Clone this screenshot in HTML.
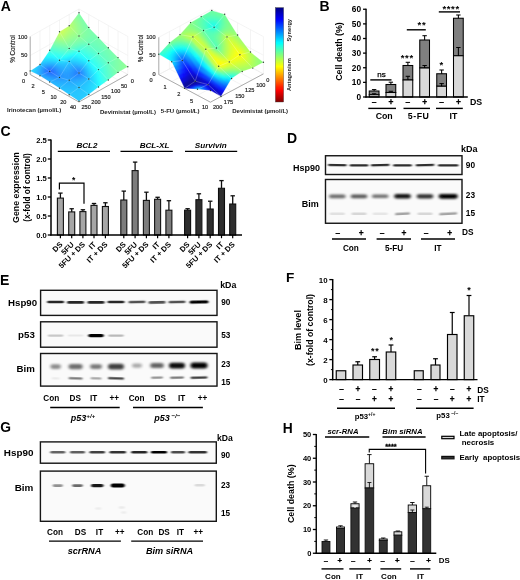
<!DOCTYPE html>
<html lang="en">
<head>
<meta charset="utf-8">
<title>Figure</title>
<style>
html,body{margin:0;padding:0;background:#fff;}
body{width:520px;height:580px;overflow:hidden;font-family:"Liberation Sans", Arial, sans-serif;}
svg{display:block;}
svg text{font-family:"Liberation Sans", Arial, sans-serif;}
</style>
</head>
<body>
<svg width="520" height="580" viewBox="0 0 520 580">
<defs>
<filter id="b1" x="-20%" y="-100%" width="140%" height="300%"><feGaussianBlur stdDeviation="1.1 0.7"/></filter>
<filter id="b2" x="-20%" y="-100%" width="140%" height="300%"><feGaussianBlur stdDeviation="1.4 1.0"/></filter>
<filter id="b3" x="-20%" y="-100%" width="140%" height="300%"><feGaussianBlur stdDeviation="1.0 0.5"/></filter>
<filter id="sb" x="-5%" y="-5%" width="110%" height="110%"><feGaussianBlur stdDeviation="0.6"/></filter>
<filter id="surfblur" x="-5%" y="-5%" width="110%" height="110%"><feGaussianBlur stdDeviation="0.8"/><feComponentTransfer><feFuncA type="linear" slope="12" intercept="0"/></feComponentTransfer></filter>
<filter id="soft" x="-2%" y="-2%" width="104%" height="104%"><feGaussianBlur stdDeviation="0.36"/></filter>
<linearGradient id="jetbar" x1="0" y1="0" x2="0" y2="1">
<stop offset="0" stop-color="#000080"/>
<stop offset="0.125" stop-color="#0000ff"/>
<stop offset="0.375" stop-color="#00ffff"/>
<stop offset="0.625" stop-color="#ffff00"/>
<stop offset="0.875" stop-color="#ff0000"/>
<stop offset="1" stop-color="#800000"/>
</linearGradient>
</defs>
<rect x="0" y="0" width="520" height="580" fill="#ffffff"/>
<g filter="url(#soft)">
<text x="0.8" y="10.6" font-size="14" font-weight="bold">A</text>
<polyline points="30.2,74.5 79.0,47.0 127.8,74.5" fill="none" stroke="#ececec" stroke-width="0.6"/>
<polyline points="30.2,55.5 79.0,28.0 127.8,55.5" fill="none" stroke="#ececec" stroke-width="0.6"/>
<polyline points="30.2,36.5 79.0,9.0 127.8,36.5" fill="none" stroke="#ececec" stroke-width="0.6"/>
<line x1="30.20" y1="74.50" x2="30.20" y2="36.50" stroke="#ececec" stroke-width="0.6"/>
<line x1="79.00" y1="47.00" x2="79.00" y2="9.00" stroke="#ececec" stroke-width="0.6"/>
<line x1="30.20" y1="74.50" x2="79.00" y2="47.00" stroke="#ececec" stroke-width="0.6"/>
<line x1="79.00" y1="102.00" x2="30.20" y2="74.50" stroke="#ececec" stroke-width="0.6"/>
<line x1="39.96" y1="69.00" x2="39.96" y2="31.00" stroke="#ececec" stroke-width="0.6"/>
<line x1="88.76" y1="52.50" x2="88.76" y2="14.50" stroke="#ececec" stroke-width="0.6"/>
<line x1="39.96" y1="80.00" x2="88.76" y2="52.50" stroke="#ececec" stroke-width="0.6"/>
<line x1="88.76" y1="96.50" x2="39.96" y2="69.00" stroke="#ececec" stroke-width="0.6"/>
<line x1="49.72" y1="63.50" x2="49.72" y2="25.50" stroke="#ececec" stroke-width="0.6"/>
<line x1="98.52" y1="58.00" x2="98.52" y2="20.00" stroke="#ececec" stroke-width="0.6"/>
<line x1="49.72" y1="85.50" x2="98.52" y2="58.00" stroke="#ececec" stroke-width="0.6"/>
<line x1="98.52" y1="91.00" x2="49.72" y2="63.50" stroke="#ececec" stroke-width="0.6"/>
<line x1="59.48" y1="58.00" x2="59.48" y2="20.00" stroke="#ececec" stroke-width="0.6"/>
<line x1="108.28" y1="63.50" x2="108.28" y2="25.50" stroke="#ececec" stroke-width="0.6"/>
<line x1="59.48" y1="91.00" x2="108.28" y2="63.50" stroke="#ececec" stroke-width="0.6"/>
<line x1="108.28" y1="85.50" x2="59.48" y2="58.00" stroke="#ececec" stroke-width="0.6"/>
<line x1="69.24" y1="52.50" x2="69.24" y2="14.50" stroke="#ececec" stroke-width="0.6"/>
<line x1="118.04" y1="69.00" x2="118.04" y2="31.00" stroke="#ececec" stroke-width="0.6"/>
<line x1="69.24" y1="96.50" x2="118.04" y2="69.00" stroke="#ececec" stroke-width="0.6"/>
<line x1="118.04" y1="80.00" x2="69.24" y2="52.50" stroke="#ececec" stroke-width="0.6"/>
<line x1="79.00" y1="47.00" x2="79.00" y2="9.00" stroke="#ececec" stroke-width="0.6"/>
<line x1="127.80" y1="74.50" x2="127.80" y2="36.50" stroke="#ececec" stroke-width="0.6"/>
<line x1="79.00" y1="102.00" x2="127.80" y2="74.50" stroke="#ececec" stroke-width="0.6"/>
<line x1="127.80" y1="74.50" x2="79.00" y2="47.00" stroke="#ececec" stroke-width="0.6"/>
<line x1="30.20" y1="74.50" x2="30.20" y2="36.50" stroke="#8c8c8c" stroke-width="0.7"/>
<line x1="30.20" y1="74.50" x2="79.00" y2="102.00" stroke="#8c8c8c" stroke-width="0.7"/>
<line x1="79.00" y1="102.00" x2="127.80" y2="74.50" stroke="#8c8c8c" stroke-width="0.7"/>
<clipPath id="cs1">
<polygon points="69.2,25.7 79.0,36.0 88.8,27.4 79.0,12.8"/>
<polygon points="59.5,31.7 69.2,48.4 79.0,36.0 69.2,25.7"/>
<polygon points="79.0,36.0 88.8,44.3 98.5,37.5 88.8,27.4"/>
<polygon points="49.7,50.2 59.5,60.2 69.2,48.4 59.5,31.7"/>
<polygon points="69.2,48.4 79.0,51.2 88.8,44.3 79.0,36.0"/>
<polygon points="88.8,44.3 98.5,53.5 108.3,47.7 98.5,37.5"/>
<polygon points="40.0,64.5 49.7,71.4 59.5,60.2 49.7,50.2"/>
<polygon points="59.5,60.2 69.2,61.4 79.0,51.2 69.2,48.4"/>
<polygon points="79.0,51.2 88.8,60.7 98.5,53.5 88.8,44.3"/>
<polygon points="98.5,53.5 108.3,62.7 118.0,57.6 108.3,47.7"/>
<polygon points="30.2,70.9 40.0,75.7 49.7,71.4 40.0,64.5"/>
<polygon points="49.7,71.4 59.5,77.4 69.2,61.4 59.5,60.2"/>
<polygon points="69.2,61.4 79.0,73.0 88.8,60.7 79.0,51.2"/>
<polygon points="88.8,60.7 98.5,69.6 108.3,62.7 98.5,53.5"/>
<polygon points="108.3,62.7 118.0,72.4 127.8,66.8 118.0,57.6"/>
<polygon points="40.0,75.7 49.7,82.0 59.5,77.4 49.7,71.4"/>
<polygon points="59.5,77.4 69.2,80.3 79.0,73.0 69.2,61.4"/>
<polygon points="79.0,73.0 88.8,79.0 98.5,69.6 88.8,60.7"/>
<polygon points="98.5,69.6 108.3,80.0 118.0,72.4 108.3,62.7"/>
<polygon points="49.7,82.0 59.5,88.3 69.2,80.3 59.5,77.4"/>
<polygon points="69.2,80.3 79.0,87.5 88.8,79.0 79.0,73.0"/>
<polygon points="88.8,79.0 98.5,87.0 108.3,80.0 98.5,69.6"/>
<polygon points="59.5,88.3 69.2,94.7 79.0,87.5 69.2,80.3"/>
<polygon points="79.0,87.5 88.8,94.5 98.5,87.0 88.8,79.0"/>
<polygon points="69.2,94.7 79.0,101.3 88.8,94.5 79.0,87.5"/>
</clipPath>
<g clip-path="url(#cs1)"><g filter="url(#surfblur)">
<polygon points="77.0,15.4 79.0,18.1 81.0,15.7 79.0,12.8" fill="#82ffa8" stroke="#82ffa8" stroke-width="0.5"/>
<polygon points="75.1,18.0 77.0,20.5 79.0,18.1 77.0,15.4" fill="#8fff9c" stroke="#8fff9c" stroke-width="0.5"/>
<polygon points="73.1,20.5 75.1,22.9 77.0,20.5 75.1,18.0" fill="#9cff8f" stroke="#9cff8f" stroke-width="0.5"/>
<polygon points="71.2,23.1 73.1,25.4 75.1,22.9 73.1,20.5" fill="#a8ff82" stroke="#a8ff82" stroke-width="0.5"/>
<polygon points="69.2,25.7 71.2,27.8 73.1,25.4 71.2,23.1" fill="#b5ff75" stroke="#b5ff75" stroke-width="0.5"/>
<polygon points="79.0,18.1 81.0,20.9 82.9,18.6 81.0,15.7" fill="#81ffa9" stroke="#81ffa9" stroke-width="0.5"/>
<polygon points="77.0,20.5 79.0,23.1 81.0,20.9 79.0,18.1" fill="#8cff9e" stroke="#8cff9e" stroke-width="0.5"/>
<polygon points="75.1,22.9 77.0,25.3 79.0,23.1 77.0,20.5" fill="#97ff93" stroke="#97ff93" stroke-width="0.5"/>
<polygon points="73.1,25.4 75.1,27.6 77.0,25.3 75.1,22.9" fill="#a2ff88" stroke="#a2ff88" stroke-width="0.5"/>
<polygon points="71.2,27.8 73.1,29.8 75.1,27.6 73.1,25.4" fill="#adff7d" stroke="#adff7d" stroke-width="0.5"/>
<polygon points="81.0,20.9 82.9,23.6 84.9,21.6 82.9,18.6" fill="#80ffaa" stroke="#80ffaa" stroke-width="0.5"/>
<polygon points="79.0,23.1 81.0,25.7 82.9,23.6 81.0,20.9" fill="#8affa1" stroke="#8affa1" stroke-width="0.5"/>
<polygon points="77.0,25.3 79.0,27.8 81.0,25.7 79.0,23.1" fill="#93ff97" stroke="#93ff97" stroke-width="0.5"/>
<polygon points="75.1,27.6 77.0,29.8 79.0,27.8 77.0,25.3" fill="#9cff8e" stroke="#9cff8e" stroke-width="0.5"/>
<polygon points="73.1,29.8 75.1,31.9 77.0,29.8 75.1,27.6" fill="#a6ff85" stroke="#a6ff85" stroke-width="0.5"/>
<polygon points="82.9,23.6 84.9,26.4 86.8,24.5 84.9,21.6" fill="#80ffab" stroke="#80ffab" stroke-width="0.5"/>
<polygon points="81.0,25.7 82.9,28.3 84.9,26.4 82.9,23.6" fill="#87ffa3" stroke="#87ffa3" stroke-width="0.5"/>
<polygon points="79.0,27.8 81.0,30.2 82.9,28.3 81.0,25.7" fill="#8fff9c" stroke="#8fff9c" stroke-width="0.5"/>
<polygon points="77.0,29.8 79.0,32.0 81.0,30.2 79.0,27.8" fill="#96ff94" stroke="#96ff94" stroke-width="0.5"/>
<polygon points="75.1,31.9 77.0,33.9 79.0,32.0 77.0,29.8" fill="#9eff8c" stroke="#9eff8c" stroke-width="0.5"/>
<polygon points="84.9,26.4 86.8,29.1 88.8,27.4 86.8,24.5" fill="#7fffac" stroke="#7fffac" stroke-width="0.5"/>
<polygon points="82.9,28.3 84.9,30.8 86.8,29.1 84.9,26.4" fill="#85ffa6" stroke="#85ffa6" stroke-width="0.5"/>
<polygon points="81.0,30.2 82.9,32.6 84.9,30.8 82.9,28.3" fill="#8bffa0" stroke="#8bffa0" stroke-width="0.5"/>
<polygon points="79.0,32.0 81.0,34.3 82.9,32.6 81.0,30.2" fill="#91ff9a" stroke="#91ff9a" stroke-width="0.5"/>
<polygon points="77.0,33.9 79.0,36.0 81.0,34.3 79.0,32.0" fill="#96ff94" stroke="#96ff94" stroke-width="0.5"/>
<polygon points="67.3,26.9 69.2,29.2 71.2,27.8 69.2,25.7" fill="#bdff6d" stroke="#bdff6d" stroke-width="0.5"/>
<polygon points="65.3,28.1 67.3,30.7 69.2,29.2 67.3,26.9" fill="#c1ff69" stroke="#c1ff69" stroke-width="0.5"/>
<polygon points="63.4,29.3 65.3,32.1 67.3,30.7 65.3,28.1" fill="#c5ff65" stroke="#c5ff65" stroke-width="0.5"/>
<polygon points="61.4,30.5 63.4,33.6 65.3,32.1 63.4,29.3" fill="#c9ff61" stroke="#c9ff61" stroke-width="0.5"/>
<polygon points="59.5,31.7 61.4,35.0 63.4,33.6 61.4,30.5" fill="#cdff5e" stroke="#cdff5e" stroke-width="0.5"/>
<polygon points="69.2,29.2 71.2,31.5 73.1,29.8 71.2,27.8" fill="#b4ff77" stroke="#b4ff77" stroke-width="0.5"/>
<polygon points="67.3,30.7 69.2,33.2 71.2,31.5 69.2,29.2" fill="#b5ff75" stroke="#b5ff75" stroke-width="0.5"/>
<polygon points="65.3,32.1 67.3,35.0 69.2,33.2 67.3,30.7" fill="#b7ff74" stroke="#b7ff74" stroke-width="0.5"/>
<polygon points="63.4,33.6 65.3,36.7 67.3,35.0 65.3,32.1" fill="#b8ff72" stroke="#b8ff72" stroke-width="0.5"/>
<polygon points="61.4,35.0 63.4,38.4 65.3,36.7 63.4,33.6" fill="#baff71" stroke="#baff71" stroke-width="0.5"/>
<polygon points="71.2,31.5 73.1,33.8 75.1,31.9 73.1,29.8" fill="#aaff80" stroke="#aaff80" stroke-width="0.5"/>
<polygon points="69.2,33.2 71.2,35.8 73.1,33.8 71.2,31.5" fill="#a9ff81" stroke="#a9ff81" stroke-width="0.5"/>
<polygon points="67.3,35.0 69.2,37.8 71.2,35.8 69.2,33.2" fill="#a8ff82" stroke="#a8ff82" stroke-width="0.5"/>
<polygon points="65.3,36.7 67.3,39.8 69.2,37.8 67.3,35.0" fill="#a7ff83" stroke="#a7ff83" stroke-width="0.5"/>
<polygon points="63.4,38.4 65.3,41.7 67.3,39.8 65.3,36.7" fill="#a7ff84" stroke="#a7ff84" stroke-width="0.5"/>
<polygon points="73.1,33.8 75.1,36.2 77.0,33.9 75.1,31.9" fill="#a0ff8a" stroke="#a0ff8a" stroke-width="0.5"/>
<polygon points="71.2,35.8 73.1,38.4 75.1,36.2 73.1,33.8" fill="#9dff8d" stroke="#9dff8d" stroke-width="0.5"/>
<polygon points="69.2,37.8 71.2,40.6 73.1,38.4 71.2,35.8" fill="#9aff91" stroke="#9aff91" stroke-width="0.5"/>
<polygon points="67.3,39.8 69.2,42.8 71.2,40.6 69.2,37.8" fill="#97ff94" stroke="#97ff94" stroke-width="0.5"/>
<polygon points="65.3,41.7 67.3,45.1 69.2,42.8 67.3,39.8" fill="#93ff97" stroke="#93ff97" stroke-width="0.5"/>
<polygon points="75.1,36.2 77.0,38.5 79.0,36.0 77.0,33.9" fill="#97ff94" stroke="#97ff94" stroke-width="0.5"/>
<polygon points="73.1,38.4 75.1,41.0 77.0,38.5 75.1,36.2" fill="#91ff99" stroke="#91ff99" stroke-width="0.5"/>
<polygon points="71.2,40.6 73.1,43.4 75.1,41.0 73.1,38.4" fill="#8bff9f" stroke="#8bff9f" stroke-width="0.5"/>
<polygon points="69.2,42.8 71.2,45.9 73.1,43.4 71.2,40.6" fill="#86ffa4" stroke="#86ffa4" stroke-width="0.5"/>
<polygon points="67.3,45.1 69.2,48.4 71.2,45.9 69.2,42.8" fill="#80ffaa" stroke="#80ffaa" stroke-width="0.5"/>
<polygon points="86.8,29.1 88.8,31.1 90.7,29.4 88.8,27.4" fill="#7effac" stroke="#7effac" stroke-width="0.5"/>
<polygon points="84.9,30.8 86.8,32.7 88.8,31.1 86.8,29.1" fill="#82ffa8" stroke="#82ffa8" stroke-width="0.5"/>
<polygon points="82.9,32.6 84.9,34.4 86.8,32.7 84.9,30.8" fill="#86ffa4" stroke="#86ffa4" stroke-width="0.5"/>
<polygon points="81.0,34.3 82.9,36.0 84.9,34.4 82.9,32.6" fill="#8bffa0" stroke="#8bffa0" stroke-width="0.5"/>
<polygon points="79.0,36.0 81.0,37.7 82.9,36.0 81.0,34.3" fill="#8fff9c" stroke="#8fff9c" stroke-width="0.5"/>
<polygon points="88.8,31.1 90.7,33.0 92.7,31.4 90.7,29.4" fill="#7dffad" stroke="#7dffad" stroke-width="0.5"/>
<polygon points="86.8,32.7 88.8,34.6 90.7,33.0 88.8,31.1" fill="#80ffab" stroke="#80ffab" stroke-width="0.5"/>
<polygon points="84.9,34.4 86.8,36.2 88.8,34.6 86.8,32.7" fill="#82ffa8" stroke="#82ffa8" stroke-width="0.5"/>
<polygon points="82.9,36.0 84.9,37.7 86.8,36.2 84.9,34.4" fill="#85ffa6" stroke="#85ffa6" stroke-width="0.5"/>
<polygon points="81.0,37.7 82.9,39.3 84.9,37.7 82.9,36.0" fill="#87ffa3" stroke="#87ffa3" stroke-width="0.5"/>
<polygon points="90.7,33.0 92.7,35.0 94.6,33.5 92.7,31.4" fill="#7cffae" stroke="#7cffae" stroke-width="0.5"/>
<polygon points="88.8,34.6 90.7,36.5 92.7,35.0 90.7,33.0" fill="#7dffad" stroke="#7dffad" stroke-width="0.5"/>
<polygon points="86.8,36.2 88.8,38.0 90.7,36.5 88.8,34.6" fill="#7effac" stroke="#7effac" stroke-width="0.5"/>
<polygon points="84.9,37.7 86.8,39.5 88.8,38.0 86.8,36.2" fill="#7fffac" stroke="#7fffac" stroke-width="0.5"/>
<polygon points="82.9,39.3 84.9,41.0 86.8,39.5 84.9,37.7" fill="#80ffab" stroke="#80ffab" stroke-width="0.5"/>
<polygon points="92.7,35.0 94.6,36.9 96.6,35.5 94.6,33.5" fill="#7bffaf" stroke="#7bffaf" stroke-width="0.5"/>
<polygon points="90.7,36.5 92.7,38.3 94.6,36.9 92.7,35.0" fill="#7bffb0" stroke="#7bffb0" stroke-width="0.5"/>
<polygon points="88.8,38.0 90.7,39.8 92.7,38.3 90.7,36.5" fill="#7affb1" stroke="#7affb1" stroke-width="0.5"/>
<polygon points="86.8,39.5 88.8,41.2 90.7,39.8 88.8,38.0" fill="#79ffb2" stroke="#79ffb2" stroke-width="0.5"/>
<polygon points="84.9,41.0 86.8,42.6 88.8,41.2 86.8,39.5" fill="#78ffb2" stroke="#78ffb2" stroke-width="0.5"/>
<polygon points="94.6,36.9 96.6,38.9 98.5,37.5 96.6,35.5" fill="#7bffb0" stroke="#7bffb0" stroke-width="0.5"/>
<polygon points="92.7,38.3 94.6,40.2 96.6,38.9 94.6,36.9" fill="#78ffb2" stroke="#78ffb2" stroke-width="0.5"/>
<polygon points="90.7,39.8 92.7,41.6 94.6,40.2 92.7,38.3" fill="#75ffb5" stroke="#75ffb5" stroke-width="0.5"/>
<polygon points="88.8,41.2 90.7,42.9 92.7,41.6 90.7,39.8" fill="#73ffb7" stroke="#73ffb7" stroke-width="0.5"/>
<polygon points="86.8,42.6 88.8,44.3 90.7,42.9 88.8,41.2" fill="#70ffba" stroke="#70ffba" stroke-width="0.5"/>
<polygon points="57.5,35.4 59.5,38.5 61.4,35.0 59.5,31.7" fill="#c2ff69" stroke="#c2ff69" stroke-width="0.5"/>
<polygon points="55.6,39.1 57.5,41.9 59.5,38.5 57.5,35.4" fill="#a8ff83" stroke="#a8ff83" stroke-width="0.5"/>
<polygon points="53.6,42.8 55.6,45.3 57.5,41.9 55.6,39.1" fill="#8eff9d" stroke="#8eff9d" stroke-width="0.5"/>
<polygon points="51.7,46.5 53.6,48.8 55.6,45.3 53.6,42.8" fill="#73ffb7" stroke="#73ffb7" stroke-width="0.5"/>
<polygon points="49.7,50.2 51.7,52.2 53.6,48.8 51.7,46.5" fill="#59ffd1" stroke="#59ffd1" stroke-width="0.5"/>
<polygon points="59.5,38.5 61.4,41.5 63.4,38.4 61.4,35.0" fill="#aeff7c" stroke="#aeff7c" stroke-width="0.5"/>
<polygon points="57.5,41.9 59.5,44.7 61.4,41.5 59.5,38.5" fill="#96ff94" stroke="#96ff94" stroke-width="0.5"/>
<polygon points="55.6,45.3 57.5,47.9 59.5,44.7 57.5,41.9" fill="#7effac" stroke="#7effac" stroke-width="0.5"/>
<polygon points="53.6,48.8 55.6,51.0 57.5,47.9 55.6,45.3" fill="#66ffc4" stroke="#66ffc4" stroke-width="0.5"/>
<polygon points="51.7,52.2 53.6,54.2 55.6,51.0 53.6,48.8" fill="#4effdc" stroke="#4effdc" stroke-width="0.5"/>
<polygon points="61.4,41.5 63.4,44.6 65.3,41.7 63.4,38.4" fill="#9bff8f" stroke="#9bff8f" stroke-width="0.5"/>
<polygon points="59.5,44.7 61.4,47.5 63.4,44.6 61.4,41.5" fill="#85ffa5" stroke="#85ffa5" stroke-width="0.5"/>
<polygon points="57.5,47.9 59.5,50.4 61.4,47.5 59.5,44.7" fill="#6fffbb" stroke="#6fffbb" stroke-width="0.5"/>
<polygon points="55.6,51.0 57.5,53.3 59.5,50.4 57.5,47.9" fill="#59ffd1" stroke="#59ffd1" stroke-width="0.5"/>
<polygon points="53.6,54.2 55.6,56.2 57.5,53.3 55.6,51.0" fill="#43ffe7" stroke="#43ffe7" stroke-width="0.5"/>
<polygon points="63.4,44.6 65.3,47.7 67.3,45.1 65.3,41.7" fill="#88ffa3" stroke="#88ffa3" stroke-width="0.5"/>
<polygon points="61.4,47.5 63.4,50.3 65.3,47.7 63.4,44.6" fill="#74ffb7" stroke="#74ffb7" stroke-width="0.5"/>
<polygon points="59.5,50.4 61.4,52.9 63.4,50.3 61.4,47.5" fill="#60ffcb" stroke="#60ffcb" stroke-width="0.5"/>
<polygon points="57.5,53.3 59.5,55.6 61.4,52.9 59.5,50.4" fill="#4cffde" stroke="#4cffde" stroke-width="0.5"/>
<polygon points="55.6,56.2 57.5,58.2 59.5,55.6 57.5,53.3" fill="#38fff2" stroke="#38fff2" stroke-width="0.5"/>
<polygon points="65.3,47.7 67.3,50.8 69.2,48.4 67.3,45.1" fill="#74ffb6" stroke="#74ffb6" stroke-width="0.5"/>
<polygon points="63.4,50.3 65.3,53.1 67.3,50.8 65.3,47.7" fill="#63ffc8" stroke="#63ffc8" stroke-width="0.5"/>
<polygon points="61.4,52.9 63.4,55.5 65.3,53.1 63.4,50.3" fill="#51ffda" stroke="#51ffda" stroke-width="0.5"/>
<polygon points="59.5,55.6 61.4,57.8 63.4,55.5 61.4,52.9" fill="#3fffec" stroke="#3fffec" stroke-width="0.5"/>
<polygon points="57.5,58.2 59.5,60.2 61.4,57.8 59.5,55.6" fill="#2dfffe" stroke="#2dfffe" stroke-width="0.5"/>
<polygon points="77.0,38.5 79.0,39.9 81.0,37.7 79.0,36.0" fill="#8dff9d" stroke="#8dff9d" stroke-width="0.5"/>
<polygon points="75.1,41.0 77.0,42.2 79.0,39.9 77.0,38.5" fill="#87ffa4" stroke="#87ffa4" stroke-width="0.5"/>
<polygon points="73.1,43.4 75.1,44.4 77.0,42.2 75.1,41.0" fill="#80ffab" stroke="#80ffab" stroke-width="0.5"/>
<polygon points="71.2,45.9 73.1,46.7 75.1,44.4 73.1,43.4" fill="#79ffb2" stroke="#79ffb2" stroke-width="0.5"/>
<polygon points="69.2,48.4 71.2,49.0 73.1,46.7 71.2,45.9" fill="#72ffb9" stroke="#72ffb9" stroke-width="0.5"/>
<polygon points="79.0,39.9 81.0,41.4 82.9,39.3 81.0,37.7" fill="#85ffa6" stroke="#85ffa6" stroke-width="0.5"/>
<polygon points="77.0,42.2 79.0,43.4 81.0,41.4 79.0,39.9" fill="#7effad" stroke="#7effad" stroke-width="0.5"/>
<polygon points="75.1,44.4 77.0,45.4 79.0,43.4 77.0,42.2" fill="#76ffb4" stroke="#76ffb4" stroke-width="0.5"/>
<polygon points="73.1,46.7 75.1,47.5 77.0,45.4 75.1,44.4" fill="#6fffbb" stroke="#6fffbb" stroke-width="0.5"/>
<polygon points="71.2,49.0 73.1,49.5 75.1,47.5 73.1,46.7" fill="#68ffc3" stroke="#68ffc3" stroke-width="0.5"/>
<polygon points="81.0,41.4 82.9,42.8 84.9,41.0 82.9,39.3" fill="#7cffae" stroke="#7cffae" stroke-width="0.5"/>
<polygon points="79.0,43.4 81.0,44.6 82.9,42.8 81.0,41.4" fill="#75ffb6" stroke="#75ffb6" stroke-width="0.5"/>
<polygon points="77.0,45.4 79.0,46.4 81.0,44.6 79.0,43.4" fill="#6dffbd" stroke="#6dffbd" stroke-width="0.5"/>
<polygon points="75.1,47.5 77.0,48.3 79.0,46.4 77.0,45.4" fill="#65ffc5" stroke="#65ffc5" stroke-width="0.5"/>
<polygon points="73.1,49.5 75.1,50.1 77.0,48.3 75.1,47.5" fill="#5effcd" stroke="#5effcd" stroke-width="0.5"/>
<polygon points="82.9,42.8 84.9,44.2 86.8,42.6 84.9,41.0" fill="#74ffb7" stroke="#74ffb7" stroke-width="0.5"/>
<polygon points="81.0,44.6 82.9,45.8 84.9,44.2 82.9,42.8" fill="#6cffbf" stroke="#6cffbf" stroke-width="0.5"/>
<polygon points="79.0,46.4 81.0,47.4 82.9,45.8 81.0,44.6" fill="#64ffc7" stroke="#64ffc7" stroke-width="0.5"/>
<polygon points="77.0,48.3 79.0,49.0 81.0,47.4 79.0,46.4" fill="#5cffcf" stroke="#5cffcf" stroke-width="0.5"/>
<polygon points="75.1,50.1 77.0,50.6 79.0,49.0 77.0,48.3" fill="#54ffd7" stroke="#54ffd7" stroke-width="0.5"/>
<polygon points="84.9,44.2 86.8,45.7 88.8,44.3 86.8,42.6" fill="#6bffbf" stroke="#6bffbf" stroke-width="0.5"/>
<polygon points="82.9,45.8 84.9,47.1 86.8,45.7 84.9,44.2" fill="#63ffc8" stroke="#63ffc8" stroke-width="0.5"/>
<polygon points="81.0,47.4 82.9,48.4 84.9,47.1 82.9,45.8" fill="#5affd0" stroke="#5affd0" stroke-width="0.5"/>
<polygon points="79.0,49.0 81.0,49.8 82.9,48.4 81.0,47.4" fill="#52ffd8" stroke="#52ffd8" stroke-width="0.5"/>
<polygon points="77.0,50.6 79.0,51.2 81.0,49.8 79.0,49.0" fill="#4affe1" stroke="#4affe1" stroke-width="0.5"/>
<polygon points="96.6,38.9 98.5,40.9 100.5,39.5 98.5,37.5" fill="#7affb0" stroke="#7affb0" stroke-width="0.5"/>
<polygon points="94.6,40.2 96.6,42.2 98.5,40.9 96.6,38.9" fill="#76ffb4" stroke="#76ffb4" stroke-width="0.5"/>
<polygon points="92.7,41.6 94.6,43.5 96.6,42.2 94.6,40.2" fill="#73ffb7" stroke="#73ffb7" stroke-width="0.5"/>
<polygon points="90.7,42.9 92.7,44.8 94.6,43.5 92.7,41.6" fill="#6fffbb" stroke="#6fffbb" stroke-width="0.5"/>
<polygon points="88.8,44.3 90.7,46.1 92.7,44.8 90.7,42.9" fill="#6cffbf" stroke="#6cffbf" stroke-width="0.5"/>
<polygon points="98.5,40.9 100.5,42.9 102.4,41.6 100.5,39.5" fill="#7affb1" stroke="#7affb1" stroke-width="0.5"/>
<polygon points="96.6,42.2 98.5,44.1 100.5,42.9 98.5,40.9" fill="#76ffb4" stroke="#76ffb4" stroke-width="0.5"/>
<polygon points="94.6,43.5 96.6,45.4 98.5,44.1 96.6,42.2" fill="#72ffb8" stroke="#72ffb8" stroke-width="0.5"/>
<polygon points="92.7,44.8 94.6,46.7 96.6,45.4 94.6,43.5" fill="#6effbc" stroke="#6effbc" stroke-width="0.5"/>
<polygon points="90.7,46.1 92.7,48.0 94.6,46.7 92.7,44.8" fill="#6affc0" stroke="#6affc0" stroke-width="0.5"/>
<polygon points="100.5,42.9 102.4,44.9 104.4,43.6 102.4,41.6" fill="#7affb1" stroke="#7affb1" stroke-width="0.5"/>
<polygon points="98.5,44.1 100.5,46.1 102.4,44.9 100.5,42.9" fill="#75ffb5" stroke="#75ffb5" stroke-width="0.5"/>
<polygon points="96.6,45.4 98.5,47.3 100.5,46.1 98.5,44.1" fill="#71ffb9" stroke="#71ffb9" stroke-width="0.5"/>
<polygon points="94.6,46.7 96.6,48.6 98.5,47.3 96.6,45.4" fill="#6dffbd" stroke="#6dffbd" stroke-width="0.5"/>
<polygon points="92.7,48.0 94.6,49.8 96.6,48.6 94.6,46.7" fill="#69ffc2" stroke="#69ffc2" stroke-width="0.5"/>
<polygon points="102.4,44.9 104.4,46.9 106.3,45.7 104.4,43.6" fill="#79ffb1" stroke="#79ffb1" stroke-width="0.5"/>
<polygon points="100.5,46.1 102.4,48.1 104.4,46.9 102.4,44.9" fill="#75ffb5" stroke="#75ffb5" stroke-width="0.5"/>
<polygon points="98.5,47.3 100.5,49.3 102.4,48.1 100.5,46.1" fill="#70ffba" stroke="#70ffba" stroke-width="0.5"/>
<polygon points="96.6,48.6 98.5,50.5 100.5,49.3 98.5,47.3" fill="#6cffbf" stroke="#6cffbf" stroke-width="0.5"/>
<polygon points="94.6,49.8 96.6,51.7 98.5,50.5 96.6,48.6" fill="#67ffc3" stroke="#67ffc3" stroke-width="0.5"/>
<polygon points="104.4,46.9 106.3,48.9 108.3,47.7 106.3,45.7" fill="#79ffb1" stroke="#79ffb1" stroke-width="0.5"/>
<polygon points="102.4,48.1 104.4,50.0 106.3,48.9 104.4,46.9" fill="#74ffb6" stroke="#74ffb6" stroke-width="0.5"/>
<polygon points="100.5,49.3 102.4,51.2 104.4,50.0 102.4,48.1" fill="#70ffbb" stroke="#70ffbb" stroke-width="0.5"/>
<polygon points="98.5,50.5 100.5,52.3 102.4,51.2 100.5,49.3" fill="#6bffc0" stroke="#6bffc0" stroke-width="0.5"/>
<polygon points="96.6,51.7 98.5,53.5 100.5,52.3 98.5,50.5" fill="#66ffc5" stroke="#66ffc5" stroke-width="0.5"/>
<polygon points="47.8,53.1 49.7,54.9 51.7,52.2 49.7,50.2" fill="#42ffe8" stroke="#42ffe8" stroke-width="0.5"/>
<polygon points="45.8,55.9 47.8,57.7 49.7,54.9 47.8,53.1" fill="#2ffffc" stroke="#2ffffc" stroke-width="0.5"/>
<polygon points="43.9,58.8 45.8,60.4 47.8,57.7 45.8,55.9" fill="#2beeff" stroke="#2beeff" stroke-width="0.5"/>
<polygon points="41.9,61.6 43.9,63.1 45.8,60.4 43.9,58.8" fill="#2bdbff" stroke="#2bdbff" stroke-width="0.5"/>
<polygon points="40.0,64.5 41.9,65.9 43.9,63.1 41.9,61.6" fill="#2bc7ff" stroke="#2bc7ff" stroke-width="0.5"/>
<polygon points="49.7,54.9 51.7,56.8 53.6,54.2 51.7,52.2" fill="#37fff3" stroke="#37fff3" stroke-width="0.5"/>
<polygon points="47.8,57.7 49.7,59.4 51.7,56.8 49.7,54.9" fill="#2bf5ff" stroke="#2bf5ff" stroke-width="0.5"/>
<polygon points="45.8,60.4 47.8,62.0 49.7,59.4 47.8,57.7" fill="#2bdeff" stroke="#2bdeff" stroke-width="0.5"/>
<polygon points="43.9,63.1 45.8,64.6 47.8,62.0 45.8,60.4" fill="#2bc8ff" stroke="#2bc8ff" stroke-width="0.5"/>
<polygon points="41.9,65.9 43.9,67.3 45.8,64.6 43.9,63.1" fill="#2bb2ff" stroke="#2bb2ff" stroke-width="0.5"/>
<polygon points="51.7,56.8 53.6,58.7 55.6,56.2 53.6,54.2" fill="#2cffff" stroke="#2cffff" stroke-width="0.5"/>
<polygon points="49.7,59.4 51.7,61.2 53.6,58.7 51.7,56.8" fill="#2be7ff" stroke="#2be7ff" stroke-width="0.5"/>
<polygon points="47.8,62.0 49.7,63.7 51.7,61.2 49.7,59.4" fill="#2bceff" stroke="#2bceff" stroke-width="0.5"/>
<polygon points="45.8,64.6 47.8,66.2 49.7,63.7 47.8,62.0" fill="#2bb6ff" stroke="#2bb6ff" stroke-width="0.5"/>
<polygon points="43.9,67.3 45.8,68.6 47.8,66.2 45.8,64.6" fill="#2b9dff" stroke="#2b9dff" stroke-width="0.5"/>
<polygon points="53.6,58.7 55.6,60.6 57.5,58.2 55.6,56.2" fill="#2bf4ff" stroke="#2bf4ff" stroke-width="0.5"/>
<polygon points="51.7,61.2 53.6,62.9 55.6,60.6 53.6,58.7" fill="#2bd9ff" stroke="#2bd9ff" stroke-width="0.5"/>
<polygon points="49.7,63.7 51.7,65.3 53.6,62.9 51.7,61.2" fill="#2bbeff" stroke="#2bbeff" stroke-width="0.5"/>
<polygon points="47.8,66.2 49.7,67.7 51.7,65.3 49.7,63.7" fill="#2ba3ff" stroke="#2ba3ff" stroke-width="0.5"/>
<polygon points="45.8,68.6 47.8,70.0 49.7,67.7 47.8,66.2" fill="#2b88ff" stroke="#2b88ff" stroke-width="0.5"/>
<polygon points="55.6,60.6 57.5,62.4 59.5,60.2 57.5,58.2" fill="#2be9ff" stroke="#2be9ff" stroke-width="0.5"/>
<polygon points="53.6,62.9 55.6,64.7 57.5,62.4 55.6,60.6" fill="#2bcbff" stroke="#2bcbff" stroke-width="0.5"/>
<polygon points="51.7,65.3 53.6,66.9 55.6,64.7 53.6,62.9" fill="#2baeff" stroke="#2baeff" stroke-width="0.5"/>
<polygon points="49.7,67.7 51.7,69.2 53.6,66.9 51.7,65.3" fill="#2b91ff" stroke="#2b91ff" stroke-width="0.5"/>
<polygon points="47.8,70.0 49.7,71.4 51.7,69.2 49.7,67.7" fill="#2b74ff" stroke="#2b74ff" stroke-width="0.5"/>
<polygon points="67.3,50.8 69.2,51.3 71.2,49.0 69.2,48.4" fill="#66ffc4" stroke="#66ffc4" stroke-width="0.5"/>
<polygon points="65.3,53.1 67.3,53.6 69.2,51.3 67.3,50.8" fill="#55ffd5" stroke="#55ffd5" stroke-width="0.5"/>
<polygon points="63.4,55.5 65.3,55.8 67.3,53.6 65.3,53.1" fill="#45ffe6" stroke="#45ffe6" stroke-width="0.5"/>
<polygon points="61.4,57.8 63.4,58.1 65.3,55.8 63.4,55.5" fill="#34fff6" stroke="#34fff6" stroke-width="0.5"/>
<polygon points="59.5,60.2 61.4,60.4 63.4,58.1 61.4,57.8" fill="#2bf7ff" stroke="#2bf7ff" stroke-width="0.5"/>
<polygon points="69.2,51.3 71.2,51.8 73.1,49.5 71.2,49.0" fill="#5cffce" stroke="#5cffce" stroke-width="0.5"/>
<polygon points="67.3,53.6 69.2,54.0 71.2,51.8 69.2,51.3" fill="#4cffde" stroke="#4cffde" stroke-width="0.5"/>
<polygon points="65.3,55.8 67.3,56.2 69.2,54.0 67.3,53.6" fill="#3cffee" stroke="#3cffee" stroke-width="0.5"/>
<polygon points="63.4,58.1 65.3,58.4 67.3,56.2 65.3,55.8" fill="#2cfffe" stroke="#2cfffe" stroke-width="0.5"/>
<polygon points="61.4,60.4 63.4,60.7 65.3,58.4 63.4,58.1" fill="#2bf0ff" stroke="#2bf0ff" stroke-width="0.5"/>
<polygon points="71.2,51.8 73.1,52.2 75.1,50.1 73.1,49.5" fill="#52ffd8" stroke="#52ffd8" stroke-width="0.5"/>
<polygon points="69.2,54.0 71.2,54.4 73.1,52.2 71.2,51.8" fill="#43ffe7" stroke="#43ffe7" stroke-width="0.5"/>
<polygon points="67.3,56.2 69.2,56.6 71.2,54.4 69.2,54.0" fill="#34fff7" stroke="#34fff7" stroke-width="0.5"/>
<polygon points="65.3,58.4 67.3,58.8 69.2,56.6 67.3,56.2" fill="#2bf8ff" stroke="#2bf8ff" stroke-width="0.5"/>
<polygon points="63.4,60.7 65.3,60.9 67.3,58.8 65.3,58.4" fill="#2be9ff" stroke="#2be9ff" stroke-width="0.5"/>
<polygon points="73.1,52.2 75.1,52.7 77.0,50.6 75.1,50.1" fill="#48ffe2" stroke="#48ffe2" stroke-width="0.5"/>
<polygon points="71.2,54.4 73.1,54.8 75.1,52.7 73.1,52.2" fill="#3afff0" stroke="#3afff0" stroke-width="0.5"/>
<polygon points="69.2,56.6 71.2,57.0 73.1,54.8 71.2,54.4" fill="#2bffff" stroke="#2bffff" stroke-width="0.5"/>
<polygon points="67.3,58.8 69.2,59.1 71.2,57.0 69.2,56.6" fill="#2bf0ff" stroke="#2bf0ff" stroke-width="0.5"/>
<polygon points="65.3,60.9 67.3,61.2 69.2,59.1 67.3,58.8" fill="#2be2ff" stroke="#2be2ff" stroke-width="0.5"/>
<polygon points="75.1,52.7 77.0,53.2 79.0,51.2 77.0,50.6" fill="#3fffec" stroke="#3fffec" stroke-width="0.5"/>
<polygon points="73.1,54.8 75.1,55.3 77.0,53.2 75.1,52.7" fill="#31fffa" stroke="#31fffa" stroke-width="0.5"/>
<polygon points="71.2,57.0 73.1,57.3 75.1,55.3 73.1,54.8" fill="#2bf7ff" stroke="#2bf7ff" stroke-width="0.5"/>
<polygon points="69.2,59.1 71.2,59.4 73.1,57.3 71.2,57.0" fill="#2be9ff" stroke="#2be9ff" stroke-width="0.5"/>
<polygon points="67.3,61.2 69.2,61.4 71.2,59.4 69.2,59.1" fill="#2bdbff" stroke="#2bdbff" stroke-width="0.5"/>
<polygon points="86.8,45.7 88.8,47.5 90.7,46.1 88.8,44.3" fill="#66ffc5" stroke="#66ffc5" stroke-width="0.5"/>
<polygon points="84.9,47.1 86.8,48.9 88.8,47.5 86.8,45.7" fill="#5dffcd" stroke="#5dffcd" stroke-width="0.5"/>
<polygon points="82.9,48.4 84.9,50.3 86.8,48.9 84.9,47.1" fill="#54ffd6" stroke="#54ffd6" stroke-width="0.5"/>
<polygon points="81.0,49.8 82.9,51.7 84.9,50.3 82.9,48.4" fill="#4cffdf" stroke="#4cffdf" stroke-width="0.5"/>
<polygon points="79.0,51.2 81.0,53.1 82.9,51.7 81.0,49.8" fill="#43ffe7" stroke="#43ffe7" stroke-width="0.5"/>
<polygon points="88.8,47.5 90.7,49.4 92.7,48.0 90.7,46.1" fill="#64ffc7" stroke="#64ffc7" stroke-width="0.5"/>
<polygon points="86.8,48.9 88.8,50.8 90.7,49.4 88.8,47.5" fill="#5bffd0" stroke="#5bffd0" stroke-width="0.5"/>
<polygon points="84.9,50.3 86.8,52.2 88.8,50.8 86.8,48.9" fill="#52ffd8" stroke="#52ffd8" stroke-width="0.5"/>
<polygon points="82.9,51.7 84.9,53.6 86.8,52.2 84.9,50.3" fill="#49ffe1" stroke="#49ffe1" stroke-width="0.5"/>
<polygon points="81.0,53.1 82.9,55.0 84.9,53.6 82.9,51.7" fill="#40ffea" stroke="#40ffea" stroke-width="0.5"/>
<polygon points="90.7,49.4 92.7,51.2 94.6,49.8 92.7,48.0" fill="#62ffc8" stroke="#62ffc8" stroke-width="0.5"/>
<polygon points="88.8,50.8 90.7,52.7 92.7,51.2 90.7,49.4" fill="#59ffd2" stroke="#59ffd2" stroke-width="0.5"/>
<polygon points="86.8,52.2 88.8,54.1 90.7,52.7 88.8,50.8" fill="#4fffdb" stroke="#4fffdb" stroke-width="0.5"/>
<polygon points="84.9,53.6 86.8,55.5 88.8,54.1 86.8,52.2" fill="#46ffe4" stroke="#46ffe4" stroke-width="0.5"/>
<polygon points="82.9,55.0 84.9,56.9 86.8,55.5 84.9,53.6" fill="#3dffee" stroke="#3dffee" stroke-width="0.5"/>
<polygon points="92.7,51.2 94.6,53.1 96.6,51.7 94.6,49.8" fill="#60ffca" stroke="#60ffca" stroke-width="0.5"/>
<polygon points="90.7,52.7 92.7,54.5 94.6,53.1 92.7,51.2" fill="#56ffd4" stroke="#56ffd4" stroke-width="0.5"/>
<polygon points="88.8,54.1 90.7,55.9 92.7,54.5 90.7,52.7" fill="#4dffde" stroke="#4dffde" stroke-width="0.5"/>
<polygon points="86.8,55.5 88.8,57.4 90.7,55.9 88.8,54.1" fill="#43ffe7" stroke="#43ffe7" stroke-width="0.5"/>
<polygon points="84.9,56.9 86.8,58.8 88.8,57.4 86.8,55.5" fill="#39fff1" stroke="#39fff1" stroke-width="0.5"/>
<polygon points="94.6,53.1 96.6,54.9 98.5,53.5 96.6,51.7" fill="#5effcc" stroke="#5effcc" stroke-width="0.5"/>
<polygon points="92.7,54.5 94.6,56.4 96.6,54.9 94.6,53.1" fill="#54ffd6" stroke="#54ffd6" stroke-width="0.5"/>
<polygon points="90.7,55.9 92.7,57.8 94.6,56.4 92.7,54.5" fill="#4affe0" stroke="#4affe0" stroke-width="0.5"/>
<polygon points="88.8,57.4 90.7,59.3 92.7,57.8 90.7,55.9" fill="#40ffea" stroke="#40ffea" stroke-width="0.5"/>
<polygon points="86.8,58.8 88.8,60.7 90.7,59.3 88.8,57.4" fill="#36fff4" stroke="#36fff4" stroke-width="0.5"/>
<polygon points="106.3,48.9 108.3,50.8 110.2,49.7 108.3,47.7" fill="#7affb0" stroke="#7affb0" stroke-width="0.5"/>
<polygon points="104.4,50.0 106.3,51.9 108.3,50.8 106.3,48.9" fill="#75ffb5" stroke="#75ffb5" stroke-width="0.5"/>
<polygon points="102.4,51.2 104.4,53.1 106.3,51.9 104.4,50.0" fill="#70ffba" stroke="#70ffba" stroke-width="0.5"/>
<polygon points="100.5,52.3 102.4,54.2 104.4,53.1 102.4,51.2" fill="#6bffc0" stroke="#6bffc0" stroke-width="0.5"/>
<polygon points="98.5,53.5 100.5,55.3 102.4,54.2 100.5,52.3" fill="#66ffc5" stroke="#66ffc5" stroke-width="0.5"/>
<polygon points="108.3,50.8 110.2,52.8 112.2,51.7 110.2,49.7" fill="#7cffaf" stroke="#7cffaf" stroke-width="0.5"/>
<polygon points="106.3,51.9 108.3,53.9 110.2,52.8 108.3,50.8" fill="#77ffb4" stroke="#77ffb4" stroke-width="0.5"/>
<polygon points="104.4,53.1 106.3,55.0 108.3,53.9 106.3,51.9" fill="#72ffb9" stroke="#72ffb9" stroke-width="0.5"/>
<polygon points="102.4,54.2 104.4,56.1 106.3,55.0 104.4,53.1" fill="#6dffbe" stroke="#6dffbe" stroke-width="0.5"/>
<polygon points="100.5,55.3 102.4,57.2 104.4,56.1 102.4,54.2" fill="#67ffc3" stroke="#67ffc3" stroke-width="0.5"/>
<polygon points="110.2,52.8 112.2,54.7 114.1,53.6 112.2,51.7" fill="#7dffad" stroke="#7dffad" stroke-width="0.5"/>
<polygon points="108.3,53.9 110.2,55.8 112.2,54.7 110.2,52.8" fill="#78ffb2" stroke="#78ffb2" stroke-width="0.5"/>
<polygon points="106.3,55.0 108.3,56.9 110.2,55.8 108.3,53.9" fill="#73ffb7" stroke="#73ffb7" stroke-width="0.5"/>
<polygon points="104.4,56.1 106.3,57.9 108.3,56.9 106.3,55.0" fill="#6effbc" stroke="#6effbc" stroke-width="0.5"/>
<polygon points="102.4,57.2 104.4,59.0 106.3,57.9 104.4,56.1" fill="#69ffc1" stroke="#69ffc1" stroke-width="0.5"/>
<polygon points="112.2,54.7 114.1,56.7 116.1,55.6 114.1,53.6" fill="#7fffab" stroke="#7fffab" stroke-width="0.5"/>
<polygon points="110.2,55.8 112.2,57.7 114.1,56.7 112.2,54.7" fill="#7affb0" stroke="#7affb0" stroke-width="0.5"/>
<polygon points="108.3,56.9 110.2,58.8 112.2,57.7 110.2,55.8" fill="#75ffb5" stroke="#75ffb5" stroke-width="0.5"/>
<polygon points="106.3,57.9 108.3,59.8 110.2,58.8 108.3,56.9" fill="#70ffba" stroke="#70ffba" stroke-width="0.5"/>
<polygon points="104.4,59.0 106.3,60.9 108.3,59.8 106.3,57.9" fill="#6bffc0" stroke="#6bffc0" stroke-width="0.5"/>
<polygon points="114.1,56.7 116.1,58.6 118.0,57.6 116.1,55.6" fill="#81ffa9" stroke="#81ffa9" stroke-width="0.5"/>
<polygon points="112.2,57.7 114.1,59.6 116.1,58.6 114.1,56.7" fill="#7cffaf" stroke="#7cffaf" stroke-width="0.5"/>
<polygon points="110.2,58.8 112.2,60.7 114.1,59.6 112.2,57.7" fill="#77ffb4" stroke="#77ffb4" stroke-width="0.5"/>
<polygon points="108.3,59.8 110.2,61.7 112.2,60.7 110.2,58.8" fill="#72ffb9" stroke="#72ffb9" stroke-width="0.5"/>
<polygon points="106.3,60.9 108.3,62.7 110.2,61.7 108.3,59.8" fill="#6dffbe" stroke="#6dffbe" stroke-width="0.5"/>
<polygon points="38.0,65.8 40.0,67.1 41.9,65.9 40.0,64.5" fill="#2bc0ff" stroke="#2bc0ff" stroke-width="0.5"/>
<polygon points="36.1,67.1 38.0,68.3 40.0,67.1 38.0,65.8" fill="#2bc6ff" stroke="#2bc6ff" stroke-width="0.5"/>
<polygon points="34.1,68.3 36.1,69.5 38.0,68.3 36.1,67.1" fill="#2bcdff" stroke="#2bcdff" stroke-width="0.5"/>
<polygon points="32.2,69.6 34.1,70.7 36.1,69.5 34.1,68.3" fill="#2bd3ff" stroke="#2bd3ff" stroke-width="0.5"/>
<polygon points="30.2,70.9 32.2,71.9 34.1,70.7 32.2,69.6" fill="#2bd9ff" stroke="#2bd9ff" stroke-width="0.5"/>
<polygon points="40.0,67.1 41.9,68.4 43.9,67.3 41.9,65.9" fill="#2babff" stroke="#2babff" stroke-width="0.5"/>
<polygon points="38.0,68.3 40.0,69.5 41.9,68.4 40.0,67.1" fill="#2bb4ff" stroke="#2bb4ff" stroke-width="0.5"/>
<polygon points="36.1,69.5 38.0,70.6 40.0,69.5 38.0,68.3" fill="#2bbdff" stroke="#2bbdff" stroke-width="0.5"/>
<polygon points="34.1,70.7 36.1,71.7 38.0,70.6 36.1,69.5" fill="#2bc5ff" stroke="#2bc5ff" stroke-width="0.5"/>
<polygon points="32.2,71.9 34.1,72.8 36.1,71.7 34.1,70.7" fill="#2bceff" stroke="#2bceff" stroke-width="0.5"/>
<polygon points="41.9,68.4 43.9,69.7 45.8,68.6 43.9,67.3" fill="#2b96ff" stroke="#2b96ff" stroke-width="0.5"/>
<polygon points="40.0,69.5 41.9,70.7 43.9,69.7 41.9,68.4" fill="#2ba1ff" stroke="#2ba1ff" stroke-width="0.5"/>
<polygon points="38.0,70.6 40.0,71.7 41.9,70.7 40.0,69.5" fill="#2bacff" stroke="#2bacff" stroke-width="0.5"/>
<polygon points="36.1,71.7 38.0,72.8 40.0,71.7 38.0,70.6" fill="#2bb7ff" stroke="#2bb7ff" stroke-width="0.5"/>
<polygon points="34.1,72.8 36.1,73.8 38.0,72.8 36.1,71.7" fill="#2bc2ff" stroke="#2bc2ff" stroke-width="0.5"/>
<polygon points="43.9,69.7 45.8,71.0 47.8,70.0 45.8,68.6" fill="#2b82ff" stroke="#2b82ff" stroke-width="0.5"/>
<polygon points="41.9,70.7 43.9,71.9 45.8,71.0 43.9,69.7" fill="#2b8fff" stroke="#2b8fff" stroke-width="0.5"/>
<polygon points="40.0,71.7 41.9,72.9 43.9,71.9 41.9,70.7" fill="#2b9cff" stroke="#2b9cff" stroke-width="0.5"/>
<polygon points="38.0,72.8 40.0,73.8 41.9,72.9 40.0,71.7" fill="#2baaff" stroke="#2baaff" stroke-width="0.5"/>
<polygon points="36.1,73.8 38.0,74.7 40.0,73.8 38.0,72.8" fill="#2bb7ff" stroke="#2bb7ff" stroke-width="0.5"/>
<polygon points="45.8,71.0 47.8,72.3 49.7,71.4 47.8,70.0" fill="#2b6dff" stroke="#2b6dff" stroke-width="0.5"/>
<polygon points="43.9,71.9 45.8,73.1 47.8,72.3 45.8,71.0" fill="#2b7dff" stroke="#2b7dff" stroke-width="0.5"/>
<polygon points="41.9,72.9 43.9,74.0 45.8,73.1 43.9,71.9" fill="#2b8cff" stroke="#2b8cff" stroke-width="0.5"/>
<polygon points="40.0,73.8 41.9,74.8 43.9,74.0 41.9,72.9" fill="#2b9cff" stroke="#2b9cff" stroke-width="0.5"/>
<polygon points="38.0,74.7 40.0,75.7 41.9,74.8 40.0,73.8" fill="#2bacff" stroke="#2bacff" stroke-width="0.5"/>
<polygon points="57.5,62.4 59.5,62.9 61.4,60.4 59.5,60.2" fill="#2be1ff" stroke="#2be1ff" stroke-width="0.5"/>
<polygon points="55.6,64.7 57.5,65.3 59.5,62.9 57.5,62.4" fill="#2bc4ff" stroke="#2bc4ff" stroke-width="0.5"/>
<polygon points="53.6,66.9 55.6,67.7 57.5,65.3 55.6,64.7" fill="#2ba7ff" stroke="#2ba7ff" stroke-width="0.5"/>
<polygon points="51.7,69.2 53.6,70.2 55.6,67.7 53.6,66.9" fill="#2b8aff" stroke="#2b8aff" stroke-width="0.5"/>
<polygon points="49.7,71.4 51.7,72.6 53.6,70.2 51.7,69.2" fill="#2b6dff" stroke="#2b6dff" stroke-width="0.5"/>
<polygon points="59.5,62.9 61.4,63.3 63.4,60.7 61.4,60.4" fill="#2bdbff" stroke="#2bdbff" stroke-width="0.5"/>
<polygon points="57.5,65.3 59.5,65.9 61.4,63.3 59.5,62.9" fill="#2bc2ff" stroke="#2bc2ff" stroke-width="0.5"/>
<polygon points="55.6,67.7 57.5,68.6 59.5,65.9 57.5,65.3" fill="#2ba9ff" stroke="#2ba9ff" stroke-width="0.5"/>
<polygon points="53.6,70.2 55.6,71.2 57.5,68.6 55.6,67.7" fill="#2b8fff" stroke="#2b8fff" stroke-width="0.5"/>
<polygon points="51.7,72.6 53.6,73.8 55.6,71.2 53.6,70.2" fill="#2b76ff" stroke="#2b76ff" stroke-width="0.5"/>
<polygon points="61.4,63.3 63.4,63.7 65.3,60.9 63.4,60.7" fill="#2bd6ff" stroke="#2bd6ff" stroke-width="0.5"/>
<polygon points="59.5,65.9 61.4,66.6 63.4,63.7 61.4,63.3" fill="#2bc0ff" stroke="#2bc0ff" stroke-width="0.5"/>
<polygon points="57.5,68.6 59.5,69.4 61.4,66.6 59.5,65.9" fill="#2baaff" stroke="#2baaff" stroke-width="0.5"/>
<polygon points="55.6,71.2 57.5,72.2 59.5,69.4 57.5,68.6" fill="#2b94ff" stroke="#2b94ff" stroke-width="0.5"/>
<polygon points="53.6,73.8 55.6,75.0 57.5,72.2 55.6,71.2" fill="#2b7eff" stroke="#2b7eff" stroke-width="0.5"/>
<polygon points="63.4,63.7 65.3,64.2 67.3,61.2 65.3,60.9" fill="#2bd1ff" stroke="#2bd1ff" stroke-width="0.5"/>
<polygon points="61.4,66.6 63.4,67.2 65.3,64.2 63.4,63.7" fill="#2bbfff" stroke="#2bbfff" stroke-width="0.5"/>
<polygon points="59.5,69.4 61.4,70.2 63.4,67.2 61.4,66.6" fill="#2bacff" stroke="#2bacff" stroke-width="0.5"/>
<polygon points="57.5,72.2 59.5,73.2 61.4,70.2 59.5,69.4" fill="#2b99ff" stroke="#2b99ff" stroke-width="0.5"/>
<polygon points="55.6,75.0 57.5,76.2 59.5,73.2 57.5,72.2" fill="#2b87ff" stroke="#2b87ff" stroke-width="0.5"/>
<polygon points="65.3,64.2 67.3,64.6 69.2,61.4 67.3,61.2" fill="#2bccff" stroke="#2bccff" stroke-width="0.5"/>
<polygon points="63.4,67.2 65.3,67.8 67.3,64.6 65.3,64.2" fill="#2bbdff" stroke="#2bbdff" stroke-width="0.5"/>
<polygon points="61.4,70.2 63.4,71.0 65.3,67.8 63.4,67.2" fill="#2baeff" stroke="#2baeff" stroke-width="0.5"/>
<polygon points="59.5,73.2 61.4,74.2 63.4,71.0 61.4,70.2" fill="#2b9eff" stroke="#2b9eff" stroke-width="0.5"/>
<polygon points="57.5,76.2 59.5,77.4 61.4,74.2 59.5,73.2" fill="#2b8fff" stroke="#2b8fff" stroke-width="0.5"/>
<polygon points="77.0,53.2 79.0,55.2 81.0,53.1 79.0,51.2" fill="#37fff3" stroke="#37fff3" stroke-width="0.5"/>
<polygon points="75.1,55.3 77.0,57.3 79.0,55.2 77.0,53.2" fill="#2bfcff" stroke="#2bfcff" stroke-width="0.5"/>
<polygon points="73.1,57.3 75.1,59.5 77.0,57.3 75.1,55.3" fill="#2bedff" stroke="#2bedff" stroke-width="0.5"/>
<polygon points="71.2,59.4 73.1,61.6 75.1,59.5 73.1,57.3" fill="#2bdeff" stroke="#2bdeff" stroke-width="0.5"/>
<polygon points="69.2,61.4 71.2,63.7 73.1,61.6 71.2,59.4" fill="#2bcfff" stroke="#2bcfff" stroke-width="0.5"/>
<polygon points="79.0,55.2 81.0,57.2 82.9,55.0 81.0,53.1" fill="#32fff8" stroke="#32fff8" stroke-width="0.5"/>
<polygon points="77.0,57.3 79.0,59.4 81.0,57.2 79.0,55.2" fill="#2bf4ff" stroke="#2bf4ff" stroke-width="0.5"/>
<polygon points="75.1,59.5 77.0,61.6 79.0,59.4 77.0,57.3" fill="#2be2ff" stroke="#2be2ff" stroke-width="0.5"/>
<polygon points="73.1,61.6 75.1,63.8 77.0,61.6 75.1,59.5" fill="#2bd0ff" stroke="#2bd0ff" stroke-width="0.5"/>
<polygon points="71.2,63.7 73.1,66.0 75.1,63.8 73.1,61.6" fill="#2bbeff" stroke="#2bbeff" stroke-width="0.5"/>
<polygon points="81.0,57.2 82.9,59.2 84.9,56.9 82.9,55.0" fill="#2dfffd" stroke="#2dfffd" stroke-width="0.5"/>
<polygon points="79.0,59.4 81.0,61.5 82.9,59.2 81.0,57.2" fill="#2becff" stroke="#2becff" stroke-width="0.5"/>
<polygon points="77.0,61.6 79.0,63.8 81.0,61.5 79.0,59.4" fill="#2bd7ff" stroke="#2bd7ff" stroke-width="0.5"/>
<polygon points="75.1,63.8 77.0,66.1 79.0,63.8 77.0,61.6" fill="#2bc2ff" stroke="#2bc2ff" stroke-width="0.5"/>
<polygon points="73.1,66.0 75.1,68.4 77.0,66.1 75.1,63.8" fill="#2bacff" stroke="#2bacff" stroke-width="0.5"/>
<polygon points="82.9,59.2 84.9,61.2 86.8,58.8 84.9,56.9" fill="#2bfcff" stroke="#2bfcff" stroke-width="0.5"/>
<polygon points="81.0,61.5 82.9,63.6 84.9,61.2 82.9,59.2" fill="#2be4ff" stroke="#2be4ff" stroke-width="0.5"/>
<polygon points="79.0,63.8 81.0,65.9 82.9,63.6 81.0,61.5" fill="#2bccff" stroke="#2bccff" stroke-width="0.5"/>
<polygon points="77.0,66.1 79.0,68.3 81.0,65.9 79.0,63.8" fill="#2bb4ff" stroke="#2bb4ff" stroke-width="0.5"/>
<polygon points="75.1,68.4 77.0,70.7 79.0,68.3 77.0,66.1" fill="#2b9bff" stroke="#2b9bff" stroke-width="0.5"/>
<polygon points="84.9,61.2 86.8,63.2 88.8,60.7 86.8,58.8" fill="#2bf7ff" stroke="#2bf7ff" stroke-width="0.5"/>
<polygon points="82.9,63.6 84.9,65.6 86.8,63.2 84.9,61.2" fill="#2bdcff" stroke="#2bdcff" stroke-width="0.5"/>
<polygon points="81.0,65.9 82.9,68.1 84.9,65.6 82.9,63.6" fill="#2bc1ff" stroke="#2bc1ff" stroke-width="0.5"/>
<polygon points="79.0,68.3 81.0,70.5 82.9,68.1 81.0,65.9" fill="#2ba6ff" stroke="#2ba6ff" stroke-width="0.5"/>
<polygon points="77.0,70.7 79.0,73.0 81.0,70.5 79.0,68.3" fill="#2b8aff" stroke="#2b8aff" stroke-width="0.5"/>
<polygon points="96.6,54.9 98.5,56.8 100.5,55.3 98.5,53.5" fill="#5effcc" stroke="#5effcc" stroke-width="0.5"/>
<polygon points="94.6,56.4 96.6,58.2 98.5,56.8 96.6,54.9" fill="#54ffd6" stroke="#54ffd6" stroke-width="0.5"/>
<polygon points="92.7,57.8 94.6,59.6 96.6,58.2 94.6,56.4" fill="#4affe1" stroke="#4affe1" stroke-width="0.5"/>
<polygon points="90.7,59.3 92.7,61.1 94.6,59.6 92.7,57.8" fill="#40ffeb" stroke="#40ffeb" stroke-width="0.5"/>
<polygon points="88.8,60.7 90.7,62.5 92.7,61.1 90.7,59.3" fill="#36fff5" stroke="#36fff5" stroke-width="0.5"/>
<polygon points="98.5,56.8 100.5,58.6 102.4,57.2 100.5,55.3" fill="#60ffcb" stroke="#60ffcb" stroke-width="0.5"/>
<polygon points="96.6,58.2 98.5,60.0 100.5,58.6 98.5,56.8" fill="#56ffd5" stroke="#56ffd5" stroke-width="0.5"/>
<polygon points="94.6,59.6 96.6,61.4 98.5,60.0 96.6,58.2" fill="#4cffdf" stroke="#4cffdf" stroke-width="0.5"/>
<polygon points="92.7,61.1 94.6,62.8 96.6,61.4 94.6,59.6" fill="#41ffe9" stroke="#41ffe9" stroke-width="0.5"/>
<polygon points="90.7,62.5 92.7,64.3 94.6,62.8 92.7,61.1" fill="#37fff3" stroke="#37fff3" stroke-width="0.5"/>
<polygon points="100.5,58.6 102.4,60.4 104.4,59.0 102.4,57.2" fill="#62ffc9" stroke="#62ffc9" stroke-width="0.5"/>
<polygon points="98.5,60.0 100.5,61.8 102.4,60.4 100.5,58.6" fill="#57ffd3" stroke="#57ffd3" stroke-width="0.5"/>
<polygon points="96.6,61.4 98.5,63.2 100.5,61.8 98.5,60.0" fill="#4dffdd" stroke="#4dffdd" stroke-width="0.5"/>
<polygon points="94.6,62.8 96.6,64.6 98.5,63.2 96.6,61.4" fill="#43ffe7" stroke="#43ffe7" stroke-width="0.5"/>
<polygon points="92.7,64.3 94.6,66.0 96.6,64.6 94.6,62.8" fill="#39fff1" stroke="#39fff1" stroke-width="0.5"/>
<polygon points="102.4,60.4 104.4,62.3 106.3,60.9 104.4,59.0" fill="#63ffc7" stroke="#63ffc7" stroke-width="0.5"/>
<polygon points="100.5,61.8 102.4,63.6 104.4,62.3 102.4,60.4" fill="#59ffd1" stroke="#59ffd1" stroke-width="0.5"/>
<polygon points="98.5,63.2 100.5,65.0 102.4,63.6 100.5,61.8" fill="#4fffdb" stroke="#4fffdb" stroke-width="0.5"/>
<polygon points="96.6,64.6 98.5,66.4 100.5,65.0 98.5,63.2" fill="#45ffe6" stroke="#45ffe6" stroke-width="0.5"/>
<polygon points="94.6,66.0 96.6,67.8 98.5,66.4 96.6,64.6" fill="#3bfff0" stroke="#3bfff0" stroke-width="0.5"/>
<polygon points="104.4,62.3 106.3,64.1 108.3,62.7 106.3,60.9" fill="#65ffc5" stroke="#65ffc5" stroke-width="0.5"/>
<polygon points="102.4,63.6 104.4,65.5 106.3,64.1 104.4,62.3" fill="#5bffd0" stroke="#5bffd0" stroke-width="0.5"/>
<polygon points="100.5,65.0 102.4,66.8 104.4,65.5 102.4,63.6" fill="#51ffda" stroke="#51ffda" stroke-width="0.5"/>
<polygon points="98.5,66.4 100.5,68.2 102.4,66.8 100.5,65.0" fill="#46ffe4" stroke="#46ffe4" stroke-width="0.5"/>
<polygon points="96.6,67.8 98.5,69.6 100.5,68.2 98.5,66.4" fill="#3cffee" stroke="#3cffee" stroke-width="0.5"/>
<polygon points="116.1,58.6 118.0,60.5 120.0,59.4 118.0,57.6" fill="#83ffa7" stroke="#83ffa7" stroke-width="0.5"/>
<polygon points="114.1,59.6 116.1,61.5 118.0,60.5 116.1,58.6" fill="#7fffac" stroke="#7fffac" stroke-width="0.5"/>
<polygon points="112.2,60.7 114.1,62.6 116.1,61.5 114.1,59.6" fill="#7affb1" stroke="#7affb1" stroke-width="0.5"/>
<polygon points="110.2,61.7 112.2,63.6 114.1,62.6 112.2,60.7" fill="#75ffb6" stroke="#75ffb6" stroke-width="0.5"/>
<polygon points="108.3,62.7 110.2,64.6 112.2,63.6 110.2,61.7" fill="#70ffbb" stroke="#70ffbb" stroke-width="0.5"/>
<polygon points="118.0,60.5 120.0,62.3 121.9,61.3 120.0,59.4" fill="#87ffa3" stroke="#87ffa3" stroke-width="0.5"/>
<polygon points="116.1,61.5 118.0,63.4 120.0,62.3 118.0,60.5" fill="#82ffa8" stroke="#82ffa8" stroke-width="0.5"/>
<polygon points="114.1,62.6 116.1,64.5 118.0,63.4 116.1,61.5" fill="#7effac" stroke="#7effac" stroke-width="0.5"/>
<polygon points="112.2,63.6 114.1,65.5 116.1,64.5 114.1,62.6" fill="#79ffb1" stroke="#79ffb1" stroke-width="0.5"/>
<polygon points="110.2,64.6 112.2,66.6 114.1,65.5 112.2,63.6" fill="#75ffb6" stroke="#75ffb6" stroke-width="0.5"/>
<polygon points="120.0,62.3 121.9,64.2 123.9,63.1 121.9,61.3" fill="#8bffa0" stroke="#8bffa0" stroke-width="0.5"/>
<polygon points="118.0,63.4 120.0,65.3 121.9,64.2 120.0,62.3" fill="#86ffa4" stroke="#86ffa4" stroke-width="0.5"/>
<polygon points="116.1,64.5 118.0,66.4 120.0,65.3 118.0,63.4" fill="#82ffa8" stroke="#82ffa8" stroke-width="0.5"/>
<polygon points="114.1,65.5 116.1,67.4 118.0,66.4 116.1,64.5" fill="#7effac" stroke="#7effac" stroke-width="0.5"/>
<polygon points="112.2,66.6 114.1,68.5 116.1,67.4 114.1,65.5" fill="#7affb1" stroke="#7affb1" stroke-width="0.5"/>
<polygon points="121.9,64.2 123.9,66.1 125.8,65.0 123.9,63.1" fill="#8eff9c" stroke="#8eff9c" stroke-width="0.5"/>
<polygon points="120.0,65.3 121.9,67.2 123.9,66.1 121.9,64.2" fill="#8affa0" stroke="#8affa0" stroke-width="0.5"/>
<polygon points="118.0,66.4 120.0,68.3 121.9,67.2 120.0,65.3" fill="#86ffa4" stroke="#86ffa4" stroke-width="0.5"/>
<polygon points="116.1,67.4 118.0,69.4 120.0,68.3 118.0,66.4" fill="#82ffa8" stroke="#82ffa8" stroke-width="0.5"/>
<polygon points="114.1,68.5 116.1,70.5 118.0,69.4 116.1,67.4" fill="#7fffac" stroke="#7fffac" stroke-width="0.5"/>
<polygon points="123.9,66.1 125.8,67.9 127.8,66.8 125.8,65.0" fill="#92ff99" stroke="#92ff99" stroke-width="0.5"/>
<polygon points="121.9,67.2 123.9,69.0 125.8,67.9 123.9,66.1" fill="#8eff9c" stroke="#8eff9c" stroke-width="0.5"/>
<polygon points="120.0,68.3 121.9,70.2 123.9,69.0 121.9,67.2" fill="#8bffa0" stroke="#8bffa0" stroke-width="0.5"/>
<polygon points="118.0,69.4 120.0,71.3 121.9,70.2 120.0,68.3" fill="#87ffa3" stroke="#87ffa3" stroke-width="0.5"/>
<polygon points="116.1,70.5 118.0,72.4 120.0,71.3 118.0,69.4" fill="#83ffa7" stroke="#83ffa7" stroke-width="0.5"/>
<polygon points="47.8,72.3 49.7,73.5 51.7,72.6 49.7,71.4" fill="#2b67ff" stroke="#2b67ff" stroke-width="0.5"/>
<polygon points="45.8,73.1 47.8,74.3 49.7,73.5 47.8,72.3" fill="#2b77ff" stroke="#2b77ff" stroke-width="0.5"/>
<polygon points="43.9,74.0 45.8,75.2 47.8,74.3 45.8,73.1" fill="#2b87ff" stroke="#2b87ff" stroke-width="0.5"/>
<polygon points="41.9,74.8 43.9,76.1 45.8,75.2 43.9,74.0" fill="#2b97ff" stroke="#2b97ff" stroke-width="0.5"/>
<polygon points="40.0,75.7 41.9,77.0 43.9,76.1 41.9,74.8" fill="#2ba7ff" stroke="#2ba7ff" stroke-width="0.5"/>
<polygon points="49.7,73.5 51.7,74.7 53.6,73.8 51.7,72.6" fill="#2b70ff" stroke="#2b70ff" stroke-width="0.5"/>
<polygon points="47.8,74.3 49.7,75.6 51.7,74.7 49.7,73.5" fill="#2b7fff" stroke="#2b7fff" stroke-width="0.5"/>
<polygon points="45.8,75.2 47.8,76.5 49.7,75.6 47.8,74.3" fill="#2b8dff" stroke="#2b8dff" stroke-width="0.5"/>
<polygon points="43.9,76.1 45.8,77.3 47.8,76.5 45.8,75.2" fill="#2b9cff" stroke="#2b9cff" stroke-width="0.5"/>
<polygon points="41.9,77.0 43.9,78.2 45.8,77.3 43.9,76.1" fill="#2baaff" stroke="#2baaff" stroke-width="0.5"/>
<polygon points="51.7,74.7 53.6,75.9 55.6,75.0 53.6,73.8" fill="#2b7aff" stroke="#2b7aff" stroke-width="0.5"/>
<polygon points="49.7,75.6 51.7,76.8 53.6,75.9 51.7,74.7" fill="#2b86ff" stroke="#2b86ff" stroke-width="0.5"/>
<polygon points="47.8,76.5 49.7,77.7 51.7,76.8 49.7,75.6" fill="#2b93ff" stroke="#2b93ff" stroke-width="0.5"/>
<polygon points="45.8,77.3 47.8,78.6 49.7,77.7 47.8,76.5" fill="#2ba0ff" stroke="#2ba0ff" stroke-width="0.5"/>
<polygon points="43.9,78.2 45.8,79.5 47.8,78.6 45.8,77.3" fill="#2bacff" stroke="#2bacff" stroke-width="0.5"/>
<polygon points="53.6,75.9 55.6,77.1 57.5,76.2 55.6,75.0" fill="#2b83ff" stroke="#2b83ff" stroke-width="0.5"/>
<polygon points="51.7,76.8 53.6,78.0 55.6,77.1 53.6,75.9" fill="#2b8eff" stroke="#2b8eff" stroke-width="0.5"/>
<polygon points="49.7,77.7 51.7,78.9 53.6,78.0 51.7,76.8" fill="#2b99ff" stroke="#2b99ff" stroke-width="0.5"/>
<polygon points="47.8,78.6 49.7,79.8 51.7,78.9 49.7,77.7" fill="#2ba4ff" stroke="#2ba4ff" stroke-width="0.5"/>
<polygon points="45.8,79.5 47.8,80.7 49.7,79.8 47.8,78.6" fill="#2bafff" stroke="#2bafff" stroke-width="0.5"/>
<polygon points="55.6,77.1 57.5,78.3 59.5,77.4 57.5,76.2" fill="#2b8cff" stroke="#2b8cff" stroke-width="0.5"/>
<polygon points="53.6,78.0 55.6,79.2 57.5,78.3 55.6,77.1" fill="#2b96ff" stroke="#2b96ff" stroke-width="0.5"/>
<polygon points="51.7,78.9 53.6,80.2 55.6,79.2 53.6,78.0" fill="#2b9fff" stroke="#2b9fff" stroke-width="0.5"/>
<polygon points="49.7,79.8 51.7,81.1 53.6,80.2 51.7,78.9" fill="#2ba8ff" stroke="#2ba8ff" stroke-width="0.5"/>
<polygon points="47.8,80.7 49.7,82.0 51.7,81.1 49.7,79.8" fill="#2bb2ff" stroke="#2bb2ff" stroke-width="0.5"/>
<polygon points="67.3,64.6 69.2,66.6 71.2,63.7 69.2,61.4" fill="#2bc2ff" stroke="#2bc2ff" stroke-width="0.5"/>
<polygon points="65.3,67.8 67.3,69.4 69.2,66.6 67.3,64.6" fill="#2bb6ff" stroke="#2bb6ff" stroke-width="0.5"/>
<polygon points="63.4,71.0 65.3,72.3 67.3,69.4 65.3,67.8" fill="#2babff" stroke="#2babff" stroke-width="0.5"/>
<polygon points="61.4,74.2 63.4,75.1 65.3,72.3 63.4,71.0" fill="#2ba0ff" stroke="#2ba0ff" stroke-width="0.5"/>
<polygon points="59.5,77.4 61.4,78.0 63.4,75.1 61.4,74.2" fill="#2b95ff" stroke="#2b95ff" stroke-width="0.5"/>
<polygon points="69.2,66.6 71.2,68.5 73.1,66.0 71.2,63.7" fill="#2bb1ff" stroke="#2bb1ff" stroke-width="0.5"/>
<polygon points="67.3,69.4 69.2,71.0 71.2,68.5 69.2,66.6" fill="#2babff" stroke="#2babff" stroke-width="0.5"/>
<polygon points="65.3,72.3 67.3,73.6 69.2,71.0 67.3,69.4" fill="#2ba4ff" stroke="#2ba4ff" stroke-width="0.5"/>
<polygon points="63.4,75.1 65.3,76.1 67.3,73.6 65.3,72.3" fill="#2b9eff" stroke="#2b9eff" stroke-width="0.5"/>
<polygon points="61.4,78.0 63.4,78.6 65.3,76.1 63.4,75.1" fill="#2b98ff" stroke="#2b98ff" stroke-width="0.5"/>
<polygon points="71.2,68.5 73.1,70.5 75.1,68.4 73.1,66.0" fill="#2ba1ff" stroke="#2ba1ff" stroke-width="0.5"/>
<polygon points="69.2,71.0 71.2,72.7 73.1,70.5 71.2,68.5" fill="#2b9fff" stroke="#2b9fff" stroke-width="0.5"/>
<polygon points="67.3,73.6 69.2,74.8 71.2,72.7 69.2,71.0" fill="#2b9eff" stroke="#2b9eff" stroke-width="0.5"/>
<polygon points="65.3,76.1 67.3,77.0 69.2,74.8 67.3,73.6" fill="#2b9cff" stroke="#2b9cff" stroke-width="0.5"/>
<polygon points="63.4,78.6 65.3,79.1 67.3,77.0 65.3,76.1" fill="#2b9aff" stroke="#2b9aff" stroke-width="0.5"/>
<polygon points="73.1,70.5 75.1,72.5 77.0,70.7 75.1,68.4" fill="#2b91ff" stroke="#2b91ff" stroke-width="0.5"/>
<polygon points="71.2,72.7 73.1,74.3 75.1,72.5 73.1,70.5" fill="#2b94ff" stroke="#2b94ff" stroke-width="0.5"/>
<polygon points="69.2,74.8 71.2,76.1 73.1,74.3 71.2,72.7" fill="#2b97ff" stroke="#2b97ff" stroke-width="0.5"/>
<polygon points="67.3,77.0 69.2,77.9 71.2,76.1 69.2,74.8" fill="#2b9aff" stroke="#2b9aff" stroke-width="0.5"/>
<polygon points="65.3,79.1 67.3,79.7 69.2,77.9 67.3,77.0" fill="#2b9dff" stroke="#2b9dff" stroke-width="0.5"/>
<polygon points="75.1,72.5 77.0,74.5 79.0,73.0 77.0,70.7" fill="#2b81ff" stroke="#2b81ff" stroke-width="0.5"/>
<polygon points="73.1,74.3 75.1,75.9 77.0,74.5 75.1,72.5" fill="#2b88ff" stroke="#2b88ff" stroke-width="0.5"/>
<polygon points="71.2,76.1 73.1,77.4 75.1,75.9 73.1,74.3" fill="#2b90ff" stroke="#2b90ff" stroke-width="0.5"/>
<polygon points="69.2,77.9 71.2,78.8 73.1,77.4 71.2,76.1" fill="#2b98ff" stroke="#2b98ff" stroke-width="0.5"/>
<polygon points="67.3,79.7 69.2,80.3 71.2,78.8 69.2,77.9" fill="#2ba0ff" stroke="#2ba0ff" stroke-width="0.5"/>
<polygon points="86.8,63.2 88.8,64.8 90.7,62.5 88.8,60.7" fill="#2bf6ff" stroke="#2bf6ff" stroke-width="0.5"/>
<polygon points="84.9,65.6 86.8,67.2 88.8,64.8 86.8,63.2" fill="#2bdbff" stroke="#2bdbff" stroke-width="0.5"/>
<polygon points="82.9,68.1 84.9,69.5 86.8,67.2 84.9,65.6" fill="#2bc0ff" stroke="#2bc0ff" stroke-width="0.5"/>
<polygon points="81.0,70.5 82.9,71.9 84.9,69.5 82.9,68.1" fill="#2ba4ff" stroke="#2ba4ff" stroke-width="0.5"/>
<polygon points="79.0,73.0 81.0,74.2 82.9,71.9 81.0,70.5" fill="#2b89ff" stroke="#2b89ff" stroke-width="0.5"/>
<polygon points="88.8,64.8 90.7,66.5 92.7,64.3 90.7,62.5" fill="#2bf9ff" stroke="#2bf9ff" stroke-width="0.5"/>
<polygon points="86.8,67.2 88.8,68.7 90.7,66.5 88.8,64.8" fill="#2be1ff" stroke="#2be1ff" stroke-width="0.5"/>
<polygon points="84.9,69.5 86.8,70.9 88.8,68.7 86.8,67.2" fill="#2bc8ff" stroke="#2bc8ff" stroke-width="0.5"/>
<polygon points="82.9,71.9 84.9,73.2 86.8,70.9 84.9,69.5" fill="#2bafff" stroke="#2bafff" stroke-width="0.5"/>
<polygon points="81.0,74.2 82.9,75.4 84.9,73.2 82.9,71.9" fill="#2b97ff" stroke="#2b97ff" stroke-width="0.5"/>
<polygon points="90.7,66.5 92.7,68.2 94.6,66.0 92.7,64.3" fill="#2bfcff" stroke="#2bfcff" stroke-width="0.5"/>
<polygon points="88.8,68.7 90.7,70.3 92.7,68.2 90.7,66.5" fill="#2be6ff" stroke="#2be6ff" stroke-width="0.5"/>
<polygon points="86.8,70.9 88.8,72.4 90.7,70.3 88.8,68.7" fill="#2bd0ff" stroke="#2bd0ff" stroke-width="0.5"/>
<polygon points="84.9,73.2 86.8,74.5 88.8,72.4 86.8,70.9" fill="#2bbaff" stroke="#2bbaff" stroke-width="0.5"/>
<polygon points="82.9,75.4 84.9,76.6 86.8,74.5 84.9,73.2" fill="#2ba4ff" stroke="#2ba4ff" stroke-width="0.5"/>
<polygon points="92.7,68.2 94.6,69.8 96.6,67.8 94.6,66.0" fill="#2cfffe" stroke="#2cfffe" stroke-width="0.5"/>
<polygon points="90.7,70.3 92.7,71.8 94.6,69.8 92.7,68.2" fill="#2becff" stroke="#2becff" stroke-width="0.5"/>
<polygon points="88.8,72.4 90.7,73.8 92.7,71.8 90.7,70.3" fill="#2bd9ff" stroke="#2bd9ff" stroke-width="0.5"/>
<polygon points="86.8,74.5 88.8,75.8 90.7,73.8 88.8,72.4" fill="#2bc6ff" stroke="#2bc6ff" stroke-width="0.5"/>
<polygon points="84.9,76.6 86.8,77.8 88.8,75.8 86.8,74.5" fill="#2bb2ff" stroke="#2bb2ff" stroke-width="0.5"/>
<polygon points="94.6,69.8 96.6,71.5 98.5,69.6 96.6,67.8" fill="#2ffffb" stroke="#2ffffb" stroke-width="0.5"/>
<polygon points="92.7,71.8 94.6,73.4 96.6,71.5 94.6,69.8" fill="#2bf2ff" stroke="#2bf2ff" stroke-width="0.5"/>
<polygon points="90.7,73.8 92.7,75.2 94.6,73.4 92.7,71.8" fill="#2be1ff" stroke="#2be1ff" stroke-width="0.5"/>
<polygon points="88.8,75.8 90.7,77.1 92.7,75.2 90.7,73.8" fill="#2bd1ff" stroke="#2bd1ff" stroke-width="0.5"/>
<polygon points="86.8,77.8 88.8,79.0 90.7,77.1 88.8,75.8" fill="#2bc0ff" stroke="#2bc0ff" stroke-width="0.5"/>
<polygon points="106.3,64.1 108.3,66.0 110.2,64.6 108.3,62.7" fill="#68ffc2" stroke="#68ffc2" stroke-width="0.5"/>
<polygon points="104.4,65.5 106.3,67.5 108.3,66.0 106.3,64.1" fill="#5effcc" stroke="#5effcc" stroke-width="0.5"/>
<polygon points="102.4,66.8 104.4,68.9 106.3,67.5 104.4,65.5" fill="#54ffd6" stroke="#54ffd6" stroke-width="0.5"/>
<polygon points="100.5,68.2 102.4,70.3 104.4,68.9 102.4,66.8" fill="#4affe0" stroke="#4affe0" stroke-width="0.5"/>
<polygon points="98.5,69.6 100.5,71.7 102.4,70.3 100.5,68.2" fill="#40ffea" stroke="#40ffea" stroke-width="0.5"/>
<polygon points="108.3,66.0 110.2,68.0 112.2,66.6 110.2,64.6" fill="#6effbd" stroke="#6effbd" stroke-width="0.5"/>
<polygon points="106.3,67.5 108.3,69.5 110.2,68.0 108.3,66.0" fill="#64ffc6" stroke="#64ffc6" stroke-width="0.5"/>
<polygon points="104.4,68.9 106.3,70.9 108.3,69.5 106.3,67.5" fill="#5affd0" stroke="#5affd0" stroke-width="0.5"/>
<polygon points="102.4,70.3 104.4,72.3 106.3,70.9 104.4,68.9" fill="#51ffda" stroke="#51ffda" stroke-width="0.5"/>
<polygon points="100.5,71.7 102.4,73.8 104.4,72.3 102.4,70.3" fill="#47ffe3" stroke="#47ffe3" stroke-width="0.5"/>
<polygon points="110.2,68.0 112.2,70.0 114.1,68.5 112.2,66.6" fill="#73ffb7" stroke="#73ffb7" stroke-width="0.5"/>
<polygon points="108.3,69.5 110.2,71.4 112.2,70.0 110.2,68.0" fill="#6affc1" stroke="#6affc1" stroke-width="0.5"/>
<polygon points="106.3,70.9 108.3,72.9 110.2,71.4 108.3,69.5" fill="#60ffca" stroke="#60ffca" stroke-width="0.5"/>
<polygon points="104.4,72.3 106.3,74.4 108.3,72.9 106.3,70.9" fill="#57ffd3" stroke="#57ffd3" stroke-width="0.5"/>
<polygon points="102.4,73.8 104.4,75.8 106.3,74.4 104.4,72.3" fill="#4effdd" stroke="#4effdd" stroke-width="0.5"/>
<polygon points="112.2,70.0 114.1,72.0 116.1,70.5 114.1,68.5" fill="#78ffb2" stroke="#78ffb2" stroke-width="0.5"/>
<polygon points="110.2,71.4 112.2,73.4 114.1,72.0 112.2,70.0" fill="#6fffbb" stroke="#6fffbb" stroke-width="0.5"/>
<polygon points="108.3,72.9 110.2,74.9 112.2,73.4 110.2,71.4" fill="#66ffc4" stroke="#66ffc4" stroke-width="0.5"/>
<polygon points="106.3,74.4 108.3,76.4 110.2,74.9 108.3,72.9" fill="#5dffcd" stroke="#5dffcd" stroke-width="0.5"/>
<polygon points="104.4,75.8 106.3,77.9 108.3,76.4 106.3,74.4" fill="#54ffd6" stroke="#54ffd6" stroke-width="0.5"/>
<polygon points="114.1,72.0 116.1,73.9 118.0,72.4 116.1,70.5" fill="#7dffad" stroke="#7dffad" stroke-width="0.5"/>
<polygon points="112.2,73.4 114.1,75.4 116.1,73.9 114.1,72.0" fill="#75ffb6" stroke="#75ffb6" stroke-width="0.5"/>
<polygon points="110.2,74.9 112.2,77.0 114.1,75.4 112.2,73.4" fill="#6cffbe" stroke="#6cffbe" stroke-width="0.5"/>
<polygon points="108.3,76.4 110.2,78.5 112.2,77.0 110.2,74.9" fill="#63ffc7" stroke="#63ffc7" stroke-width="0.5"/>
<polygon points="106.3,77.9 108.3,80.0 110.2,78.5 108.3,76.4" fill="#5bffd0" stroke="#5bffd0" stroke-width="0.5"/>
<polygon points="57.5,78.3 59.5,79.0 61.4,78.0 59.5,77.4" fill="#2b93ff" stroke="#2b93ff" stroke-width="0.5"/>
<polygon points="55.6,79.2 57.5,80.1 59.5,79.0 57.5,78.3" fill="#2b9bff" stroke="#2b9bff" stroke-width="0.5"/>
<polygon points="53.6,80.2 55.6,81.1 57.5,80.1 55.6,79.2" fill="#2ba4ff" stroke="#2ba4ff" stroke-width="0.5"/>
<polygon points="51.7,81.1 53.6,82.2 55.6,81.1 53.6,80.2" fill="#2bacff" stroke="#2bacff" stroke-width="0.5"/>
<polygon points="49.7,82.0 51.7,83.3 53.6,82.2 51.7,81.1" fill="#2bb4ff" stroke="#2bb4ff" stroke-width="0.5"/>
<polygon points="59.5,79.0 61.4,79.8 63.4,78.6 61.4,78.0" fill="#2b98ff" stroke="#2b98ff" stroke-width="0.5"/>
<polygon points="57.5,80.1 59.5,80.9 61.4,79.8 59.5,79.0" fill="#2ba0ff" stroke="#2ba0ff" stroke-width="0.5"/>
<polygon points="55.6,81.1 57.5,82.1 59.5,80.9 57.5,80.1" fill="#2ba7ff" stroke="#2ba7ff" stroke-width="0.5"/>
<polygon points="53.6,82.2 55.6,83.3 57.5,82.1 55.6,81.1" fill="#2baeff" stroke="#2baeff" stroke-width="0.5"/>
<polygon points="51.7,83.3 53.6,84.5 55.6,83.3 53.6,82.2" fill="#2bb6ff" stroke="#2bb6ff" stroke-width="0.5"/>
<polygon points="61.4,79.8 63.4,80.5 65.3,79.1 63.4,78.6" fill="#2b9dff" stroke="#2b9dff" stroke-width="0.5"/>
<polygon points="59.5,80.9 61.4,81.8 63.4,80.5 61.4,79.8" fill="#2ba4ff" stroke="#2ba4ff" stroke-width="0.5"/>
<polygon points="57.5,82.1 59.5,83.1 61.4,81.8 59.5,80.9" fill="#2baaff" stroke="#2baaff" stroke-width="0.5"/>
<polygon points="55.6,83.3 57.5,84.5 59.5,83.1 57.5,82.1" fill="#2bb1ff" stroke="#2bb1ff" stroke-width="0.5"/>
<polygon points="53.6,84.5 55.6,85.8 57.5,84.5 55.6,83.3" fill="#2bb8ff" stroke="#2bb8ff" stroke-width="0.5"/>
<polygon points="63.4,80.5 65.3,81.2 67.3,79.7 65.3,79.1" fill="#2ba2ff" stroke="#2ba2ff" stroke-width="0.5"/>
<polygon points="61.4,81.8 63.4,82.6 65.3,81.2 63.4,80.5" fill="#2ba8ff" stroke="#2ba8ff" stroke-width="0.5"/>
<polygon points="59.5,83.1 61.4,84.1 63.4,82.6 61.4,81.8" fill="#2baeff" stroke="#2baeff" stroke-width="0.5"/>
<polygon points="57.5,84.5 59.5,85.6 61.4,84.1 59.5,83.1" fill="#2bb4ff" stroke="#2bb4ff" stroke-width="0.5"/>
<polygon points="55.6,85.8 57.5,87.0 59.5,85.6 57.5,84.5" fill="#2bbaff" stroke="#2bbaff" stroke-width="0.5"/>
<polygon points="65.3,81.2 67.3,81.9 69.2,80.3 67.3,79.7" fill="#2ba6ff" stroke="#2ba6ff" stroke-width="0.5"/>
<polygon points="63.4,82.6 65.3,83.5 67.3,81.9 65.3,81.2" fill="#2bacff" stroke="#2bacff" stroke-width="0.5"/>
<polygon points="61.4,84.1 63.4,85.1 65.3,83.5 63.4,82.6" fill="#2bb1ff" stroke="#2bb1ff" stroke-width="0.5"/>
<polygon points="59.5,85.6 61.4,86.7 63.4,85.1 61.4,84.1" fill="#2bb7ff" stroke="#2bb7ff" stroke-width="0.5"/>
<polygon points="57.5,87.0 59.5,88.3 61.4,86.7 59.5,85.6" fill="#2bbcff" stroke="#2bbcff" stroke-width="0.5"/>
<polygon points="77.0,74.5 79.0,75.7 81.0,74.2 79.0,73.0" fill="#2b80ff" stroke="#2b80ff" stroke-width="0.5"/>
<polygon points="75.1,75.9 77.0,77.2 79.0,75.7 77.0,74.5" fill="#2b89ff" stroke="#2b89ff" stroke-width="0.5"/>
<polygon points="73.1,77.4 75.1,78.7 77.0,77.2 75.1,75.9" fill="#2b92ff" stroke="#2b92ff" stroke-width="0.5"/>
<polygon points="71.2,78.8 73.1,80.2 75.1,78.7 73.1,77.4" fill="#2b9bff" stroke="#2b9bff" stroke-width="0.5"/>
<polygon points="69.2,80.3 71.2,81.7 73.1,80.2 71.2,78.8" fill="#2ba4ff" stroke="#2ba4ff" stroke-width="0.5"/>
<polygon points="79.0,75.7 81.0,77.0 82.9,75.4 81.0,74.2" fill="#2b8eff" stroke="#2b8eff" stroke-width="0.5"/>
<polygon points="77.0,77.2 79.0,78.5 81.0,77.0 79.0,75.7" fill="#2b95ff" stroke="#2b95ff" stroke-width="0.5"/>
<polygon points="75.1,78.7 77.0,80.1 79.0,78.5 77.0,77.2" fill="#2b9cff" stroke="#2b9cff" stroke-width="0.5"/>
<polygon points="73.1,80.2 75.1,81.6 77.0,80.1 75.1,78.7" fill="#2ba3ff" stroke="#2ba3ff" stroke-width="0.5"/>
<polygon points="71.2,81.7 73.1,83.2 75.1,81.6 73.1,80.2" fill="#2baaff" stroke="#2baaff" stroke-width="0.5"/>
<polygon points="81.0,77.0 82.9,78.2 84.9,76.6 82.9,75.4" fill="#2b9cff" stroke="#2b9cff" stroke-width="0.5"/>
<polygon points="79.0,78.5 81.0,79.8 82.9,78.2 81.0,77.0" fill="#2ba1ff" stroke="#2ba1ff" stroke-width="0.5"/>
<polygon points="77.0,80.1 79.0,81.4 81.0,79.8 79.0,78.5" fill="#2ba6ff" stroke="#2ba6ff" stroke-width="0.5"/>
<polygon points="75.1,81.6 77.0,83.0 79.0,81.4 77.0,80.1" fill="#2babff" stroke="#2babff" stroke-width="0.5"/>
<polygon points="73.1,83.2 75.1,84.6 77.0,83.0 75.1,81.6" fill="#2bb0ff" stroke="#2bb0ff" stroke-width="0.5"/>
<polygon points="82.9,78.2 84.9,79.5 86.8,77.8 84.9,76.6" fill="#2baaff" stroke="#2baaff" stroke-width="0.5"/>
<polygon points="81.0,79.8 82.9,81.1 84.9,79.5 82.9,78.2" fill="#2badff" stroke="#2badff" stroke-width="0.5"/>
<polygon points="79.0,81.4 81.0,82.8 82.9,81.1 81.0,79.8" fill="#2bb0ff" stroke="#2bb0ff" stroke-width="0.5"/>
<polygon points="77.0,83.0 79.0,84.4 81.0,82.8 79.0,81.4" fill="#2bb3ff" stroke="#2bb3ff" stroke-width="0.5"/>
<polygon points="75.1,84.6 77.0,86.1 79.0,84.4 77.0,83.0" fill="#2bb6ff" stroke="#2bb6ff" stroke-width="0.5"/>
<polygon points="84.9,79.5 86.8,80.7 88.8,79.0 86.8,77.8" fill="#2bb8ff" stroke="#2bb8ff" stroke-width="0.5"/>
<polygon points="82.9,81.1 84.9,82.4 86.8,80.7 84.9,79.5" fill="#2bb9ff" stroke="#2bb9ff" stroke-width="0.5"/>
<polygon points="81.0,82.8 82.9,84.1 84.9,82.4 82.9,81.1" fill="#2bbaff" stroke="#2bbaff" stroke-width="0.5"/>
<polygon points="79.0,84.4 81.0,85.8 82.9,84.1 81.0,82.8" fill="#2bbbff" stroke="#2bbbff" stroke-width="0.5"/>
<polygon points="77.0,86.1 79.0,87.5 81.0,85.8 79.0,84.4" fill="#2bbcff" stroke="#2bbcff" stroke-width="0.5"/>
<polygon points="96.6,71.5 98.5,73.5 100.5,71.7 98.5,69.6" fill="#34fff6" stroke="#34fff6" stroke-width="0.5"/>
<polygon points="94.6,73.4 96.6,75.2 98.5,73.5 96.6,71.5" fill="#2bf9ff" stroke="#2bf9ff" stroke-width="0.5"/>
<polygon points="92.7,75.2 94.6,77.0 96.6,75.2 94.6,73.4" fill="#2beaff" stroke="#2beaff" stroke-width="0.5"/>
<polygon points="90.7,77.1 92.7,78.8 94.6,77.0 92.7,75.2" fill="#2bdbff" stroke="#2bdbff" stroke-width="0.5"/>
<polygon points="88.8,79.0 90.7,80.6 92.7,78.8 90.7,77.1" fill="#2bccff" stroke="#2bccff" stroke-width="0.5"/>
<polygon points="98.5,73.5 100.5,75.4 102.4,73.8 100.5,71.7" fill="#3bffef" stroke="#3bffef" stroke-width="0.5"/>
<polygon points="96.6,75.2 98.5,77.1 100.5,75.4 98.5,73.5" fill="#2dfffd" stroke="#2dfffd" stroke-width="0.5"/>
<polygon points="94.6,77.0 96.6,78.8 98.5,77.1 96.6,75.2" fill="#2bf2ff" stroke="#2bf2ff" stroke-width="0.5"/>
<polygon points="92.7,78.8 94.6,80.5 96.6,78.8 94.6,77.0" fill="#2be4ff" stroke="#2be4ff" stroke-width="0.5"/>
<polygon points="90.7,80.6 92.7,82.2 94.6,80.5 92.7,78.8" fill="#2bd6ff" stroke="#2bd6ff" stroke-width="0.5"/>
<polygon points="100.5,75.4 102.4,77.4 104.4,75.8 102.4,73.8" fill="#42ffe8" stroke="#42ffe8" stroke-width="0.5"/>
<polygon points="98.5,77.1 100.5,79.0 102.4,77.4 100.5,75.4" fill="#35fff6" stroke="#35fff6" stroke-width="0.5"/>
<polygon points="96.6,78.8 98.5,80.6 100.5,79.0 98.5,77.1" fill="#2bfbff" stroke="#2bfbff" stroke-width="0.5"/>
<polygon points="94.6,80.5 96.6,82.2 98.5,80.6 96.6,78.8" fill="#2bedff" stroke="#2bedff" stroke-width="0.5"/>
<polygon points="92.7,82.2 94.6,83.8 96.6,82.2 94.6,80.5" fill="#2be0ff" stroke="#2be0ff" stroke-width="0.5"/>
<polygon points="102.4,77.4 104.4,79.4 106.3,77.9 104.4,75.8" fill="#49ffe1" stroke="#49ffe1" stroke-width="0.5"/>
<polygon points="100.5,79.0 102.4,80.9 104.4,79.4 102.4,77.4" fill="#3cffee" stroke="#3cffee" stroke-width="0.5"/>
<polygon points="98.5,80.6 100.5,82.4 102.4,80.9 100.5,79.0" fill="#30fffb" stroke="#30fffb" stroke-width="0.5"/>
<polygon points="96.6,82.2 98.5,83.9 100.5,82.4 98.5,80.6" fill="#2bf6ff" stroke="#2bf6ff" stroke-width="0.5"/>
<polygon points="94.6,83.8 96.6,85.4 98.5,83.9 96.6,82.2" fill="#2be9ff" stroke="#2be9ff" stroke-width="0.5"/>
<polygon points="104.4,79.4 106.3,81.4 108.3,80.0 106.3,77.9" fill="#50ffda" stroke="#50ffda" stroke-width="0.5"/>
<polygon points="102.4,80.9 104.4,82.8 106.3,81.4 104.4,79.4" fill="#44ffe6" stroke="#44ffe6" stroke-width="0.5"/>
<polygon points="100.5,82.4 102.4,84.2 104.4,82.8 102.4,80.9" fill="#38fff2" stroke="#38fff2" stroke-width="0.5"/>
<polygon points="98.5,83.9 100.5,85.6 102.4,84.2 100.5,82.4" fill="#2cfffe" stroke="#2cfffe" stroke-width="0.5"/>
<polygon points="96.6,85.4 98.5,87.0 100.5,85.6 98.5,83.9" fill="#2bf3ff" stroke="#2bf3ff" stroke-width="0.5"/>
<polygon points="67.3,81.9 69.2,83.3 71.2,81.7 69.2,80.3" fill="#2babff" stroke="#2babff" stroke-width="0.5"/>
<polygon points="65.3,83.5 67.3,84.9 69.2,83.3 67.3,81.9" fill="#2bb0ff" stroke="#2bb0ff" stroke-width="0.5"/>
<polygon points="63.4,85.1 65.3,86.4 67.3,84.9 65.3,83.5" fill="#2bb4ff" stroke="#2bb4ff" stroke-width="0.5"/>
<polygon points="61.4,86.7 63.4,88.0 65.3,86.4 63.4,85.1" fill="#2bb9ff" stroke="#2bb9ff" stroke-width="0.5"/>
<polygon points="59.5,88.3 61.4,89.6 63.4,88.0 61.4,86.7" fill="#2bbeff" stroke="#2bbeff" stroke-width="0.5"/>
<polygon points="69.2,83.3 71.2,84.7 73.1,83.2 71.2,81.7" fill="#2bb0ff" stroke="#2bb0ff" stroke-width="0.5"/>
<polygon points="67.3,84.9 69.2,86.3 71.2,84.7 69.2,83.3" fill="#2bb4ff" stroke="#2bb4ff" stroke-width="0.5"/>
<polygon points="65.3,86.4 67.3,87.8 69.2,86.3 67.3,84.9" fill="#2bb8ff" stroke="#2bb8ff" stroke-width="0.5"/>
<polygon points="63.4,88.0 65.3,89.3 67.3,87.8 65.3,86.4" fill="#2bbcff" stroke="#2bbcff" stroke-width="0.5"/>
<polygon points="61.4,89.6 63.4,90.9 65.3,89.3 63.4,88.0" fill="#2bc0ff" stroke="#2bc0ff" stroke-width="0.5"/>
<polygon points="71.2,84.7 73.1,86.1 75.1,84.6 73.1,83.2" fill="#2bb4ff" stroke="#2bb4ff" stroke-width="0.5"/>
<polygon points="69.2,86.3 71.2,87.6 73.1,86.1 71.2,84.7" fill="#2bb8ff" stroke="#2bb8ff" stroke-width="0.5"/>
<polygon points="67.3,87.8 69.2,89.1 71.2,87.6 69.2,86.3" fill="#2bbbff" stroke="#2bbbff" stroke-width="0.5"/>
<polygon points="65.3,89.3 67.3,90.6 69.2,89.1 67.3,87.8" fill="#2bbfff" stroke="#2bbfff" stroke-width="0.5"/>
<polygon points="63.4,90.9 65.3,92.1 67.3,90.6 65.3,89.3" fill="#2bc2ff" stroke="#2bc2ff" stroke-width="0.5"/>
<polygon points="73.1,86.1 75.1,87.5 77.0,86.1 75.1,84.6" fill="#2bb9ff" stroke="#2bb9ff" stroke-width="0.5"/>
<polygon points="71.2,87.6 73.1,89.0 75.1,87.5 73.1,86.1" fill="#2bbcff" stroke="#2bbcff" stroke-width="0.5"/>
<polygon points="69.2,89.1 71.2,90.5 73.1,89.0 71.2,87.6" fill="#2bbfff" stroke="#2bbfff" stroke-width="0.5"/>
<polygon points="67.3,90.6 69.2,91.9 71.2,90.5 69.2,89.1" fill="#2bc1ff" stroke="#2bc1ff" stroke-width="0.5"/>
<polygon points="65.3,92.1 67.3,93.4 69.2,91.9 67.3,90.6" fill="#2bc4ff" stroke="#2bc4ff" stroke-width="0.5"/>
<polygon points="75.1,87.5 77.0,88.9 79.0,87.5 77.0,86.1" fill="#2bbeff" stroke="#2bbeff" stroke-width="0.5"/>
<polygon points="73.1,89.0 75.1,90.4 77.0,88.9 75.1,87.5" fill="#2bc0ff" stroke="#2bc0ff" stroke-width="0.5"/>
<polygon points="71.2,90.5 73.1,91.8 75.1,90.4 73.1,89.0" fill="#2bc2ff" stroke="#2bc2ff" stroke-width="0.5"/>
<polygon points="69.2,91.9 71.2,93.3 73.1,91.8 71.2,90.5" fill="#2bc4ff" stroke="#2bc4ff" stroke-width="0.5"/>
<polygon points="67.3,93.4 69.2,94.7 71.2,93.3 69.2,91.9" fill="#2bc6ff" stroke="#2bc6ff" stroke-width="0.5"/>
<polygon points="86.8,80.7 88.8,82.3 90.7,80.6 88.8,79.0" fill="#2bc4ff" stroke="#2bc4ff" stroke-width="0.5"/>
<polygon points="84.9,82.4 86.8,83.9 88.8,82.3 86.8,80.7" fill="#2bc4ff" stroke="#2bc4ff" stroke-width="0.5"/>
<polygon points="82.9,84.1 84.9,85.6 86.8,83.9 84.9,82.4" fill="#2bc3ff" stroke="#2bc3ff" stroke-width="0.5"/>
<polygon points="81.0,85.8 82.9,87.2 84.9,85.6 82.9,84.1" fill="#2bc2ff" stroke="#2bc2ff" stroke-width="0.5"/>
<polygon points="79.0,87.5 81.0,88.9 82.9,87.2 81.0,85.8" fill="#2bc2ff" stroke="#2bc2ff" stroke-width="0.5"/>
<polygon points="88.8,82.3 90.7,83.8 92.7,82.2 90.7,80.6" fill="#2bceff" stroke="#2bceff" stroke-width="0.5"/>
<polygon points="86.8,83.9 88.8,85.4 90.7,83.8 88.8,82.3" fill="#2bccff" stroke="#2bccff" stroke-width="0.5"/>
<polygon points="84.9,85.6 86.8,87.1 88.8,85.4 86.8,83.9" fill="#2bcaff" stroke="#2bcaff" stroke-width="0.5"/>
<polygon points="82.9,87.2 84.9,88.7 86.8,87.1 84.9,85.6" fill="#2bc8ff" stroke="#2bc8ff" stroke-width="0.5"/>
<polygon points="81.0,88.9 82.9,90.3 84.9,88.7 82.9,87.2" fill="#2bc6ff" stroke="#2bc6ff" stroke-width="0.5"/>
<polygon points="90.7,83.8 92.7,85.4 94.6,83.8 92.7,82.2" fill="#2bd7ff" stroke="#2bd7ff" stroke-width="0.5"/>
<polygon points="88.8,85.4 90.7,87.0 92.7,85.4 90.7,83.8" fill="#2bd4ff" stroke="#2bd4ff" stroke-width="0.5"/>
<polygon points="86.8,87.1 88.8,88.5 90.7,87.0 88.8,85.4" fill="#2bd0ff" stroke="#2bd0ff" stroke-width="0.5"/>
<polygon points="84.9,88.7 86.8,90.1 88.8,88.5 86.8,87.1" fill="#2bcdff" stroke="#2bcdff" stroke-width="0.5"/>
<polygon points="82.9,90.3 84.9,91.7 86.8,90.1 84.9,88.7" fill="#2bcaff" stroke="#2bcaff" stroke-width="0.5"/>
<polygon points="92.7,85.4 94.6,86.9 96.6,85.4 94.6,83.8" fill="#2be1ff" stroke="#2be1ff" stroke-width="0.5"/>
<polygon points="90.7,87.0 92.7,88.5 94.6,86.9 92.7,85.4" fill="#2bdcff" stroke="#2bdcff" stroke-width="0.5"/>
<polygon points="88.8,88.5 90.7,90.0 92.7,88.5 90.7,87.0" fill="#2bd7ff" stroke="#2bd7ff" stroke-width="0.5"/>
<polygon points="86.8,90.1 88.8,91.6 90.7,90.0 88.8,88.5" fill="#2bd2ff" stroke="#2bd2ff" stroke-width="0.5"/>
<polygon points="84.9,91.7 86.8,93.1 88.8,91.6 86.8,90.1" fill="#2bceff" stroke="#2bceff" stroke-width="0.5"/>
<polygon points="94.6,86.9 96.6,88.5 98.5,87.0 96.6,85.4" fill="#2beaff" stroke="#2beaff" stroke-width="0.5"/>
<polygon points="92.7,88.5 94.6,90.0 96.6,88.5 94.6,86.9" fill="#2be4ff" stroke="#2be4ff" stroke-width="0.5"/>
<polygon points="90.7,90.0 92.7,91.5 94.6,90.0 92.7,88.5" fill="#2bdeff" stroke="#2bdeff" stroke-width="0.5"/>
<polygon points="88.8,91.6 90.7,93.0 92.7,91.5 90.7,90.0" fill="#2bd8ff" stroke="#2bd8ff" stroke-width="0.5"/>
<polygon points="86.8,93.1 88.8,94.5 90.7,93.0 88.8,91.6" fill="#2bd2ff" stroke="#2bd2ff" stroke-width="0.5"/>
<polygon points="77.0,88.9 79.0,90.3 81.0,88.9 79.0,87.5" fill="#2bc2ff" stroke="#2bc2ff" stroke-width="0.5"/>
<polygon points="75.1,90.4 77.0,91.7 79.0,90.3 77.0,88.9" fill="#2bc3ff" stroke="#2bc3ff" stroke-width="0.5"/>
<polygon points="73.1,91.8 75.1,93.2 77.0,91.7 75.1,90.4" fill="#2bc5ff" stroke="#2bc5ff" stroke-width="0.5"/>
<polygon points="71.2,93.3 73.1,94.6 75.1,93.2 73.1,91.8" fill="#2bc6ff" stroke="#2bc6ff" stroke-width="0.5"/>
<polygon points="69.2,94.7 71.2,96.0 73.1,94.6 71.2,93.3" fill="#2bc7ff" stroke="#2bc7ff" stroke-width="0.5"/>
<polygon points="79.0,90.3 81.0,91.7 82.9,90.3 81.0,88.9" fill="#2bc5ff" stroke="#2bc5ff" stroke-width="0.5"/>
<polygon points="77.0,91.7 79.0,93.1 81.0,91.7 79.0,90.3" fill="#2bc6ff" stroke="#2bc6ff" stroke-width="0.5"/>
<polygon points="75.1,93.2 77.0,94.5 79.0,93.1 77.0,91.7" fill="#2bc6ff" stroke="#2bc6ff" stroke-width="0.5"/>
<polygon points="73.1,94.6 75.1,95.9 77.0,94.5 75.1,93.2" fill="#2bc7ff" stroke="#2bc7ff" stroke-width="0.5"/>
<polygon points="71.2,96.0 73.1,97.3 75.1,95.9 73.1,94.6" fill="#2bc8ff" stroke="#2bc8ff" stroke-width="0.5"/>
<polygon points="81.0,91.7 82.9,93.1 84.9,91.7 82.9,90.3" fill="#2bc8ff" stroke="#2bc8ff" stroke-width="0.5"/>
<polygon points="79.0,93.1 81.0,94.5 82.9,93.1 81.0,91.7" fill="#2bc8ff" stroke="#2bc8ff" stroke-width="0.5"/>
<polygon points="77.0,94.5 79.0,95.9 81.0,94.5 79.0,93.1" fill="#2bc8ff" stroke="#2bc8ff" stroke-width="0.5"/>
<polygon points="75.1,95.9 77.0,97.3 79.0,95.9 77.0,94.5" fill="#2bc8ff" stroke="#2bc8ff" stroke-width="0.5"/>
<polygon points="73.1,97.3 75.1,98.7 77.0,97.3 75.1,95.9" fill="#2bc8ff" stroke="#2bc8ff" stroke-width="0.5"/>
<polygon points="82.9,93.1 84.9,94.5 86.8,93.1 84.9,91.7" fill="#2bcbff" stroke="#2bcbff" stroke-width="0.5"/>
<polygon points="81.0,94.5 82.9,95.9 84.9,94.5 82.9,93.1" fill="#2bcaff" stroke="#2bcaff" stroke-width="0.5"/>
<polygon points="79.0,95.9 81.0,97.2 82.9,95.9 81.0,94.5" fill="#2bcaff" stroke="#2bcaff" stroke-width="0.5"/>
<polygon points="77.0,97.3 79.0,98.6 81.0,97.2 79.0,95.9" fill="#2bc9ff" stroke="#2bc9ff" stroke-width="0.5"/>
<polygon points="75.1,98.7 77.0,100.0 79.0,98.6 77.0,97.3" fill="#2bc8ff" stroke="#2bc8ff" stroke-width="0.5"/>
<polygon points="84.9,94.5 86.8,95.9 88.8,94.5 86.8,93.1" fill="#2bceff" stroke="#2bceff" stroke-width="0.5"/>
<polygon points="82.9,95.9 84.9,97.2 86.8,95.9 84.9,94.5" fill="#2bcdff" stroke="#2bcdff" stroke-width="0.5"/>
<polygon points="81.0,97.2 82.9,98.6 84.9,97.2 82.9,95.9" fill="#2bcbff" stroke="#2bcbff" stroke-width="0.5"/>
<polygon points="79.0,98.6 81.0,99.9 82.9,98.6 81.0,97.2" fill="#2bcaff" stroke="#2bcaff" stroke-width="0.5"/>
<polygon points="77.0,100.0 79.0,101.3 81.0,99.9 79.0,98.6" fill="#2bc9ff" stroke="#2bc9ff" stroke-width="0.5"/>
</g></g>
<polyline points="30.2,70.9 40.0,64.5 49.7,50.2 59.5,31.7 69.2,25.7 79.0,12.8" fill="none" stroke="#ffffff" stroke-opacity="0.4" stroke-width="0.5"/>
<polyline points="40.0,75.7 49.7,71.4 59.5,60.2 69.2,48.4 79.0,36.0 88.8,27.4" fill="none" stroke="#ffffff" stroke-opacity="0.4" stroke-width="0.5"/>
<polyline points="49.7,82.0 59.5,77.4 69.2,61.4 79.0,51.2 88.8,44.3 98.5,37.5" fill="none" stroke="#ffffff" stroke-opacity="0.4" stroke-width="0.5"/>
<polyline points="59.5,88.3 69.2,80.3 79.0,73.0 88.8,60.7 98.5,53.5 108.3,47.7" fill="none" stroke="#ffffff" stroke-opacity="0.4" stroke-width="0.5"/>
<polyline points="69.2,94.7 79.0,87.5 88.8,79.0 98.5,69.6 108.3,62.7 118.0,57.6" fill="none" stroke="#ffffff" stroke-opacity="0.4" stroke-width="0.5"/>
<polyline points="79.0,101.3 88.8,94.5 98.5,87.0 108.3,80.0 118.0,72.4 127.8,66.8" fill="none" stroke="#ffffff" stroke-opacity="0.4" stroke-width="0.5"/>
<polyline points="30.2,70.9 40.0,75.7 49.7,82.0 59.5,88.3 69.2,94.7 79.0,101.3" fill="none" stroke="#ffffff" stroke-opacity="0.4" stroke-width="0.5"/>
<polyline points="40.0,64.5 49.7,71.4 59.5,77.4 69.2,80.3 79.0,87.5 88.8,94.5" fill="none" stroke="#ffffff" stroke-opacity="0.4" stroke-width="0.5"/>
<polyline points="49.7,50.2 59.5,60.2 69.2,61.4 79.0,73.0 88.8,79.0 98.5,87.0" fill="none" stroke="#ffffff" stroke-opacity="0.4" stroke-width="0.5"/>
<polyline points="59.5,31.7 69.2,48.4 79.0,51.2 88.8,60.7 98.5,69.6 108.3,80.0" fill="none" stroke="#ffffff" stroke-opacity="0.4" stroke-width="0.5"/>
<polyline points="69.2,25.7 79.0,36.0 88.8,44.3 98.5,53.5 108.3,62.7 118.0,72.4" fill="none" stroke="#ffffff" stroke-opacity="0.4" stroke-width="0.5"/>
<polyline points="79.0,12.8 88.8,27.4 98.5,37.5 108.3,47.7 118.0,57.6 127.8,66.8" fill="none" stroke="#ffffff" stroke-opacity="0.4" stroke-width="0.5"/>
<circle cx="30.2" cy="70.9" r="0.7" fill="#14301c" fill-opacity="0.9"/>
<circle cx="40.0" cy="64.5" r="0.7" fill="#14301c" fill-opacity="0.9"/>
<circle cx="49.7" cy="50.2" r="0.7" fill="#14301c" fill-opacity="0.9"/>
<circle cx="59.5" cy="31.7" r="0.7" fill="#14301c" fill-opacity="0.9"/>
<circle cx="69.2" cy="25.7" r="0.7" fill="#14301c" fill-opacity="0.9"/>
<circle cx="79.0" cy="12.8" r="0.7" fill="#14301c" fill-opacity="0.9"/>
<circle cx="40.0" cy="75.7" r="0.7" fill="#14301c" fill-opacity="0.9"/>
<circle cx="49.7" cy="71.4" r="0.7" fill="#14301c" fill-opacity="0.9"/>
<circle cx="59.5" cy="60.2" r="0.7" fill="#14301c" fill-opacity="0.9"/>
<circle cx="69.2" cy="48.4" r="0.7" fill="#14301c" fill-opacity="0.9"/>
<circle cx="79.0" cy="36.0" r="0.7" fill="#14301c" fill-opacity="0.9"/>
<circle cx="88.8" cy="27.4" r="0.7" fill="#14301c" fill-opacity="0.9"/>
<circle cx="49.7" cy="82.0" r="0.7" fill="#14301c" fill-opacity="0.9"/>
<circle cx="59.5" cy="77.4" r="0.7" fill="#14301c" fill-opacity="0.9"/>
<circle cx="69.2" cy="61.4" r="0.7" fill="#14301c" fill-opacity="0.9"/>
<circle cx="79.0" cy="51.2" r="0.7" fill="#14301c" fill-opacity="0.9"/>
<circle cx="88.8" cy="44.3" r="0.7" fill="#14301c" fill-opacity="0.9"/>
<circle cx="98.5" cy="37.5" r="0.7" fill="#14301c" fill-opacity="0.9"/>
<circle cx="59.5" cy="88.3" r="0.7" fill="#14301c" fill-opacity="0.9"/>
<circle cx="69.2" cy="80.3" r="0.7" fill="#14301c" fill-opacity="0.9"/>
<circle cx="79.0" cy="73.0" r="0.7" fill="#14301c" fill-opacity="0.9"/>
<circle cx="88.8" cy="60.7" r="0.7" fill="#14301c" fill-opacity="0.9"/>
<circle cx="98.5" cy="53.5" r="0.7" fill="#14301c" fill-opacity="0.9"/>
<circle cx="108.3" cy="47.7" r="0.7" fill="#14301c" fill-opacity="0.9"/>
<circle cx="69.2" cy="94.7" r="0.7" fill="#14301c" fill-opacity="0.9"/>
<circle cx="79.0" cy="87.5" r="0.7" fill="#14301c" fill-opacity="0.9"/>
<circle cx="88.8" cy="79.0" r="0.7" fill="#14301c" fill-opacity="0.9"/>
<circle cx="98.5" cy="69.6" r="0.7" fill="#14301c" fill-opacity="0.9"/>
<circle cx="108.3" cy="62.7" r="0.7" fill="#14301c" fill-opacity="0.9"/>
<circle cx="118.0" cy="57.6" r="0.7" fill="#14301c" fill-opacity="0.9"/>
<circle cx="79.0" cy="101.3" r="0.7" fill="#14301c" fill-opacity="0.9"/>
<circle cx="88.8" cy="94.5" r="0.7" fill="#14301c" fill-opacity="0.9"/>
<circle cx="98.5" cy="87.0" r="0.7" fill="#14301c" fill-opacity="0.9"/>
<circle cx="108.3" cy="80.0" r="0.7" fill="#14301c" fill-opacity="0.9"/>
<circle cx="118.0" cy="72.4" r="0.7" fill="#14301c" fill-opacity="0.9"/>
<circle cx="127.8" cy="66.8" r="0.7" fill="#14301c" fill-opacity="0.9"/>
<text x="27.30" y="39.32" font-size="5.6" font-weight="normal" font-style="normal" text-anchor="end" fill="#222" stroke="#222" stroke-width="0.18">100</text>
<text x="27.30" y="57.32" font-size="5.6" font-weight="normal" font-style="normal" text-anchor="end" fill="#222" stroke="#222" stroke-width="0.18">50</text>
<text x="27.30" y="75.82" font-size="5.6" font-weight="normal" font-style="normal" text-anchor="end" fill="#222" stroke="#222" stroke-width="0.18">0</text>
<text x="23.60" y="82.82" font-size="5.6" font-weight="normal" font-style="normal" text-anchor="middle" fill="#222" stroke="#222" stroke-width="0.18">0</text>
<text x="33.10" y="88.12" font-size="5.6" font-weight="normal" font-style="normal" text-anchor="middle" fill="#222" stroke="#222" stroke-width="0.18">2</text>
<text x="43.40" y="93.52" font-size="5.6" font-weight="normal" font-style="normal" text-anchor="middle" fill="#222" stroke="#222" stroke-width="0.18">5</text>
<text x="53.50" y="98.72" font-size="5.6" font-weight="normal" font-style="normal" text-anchor="middle" fill="#222" stroke="#222" stroke-width="0.18">10</text>
<text x="63.30" y="103.72" font-size="5.6" font-weight="normal" font-style="normal" text-anchor="middle" fill="#222" stroke="#222" stroke-width="0.18">20</text>
<text x="73.10" y="109.02" font-size="5.6" font-weight="normal" font-style="normal" text-anchor="middle" fill="#222" stroke="#222" stroke-width="0.18">40</text>
<text x="81.50" y="108.72" font-size="5.6" font-weight="normal" font-style="normal" text-anchor="start" fill="#222" stroke="#222" stroke-width="0.18">250</text>
<text x="91.35" y="103.62" font-size="5.6" font-weight="normal" font-style="normal" text-anchor="start" fill="#222" stroke="#222" stroke-width="0.18">200</text>
<text x="101.20" y="98.52" font-size="5.6" font-weight="normal" font-style="normal" text-anchor="start" fill="#222" stroke="#222" stroke-width="0.18">150</text>
<text x="111.05" y="93.42" font-size="5.6" font-weight="normal" font-style="normal" text-anchor="start" fill="#222" stroke="#222" stroke-width="0.18">100</text>
<text x="120.90" y="88.32" font-size="5.6" font-weight="normal" font-style="normal" text-anchor="start" fill="#222" stroke="#222" stroke-width="0.18">50</text>
<text x="130.75" y="83.22" font-size="5.6" font-weight="normal" font-style="normal" text-anchor="start" fill="#222" stroke="#222" stroke-width="0.18">0</text>
<text x="12.50" y="51.27" font-size="6.3" font-weight="normal" font-style="normal" text-anchor="middle" fill="#222" transform="rotate(-90 12.50 49.00)" stroke="#222" stroke-width="0.18">% Control</text>
<text x="7.00" y="112.48" font-size="6.05" font-weight="bold" font-style="normal" text-anchor="start" fill="#222">Irinotecan (µmol/L)</text>
<text x="100.00" y="113.98" font-size="6.05" font-weight="bold" font-style="normal" text-anchor="start" fill="#222">Devimistat (µmol/L)</text>
<polyline points="158.8,74.6 211.8,46.3 263.4,73.9" fill="none" stroke="#ececec" stroke-width="0.6"/>
<polyline points="158.8,55.9 211.8,27.6 263.4,55.2" fill="none" stroke="#ececec" stroke-width="0.6"/>
<polyline points="158.8,37.3 211.8,9.0 263.4,36.6" fill="none" stroke="#ececec" stroke-width="0.6"/>
<line x1="158.80" y1="74.60" x2="158.80" y2="37.30" stroke="#ececec" stroke-width="0.6"/>
<line x1="210.40" y1="102.20" x2="158.80" y2="74.60" stroke="#ececec" stroke-width="0.6"/>
<line x1="169.40" y1="68.94" x2="169.40" y2="31.64" stroke="#ececec" stroke-width="0.6"/>
<line x1="221.00" y1="96.54" x2="169.40" y2="68.94" stroke="#ececec" stroke-width="0.6"/>
<line x1="180.00" y1="63.28" x2="180.00" y2="25.98" stroke="#ececec" stroke-width="0.6"/>
<line x1="231.60" y1="90.88" x2="180.00" y2="63.28" stroke="#ececec" stroke-width="0.6"/>
<line x1="190.60" y1="57.62" x2="190.60" y2="20.32" stroke="#ececec" stroke-width="0.6"/>
<line x1="242.20" y1="85.22" x2="190.60" y2="57.62" stroke="#ececec" stroke-width="0.6"/>
<line x1="201.20" y1="51.96" x2="201.20" y2="14.66" stroke="#ececec" stroke-width="0.6"/>
<line x1="252.80" y1="79.56" x2="201.20" y2="51.96" stroke="#ececec" stroke-width="0.6"/>
<line x1="211.80" y1="46.30" x2="211.80" y2="9.00" stroke="#ececec" stroke-width="0.6"/>
<line x1="263.40" y1="73.90" x2="211.80" y2="46.30" stroke="#ececec" stroke-width="0.6"/>
<line x1="211.80" y1="46.30" x2="211.80" y2="9.00" stroke="#ececec" stroke-width="0.6"/>
<line x1="158.80" y1="74.60" x2="211.80" y2="46.30" stroke="#ececec" stroke-width="0.6"/>
<line x1="224.70" y1="53.20" x2="224.70" y2="15.90" stroke="#ececec" stroke-width="0.6"/>
<line x1="171.70" y1="81.50" x2="224.70" y2="53.20" stroke="#ececec" stroke-width="0.6"/>
<line x1="237.60" y1="60.10" x2="237.60" y2="22.80" stroke="#ececec" stroke-width="0.6"/>
<line x1="184.60" y1="88.40" x2="237.60" y2="60.10" stroke="#ececec" stroke-width="0.6"/>
<line x1="250.50" y1="67.00" x2="250.50" y2="29.70" stroke="#ececec" stroke-width="0.6"/>
<line x1="197.50" y1="95.30" x2="250.50" y2="67.00" stroke="#ececec" stroke-width="0.6"/>
<line x1="263.40" y1="73.90" x2="263.40" y2="36.60" stroke="#ececec" stroke-width="0.6"/>
<line x1="210.40" y1="102.20" x2="263.40" y2="73.90" stroke="#ececec" stroke-width="0.6"/>
<line x1="158.80" y1="74.60" x2="158.80" y2="37.30" stroke="#8c8c8c" stroke-width="0.7"/>
<line x1="158.80" y1="74.60" x2="210.40" y2="102.20" stroke="#8c8c8c" stroke-width="0.7"/>
<line x1="210.40" y1="102.20" x2="263.40" y2="73.90" stroke="#8c8c8c" stroke-width="0.7"/>
<clipPath id="cs2">
<polygon points="201.2,16.6 214.1,27.2 224.7,14.3 211.8,10.4"/>
<polygon points="190.6,22.6 203.5,30.5 214.1,27.2 201.2,16.6"/>
<polygon points="214.1,27.2 227.0,36.9 237.6,35.0 224.7,14.3"/>
<polygon points="180.0,34.6 192.9,36.9 203.5,30.5 190.6,22.6"/>
<polygon points="203.5,30.5 216.4,48.0 227.0,36.9 214.1,27.2"/>
<polygon points="227.0,36.9 239.9,54.7 250.5,52.0 237.6,35.0"/>
<polygon points="169.4,42.7 182.3,60.5 192.9,36.9 180.0,34.6"/>
<polygon points="192.9,36.9 205.8,49.2 216.4,48.0 203.5,30.5"/>
<polygon points="216.4,48.0 229.3,61.9 239.9,54.7 227.0,36.9"/>
<polygon points="239.9,54.7 252.8,68.1 263.4,62.3 250.5,52.0"/>
<polygon points="158.8,54.2 171.7,61.8 182.3,60.5 169.4,42.7"/>
<polygon points="182.3,60.5 195.2,81.2 205.8,49.2 192.9,36.9"/>
<polygon points="205.8,49.2 218.7,66.2 229.3,61.9 216.4,48.0"/>
<polygon points="229.3,61.9 242.2,71.5 252.8,68.1 239.9,54.7"/>
<polygon points="171.7,61.8 184.6,88.4 195.2,81.2 182.3,60.5"/>
<polygon points="195.2,81.2 208.1,84.6 218.7,66.2 205.8,49.2"/>
<polygon points="218.7,66.2 231.6,78.5 242.2,71.5 229.3,61.9"/>
<polygon points="184.6,88.4 197.5,89.2 208.1,84.6 195.2,81.2"/>
<polygon points="208.1,84.6 221.0,96.5 231.6,78.5 218.7,66.2"/>
<polygon points="197.5,89.2 210.4,90.5 221.0,96.5 208.1,84.6"/>
</clipPath>
<g clip-path="url(#cs2)"><g filter="url(#surfblur)">
<polygon points="210.0,11.4 212.2,12.3 214.0,11.1 211.8,10.4" fill="#6bffa3" stroke="#6bffa3" stroke-width="0.5"/>
<polygon points="208.3,12.5 210.4,13.5 212.2,12.3 210.0,11.4" fill="#6affa5" stroke="#6affa5" stroke-width="0.5"/>
<polygon points="206.5,13.5 208.7,14.7 210.4,13.5 208.3,12.5" fill="#68ffa6" stroke="#68ffa6" stroke-width="0.5"/>
<polygon points="204.7,14.5 206.9,15.9 208.7,14.7 206.5,13.5" fill="#67ffa7" stroke="#67ffa7" stroke-width="0.5"/>
<polygon points="203.0,15.6 205.1,17.1 206.9,15.9 204.7,14.5" fill="#65ffa9" stroke="#65ffa9" stroke-width="0.5"/>
<polygon points="201.2,16.6 203.4,18.4 205.1,17.1 203.0,15.6" fill="#64ffaa" stroke="#64ffaa" stroke-width="0.5"/>
<polygon points="212.2,12.3 214.3,13.1 216.1,11.7 214.0,11.1" fill="#6dffa1" stroke="#6dffa1" stroke-width="0.5"/>
<polygon points="210.4,13.5 212.6,14.5 214.3,13.1 212.2,12.3" fill="#69ffa6" stroke="#69ffa6" stroke-width="0.5"/>
<polygon points="208.7,14.7 210.8,15.9 212.6,14.5 210.4,13.5" fill="#64ffaa" stroke="#64ffaa" stroke-width="0.5"/>
<polygon points="206.9,15.9 209.0,17.3 210.8,15.9 208.7,14.7" fill="#60ffaf" stroke="#60ffaf" stroke-width="0.5"/>
<polygon points="205.1,17.1 207.3,18.7 209.0,17.3 206.9,15.9" fill="#5bffb3" stroke="#5bffb3" stroke-width="0.5"/>
<polygon points="203.4,18.4 205.5,20.1 207.3,18.7 205.1,17.1" fill="#57ffb7" stroke="#57ffb7" stroke-width="0.5"/>
<polygon points="214.3,13.1 216.5,13.9 218.2,12.4 216.1,11.7" fill="#6fffa0" stroke="#6fffa0" stroke-width="0.5"/>
<polygon points="212.6,14.5 214.7,15.5 216.5,13.9 214.3,13.1" fill="#67ffa7" stroke="#67ffa7" stroke-width="0.5"/>
<polygon points="210.8,15.9 213.0,17.1 214.7,15.5 212.6,14.5" fill="#60ffae" stroke="#60ffae" stroke-width="0.5"/>
<polygon points="209.0,17.3 211.2,18.7 213.0,17.1 210.8,15.9" fill="#59ffb6" stroke="#59ffb6" stroke-width="0.5"/>
<polygon points="207.3,18.7 209.4,20.3 211.2,18.7 209.0,17.3" fill="#51ffbd" stroke="#51ffbd" stroke-width="0.5"/>
<polygon points="205.5,20.1 207.7,21.9 209.4,20.3 207.3,18.7" fill="#4affc4" stroke="#4affc4" stroke-width="0.5"/>
<polygon points="216.5,13.9 218.6,14.8 220.4,13.0 218.2,12.4" fill="#70ff9e" stroke="#70ff9e" stroke-width="0.5"/>
<polygon points="214.7,15.5 216.9,16.6 218.6,14.8 216.5,13.9" fill="#66ffa8" stroke="#66ffa8" stroke-width="0.5"/>
<polygon points="213.0,17.1 215.1,18.3 216.9,16.6 214.7,15.5" fill="#5cffb2" stroke="#5cffb2" stroke-width="0.5"/>
<polygon points="211.2,18.7 213.3,20.1 215.1,18.3 213.0,17.1" fill="#52ffbd" stroke="#52ffbd" stroke-width="0.5"/>
<polygon points="209.4,20.3 211.6,21.9 213.3,20.1 211.2,18.7" fill="#47ffc7" stroke="#47ffc7" stroke-width="0.5"/>
<polygon points="207.7,21.9 209.8,23.7 211.6,21.9 209.4,20.3" fill="#3dffd1" stroke="#3dffd1" stroke-width="0.5"/>
<polygon points="218.6,14.8 220.8,15.6 222.6,13.7 220.4,13.0" fill="#72ff9c" stroke="#72ff9c" stroke-width="0.5"/>
<polygon points="216.9,16.6 219.0,17.6 220.8,15.6 218.6,14.8" fill="#65ffa9" stroke="#65ffa9" stroke-width="0.5"/>
<polygon points="215.1,18.3 217.2,19.5 219.0,17.6 216.9,16.6" fill="#58ffb6" stroke="#58ffb6" stroke-width="0.5"/>
<polygon points="213.3,20.1 215.5,21.5 217.2,19.5 215.1,18.3" fill="#4bffc4" stroke="#4bffc4" stroke-width="0.5"/>
<polygon points="211.6,21.9 213.7,23.5 215.5,21.5 213.3,20.1" fill="#3dffd1" stroke="#3dffd1" stroke-width="0.5"/>
<polygon points="209.8,23.7 212.0,25.4 213.7,23.5 211.6,21.9" fill="#30ffde" stroke="#30ffde" stroke-width="0.5"/>
<polygon points="220.8,15.6 222.9,16.4 224.7,14.3 222.6,13.7" fill="#74ff9a" stroke="#74ff9a" stroke-width="0.5"/>
<polygon points="219.0,17.6 221.2,18.6 222.9,16.4 220.8,15.6" fill="#64ffab" stroke="#64ffab" stroke-width="0.5"/>
<polygon points="217.2,19.5 219.4,20.8 221.2,18.6 219.0,17.6" fill="#54ffbb" stroke="#54ffbb" stroke-width="0.5"/>
<polygon points="215.5,21.5 217.6,22.9 219.4,20.8 217.2,19.5" fill="#44ffcb" stroke="#44ffcb" stroke-width="0.5"/>
<polygon points="213.7,23.5 215.9,25.1 217.6,22.9 215.5,21.5" fill="#33ffdb" stroke="#33ffdb" stroke-width="0.5"/>
<polygon points="212.0,25.4 214.1,27.2 215.9,25.1 213.7,23.5" fill="#23ffeb" stroke="#23ffeb" stroke-width="0.5"/>
<polygon points="199.4,17.6 201.6,19.3 203.4,18.4 201.2,16.6" fill="#66ffa8" stroke="#66ffa8" stroke-width="0.5"/>
<polygon points="197.7,18.6 199.8,20.2 201.6,19.3 199.4,17.6" fill="#6bffa3" stroke="#6bffa3" stroke-width="0.5"/>
<polygon points="195.9,19.6 198.1,21.1 199.8,20.2 197.7,18.6" fill="#71ff9d" stroke="#71ff9d" stroke-width="0.5"/>
<polygon points="194.1,20.6 196.3,22.1 198.1,21.1 195.9,19.6" fill="#76ff98" stroke="#76ff98" stroke-width="0.5"/>
<polygon points="192.4,21.6 194.5,23.0 196.3,22.1 194.1,20.6" fill="#7cff93" stroke="#7cff93" stroke-width="0.5"/>
<polygon points="190.6,22.6 192.8,23.9 194.5,23.0 192.4,21.6" fill="#81ff8d" stroke="#81ff8d" stroke-width="0.5"/>
<polygon points="201.6,19.3 203.7,21.0 205.5,20.1 203.4,18.4" fill="#58ffb6" stroke="#58ffb6" stroke-width="0.5"/>
<polygon points="199.8,20.2 202.0,21.8 203.7,21.0 201.6,19.3" fill="#5fffaf" stroke="#5fffaf" stroke-width="0.5"/>
<polygon points="198.1,21.1 200.2,22.7 202.0,21.8 199.8,20.2" fill="#66ffa9" stroke="#66ffa9" stroke-width="0.5"/>
<polygon points="196.3,22.1 198.4,23.5 200.2,22.7 198.1,21.1" fill="#6dffa2" stroke="#6dffa2" stroke-width="0.5"/>
<polygon points="194.5,23.0 196.7,24.4 198.4,23.5 196.3,22.1" fill="#73ff9b" stroke="#73ff9b" stroke-width="0.5"/>
<polygon points="192.8,23.9 194.9,25.2 196.7,24.4 194.5,23.0" fill="#7aff94" stroke="#7aff94" stroke-width="0.5"/>
<polygon points="203.7,21.0 205.9,22.7 207.7,21.9 205.5,20.1" fill="#4affc4" stroke="#4affc4" stroke-width="0.5"/>
<polygon points="202.0,21.8 204.1,23.5 205.9,22.7 203.7,21.0" fill="#53ffbc" stroke="#53ffbc" stroke-width="0.5"/>
<polygon points="200.2,22.7 202.4,24.2 204.1,23.5 202.0,21.8" fill="#5bffb4" stroke="#5bffb4" stroke-width="0.5"/>
<polygon points="198.4,23.5 200.6,25.0 202.4,24.2 200.2,22.7" fill="#63ffab" stroke="#63ffab" stroke-width="0.5"/>
<polygon points="196.7,24.4 198.8,25.8 200.6,25.0 198.4,23.5" fill="#6bffa3" stroke="#6bffa3" stroke-width="0.5"/>
<polygon points="194.9,25.2 197.1,26.6 198.8,25.8 196.7,24.4" fill="#73ff9b" stroke="#73ff9b" stroke-width="0.5"/>
<polygon points="205.9,22.7 208.0,24.4 209.8,23.7 207.7,21.9" fill="#3dffd2" stroke="#3dffd2" stroke-width="0.5"/>
<polygon points="204.1,23.5 206.3,25.1 208.0,24.4 205.9,22.7" fill="#46ffc8" stroke="#46ffc8" stroke-width="0.5"/>
<polygon points="202.4,24.2 204.5,25.8 206.3,25.1 204.1,23.5" fill="#50ffbf" stroke="#50ffbf" stroke-width="0.5"/>
<polygon points="200.6,25.0 202.7,26.5 204.5,25.8 202.4,24.2" fill="#59ffb5" stroke="#59ffb5" stroke-width="0.5"/>
<polygon points="198.8,25.8 201.0,27.2 202.7,26.5 200.6,25.0" fill="#63ffac" stroke="#63ffac" stroke-width="0.5"/>
<polygon points="197.1,26.6 199.2,27.9 201.0,27.2 198.8,25.8" fill="#6cffa2" stroke="#6cffa2" stroke-width="0.5"/>
<polygon points="208.0,24.4 210.2,26.1 212.0,25.4 209.8,23.7" fill="#2fffdf" stroke="#2fffdf" stroke-width="0.5"/>
<polygon points="206.3,25.1 208.4,26.7 210.2,26.1 208.0,24.4" fill="#3affd4" stroke="#3affd4" stroke-width="0.5"/>
<polygon points="204.5,25.8 206.7,27.3 208.4,26.7 206.3,25.1" fill="#45ffca" stroke="#45ffca" stroke-width="0.5"/>
<polygon points="202.7,26.5 204.9,27.9 206.7,27.3 204.5,25.8" fill="#4fffbf" stroke="#4fffbf" stroke-width="0.5"/>
<polygon points="201.0,27.2 203.1,28.6 204.9,27.9 202.7,26.5" fill="#5affb4" stroke="#5affb4" stroke-width="0.5"/>
<polygon points="199.2,27.9 201.3,29.2 203.1,28.6 201.0,27.2" fill="#65ffa9" stroke="#65ffa9" stroke-width="0.5"/>
<polygon points="210.2,26.1 212.3,27.8 214.1,27.2 212.0,25.4" fill="#21ffed" stroke="#21ffed" stroke-width="0.5"/>
<polygon points="208.4,26.7 210.6,28.3 212.3,27.8 210.2,26.1" fill="#2dffe1" stroke="#2dffe1" stroke-width="0.5"/>
<polygon points="206.7,27.3 208.8,28.9 210.6,28.3 208.4,26.7" fill="#3affd5" stroke="#3affd5" stroke-width="0.5"/>
<polygon points="204.9,27.9 207.0,29.4 208.8,28.9 206.7,27.3" fill="#46ffc9" stroke="#46ffc9" stroke-width="0.5"/>
<polygon points="203.1,28.6 205.3,30.0 207.0,29.4 204.9,27.9" fill="#52ffbc" stroke="#52ffbc" stroke-width="0.5"/>
<polygon points="201.3,29.2 203.5,30.5 205.3,30.0 203.1,28.6" fill="#5effb0" stroke="#5effb0" stroke-width="0.5"/>
<polygon points="222.9,16.4 225.1,19.6 226.9,17.8 224.7,14.3" fill="#78ff97" stroke="#78ff97" stroke-width="0.5"/>
<polygon points="221.2,18.6 223.3,21.4 225.1,19.6 222.9,16.4" fill="#68ffa6" stroke="#68ffa6" stroke-width="0.5"/>
<polygon points="219.4,20.8 221.6,23.3 223.3,21.4 221.2,18.6" fill="#59ffb5" stroke="#59ffb5" stroke-width="0.5"/>
<polygon points="217.6,22.9 219.8,25.1 221.6,23.3 219.4,20.8" fill="#4affc5" stroke="#4affc5" stroke-width="0.5"/>
<polygon points="215.9,25.1 218.0,27.0 219.8,25.1 217.6,22.9" fill="#3affd4" stroke="#3affd4" stroke-width="0.5"/>
<polygon points="214.1,27.2 216.3,28.8 218.0,27.0 215.9,25.1" fill="#2bffe3" stroke="#2bffe3" stroke-width="0.5"/>
<polygon points="225.1,19.6 227.2,22.7 229.0,21.2 226.9,17.8" fill="#7dff91" stroke="#7dff91" stroke-width="0.5"/>
<polygon points="223.3,21.4 225.5,24.3 227.2,22.7 225.1,19.6" fill="#72ff9c" stroke="#72ff9c" stroke-width="0.5"/>
<polygon points="221.6,23.3 223.7,25.8 225.5,24.3 223.3,21.4" fill="#67ffa7" stroke="#67ffa7" stroke-width="0.5"/>
<polygon points="219.8,25.1 221.9,27.4 223.7,25.8 221.6,23.3" fill="#5dffb2" stroke="#5dffb2" stroke-width="0.5"/>
<polygon points="218.0,27.0 220.2,28.9 221.9,27.4 219.8,25.1" fill="#52ffbc" stroke="#52ffbc" stroke-width="0.5"/>
<polygon points="216.3,28.8 218.4,30.4 220.2,28.9 218.0,27.0" fill="#47ffc7" stroke="#47ffc7" stroke-width="0.5"/>
<polygon points="227.2,22.7 229.4,25.9 231.2,24.6 229.0,21.2" fill="#82ff8c" stroke="#82ff8c" stroke-width="0.5"/>
<polygon points="225.5,24.3 227.6,27.1 229.4,25.9 227.2,22.7" fill="#7cff92" stroke="#7cff92" stroke-width="0.5"/>
<polygon points="223.7,25.8 225.9,28.3 227.6,27.1 225.5,24.3" fill="#76ff98" stroke="#76ff98" stroke-width="0.5"/>
<polygon points="221.9,27.4 224.1,29.6 225.9,28.3 223.7,25.8" fill="#70ff9f" stroke="#70ff9f" stroke-width="0.5"/>
<polygon points="220.2,28.9 222.3,30.8 224.1,29.6 221.9,27.4" fill="#69ffa5" stroke="#69ffa5" stroke-width="0.5"/>
<polygon points="218.4,30.4 220.6,32.0 222.3,30.8 220.2,28.9" fill="#63ffab" stroke="#63ffab" stroke-width="0.5"/>
<polygon points="229.4,25.9 231.5,29.0 233.3,28.1 231.2,24.6" fill="#88ff86" stroke="#88ff86" stroke-width="0.5"/>
<polygon points="227.6,27.1 229.8,30.0 231.5,29.0 229.4,25.9" fill="#86ff88" stroke="#86ff88" stroke-width="0.5"/>
<polygon points="225.9,28.3 228.0,30.9 229.8,30.0 227.6,27.1" fill="#84ff8a" stroke="#84ff8a" stroke-width="0.5"/>
<polygon points="224.1,29.6 226.2,31.8 228.0,30.9 225.9,28.3" fill="#83ff8c" stroke="#83ff8c" stroke-width="0.5"/>
<polygon points="222.3,30.8 224.5,32.7 226.2,31.8 224.1,29.6" fill="#81ff8d" stroke="#81ff8d" stroke-width="0.5"/>
<polygon points="220.6,32.0 222.7,33.7 224.5,32.7 222.3,30.8" fill="#7fff8f" stroke="#7fff8f" stroke-width="0.5"/>
<polygon points="231.5,29.0 233.7,32.2 235.5,31.6 233.3,28.1" fill="#8dff81" stroke="#8dff81" stroke-width="0.5"/>
<polygon points="229.8,30.0 231.9,32.8 233.7,32.2 231.5,29.0" fill="#90ff7e" stroke="#90ff7e" stroke-width="0.5"/>
<polygon points="228.0,30.9 230.2,33.4 231.9,32.8 229.8,30.0" fill="#93ff7b" stroke="#93ff7b" stroke-width="0.5"/>
<polygon points="226.2,31.8 228.4,34.0 230.2,33.4 228.0,30.9" fill="#96ff79" stroke="#96ff79" stroke-width="0.5"/>
<polygon points="224.5,32.7 226.6,34.7 228.4,34.0 226.2,31.8" fill="#99ff76" stroke="#99ff76" stroke-width="0.5"/>
<polygon points="222.7,33.7 224.9,35.3 226.6,34.7 224.5,32.7" fill="#9bff73" stroke="#9bff73" stroke-width="0.5"/>
<polygon points="233.7,32.2 235.8,35.3 237.6,35.0 235.5,31.6" fill="#93ff7b" stroke="#93ff7b" stroke-width="0.5"/>
<polygon points="231.9,32.8 234.1,35.6 235.8,35.3 233.7,32.2" fill="#9aff74" stroke="#9aff74" stroke-width="0.5"/>
<polygon points="230.2,33.4 232.3,36.0 234.1,35.6 231.9,32.8" fill="#a1ff6d" stroke="#a1ff6d" stroke-width="0.5"/>
<polygon points="228.4,34.0 230.5,36.3 232.3,36.0 230.2,33.4" fill="#a9ff66" stroke="#a9ff66" stroke-width="0.5"/>
<polygon points="226.6,34.7 228.8,36.6 230.5,36.3 228.4,34.0" fill="#b0ff5e" stroke="#b0ff5e" stroke-width="0.5"/>
<polygon points="224.9,35.3 227.0,36.9 228.8,36.6 226.6,34.7" fill="#b7ff57" stroke="#b7ff57" stroke-width="0.5"/>
<polygon points="188.8,24.6 191.0,25.8 192.8,23.9 190.6,22.6" fill="#86ff88" stroke="#86ff88" stroke-width="0.5"/>
<polygon points="187.1,26.6 189.2,27.6 191.0,25.8 188.8,24.6" fill="#8bff83" stroke="#8bff83" stroke-width="0.5"/>
<polygon points="185.3,28.6 187.5,29.5 189.2,27.6 187.1,26.6" fill="#90ff7f" stroke="#90ff7f" stroke-width="0.5"/>
<polygon points="183.5,30.6 185.7,31.3 187.5,29.5 185.3,28.6" fill="#94ff7a" stroke="#94ff7a" stroke-width="0.5"/>
<polygon points="181.8,32.6 183.9,33.1 185.7,31.3 183.5,30.6" fill="#99ff75" stroke="#99ff75" stroke-width="0.5"/>
<polygon points="180.0,34.6 182.2,35.0 183.9,33.1 181.8,32.6" fill="#9eff71" stroke="#9eff71" stroke-width="0.5"/>
<polygon points="191.0,25.8 193.1,26.9 194.9,25.2 192.8,23.9" fill="#81ff8d" stroke="#81ff8d" stroke-width="0.5"/>
<polygon points="189.2,27.6 191.4,28.6 193.1,26.9 191.0,25.8" fill="#89ff85" stroke="#89ff85" stroke-width="0.5"/>
<polygon points="187.5,29.5 189.6,30.3 191.4,28.6 189.2,27.6" fill="#91ff7e" stroke="#91ff7e" stroke-width="0.5"/>
<polygon points="185.7,31.3 187.8,32.0 189.6,30.3 187.5,29.5" fill="#98ff76" stroke="#98ff76" stroke-width="0.5"/>
<polygon points="183.9,33.1 186.1,33.7 187.8,32.0 185.7,31.3" fill="#a0ff6f" stroke="#a0ff6f" stroke-width="0.5"/>
<polygon points="182.2,35.0 184.3,35.4 186.1,33.7 183.9,33.1" fill="#a7ff67" stroke="#a7ff67" stroke-width="0.5"/>
<polygon points="193.1,26.9 195.3,28.1 197.1,26.6 194.9,25.2" fill="#7cff92" stroke="#7cff92" stroke-width="0.5"/>
<polygon points="191.4,28.6 193.5,29.6 195.3,28.1 193.1,26.9" fill="#87ff87" stroke="#87ff87" stroke-width="0.5"/>
<polygon points="189.6,30.3 191.8,31.1 193.5,29.6 191.4,28.6" fill="#91ff7d" stroke="#91ff7d" stroke-width="0.5"/>
<polygon points="187.8,32.0 190.0,32.7 191.8,31.1 189.6,30.3" fill="#9cff72" stroke="#9cff72" stroke-width="0.5"/>
<polygon points="186.1,33.7 188.2,34.2 190.0,32.7 187.8,32.0" fill="#a7ff68" stroke="#a7ff68" stroke-width="0.5"/>
<polygon points="184.3,35.4 186.4,35.8 188.2,34.2 186.1,33.7" fill="#b1ff5d" stroke="#b1ff5d" stroke-width="0.5"/>
<polygon points="195.3,28.1 197.4,29.2 199.2,27.9 197.1,26.6" fill="#78ff97" stroke="#78ff97" stroke-width="0.5"/>
<polygon points="193.5,29.6 195.7,30.6 197.4,29.2 195.3,28.1" fill="#85ff89" stroke="#85ff89" stroke-width="0.5"/>
<polygon points="191.8,31.1 193.9,32.0 195.7,30.6 193.5,29.6" fill="#92ff7c" stroke="#92ff7c" stroke-width="0.5"/>
<polygon points="190.0,32.7 192.1,33.4 193.9,32.0 191.8,31.1" fill="#a0ff6e" stroke="#a0ff6e" stroke-width="0.5"/>
<polygon points="188.2,34.2 190.4,34.8 192.1,33.4 190.0,32.7" fill="#adff61" stroke="#adff61" stroke-width="0.5"/>
<polygon points="186.4,35.8 188.6,36.1 190.4,34.8 188.2,34.2" fill="#bbff54" stroke="#bbff54" stroke-width="0.5"/>
<polygon points="197.4,29.2 199.6,30.4 201.3,29.2 199.2,27.9" fill="#73ff9c" stroke="#73ff9c" stroke-width="0.5"/>
<polygon points="195.7,30.6 197.8,31.6 199.6,30.4 197.4,29.2" fill="#83ff8b" stroke="#83ff8b" stroke-width="0.5"/>
<polygon points="193.9,32.0 196.1,32.9 197.8,31.6 195.7,30.6" fill="#93ff7b" stroke="#93ff7b" stroke-width="0.5"/>
<polygon points="192.1,33.4 194.3,34.1 196.1,32.9 193.9,32.0" fill="#a4ff6b" stroke="#a4ff6b" stroke-width="0.5"/>
<polygon points="190.4,34.8 192.5,35.3 194.3,34.1 192.1,33.4" fill="#b4ff5a" stroke="#b4ff5a" stroke-width="0.5"/>
<polygon points="188.6,36.1 190.8,36.5 192.5,35.3 190.4,34.8" fill="#c4ff4a" stroke="#c4ff4a" stroke-width="0.5"/>
<polygon points="199.6,30.4 201.7,31.6 203.5,30.5 201.3,29.2" fill="#6effa1" stroke="#6effa1" stroke-width="0.5"/>
<polygon points="197.8,31.6 200.0,32.6 201.7,31.6 199.6,30.4" fill="#81ff8d" stroke="#81ff8d" stroke-width="0.5"/>
<polygon points="196.1,32.9 198.2,33.7 200.0,32.6 197.8,31.6" fill="#94ff7a" stroke="#94ff7a" stroke-width="0.5"/>
<polygon points="194.3,34.1 196.4,34.8 198.2,33.7 196.1,32.9" fill="#a8ff67" stroke="#a8ff67" stroke-width="0.5"/>
<polygon points="192.5,35.3 194.7,35.8 196.4,34.8 194.3,34.1" fill="#bbff53" stroke="#bbff53" stroke-width="0.5"/>
<polygon points="190.8,36.5 192.9,36.9 194.7,35.8 192.5,35.3" fill="#ceff40" stroke="#ceff40" stroke-width="0.5"/>
<polygon points="212.3,27.8 214.5,29.6 216.3,28.8 214.1,27.2" fill="#28ffe6" stroke="#28ffe6" stroke-width="0.5"/>
<polygon points="210.6,28.3 212.7,30.4 214.5,29.6 212.3,27.8" fill="#32ffdc" stroke="#32ffdc" stroke-width="0.5"/>
<polygon points="208.8,28.9 211.0,31.1 212.7,30.4 210.6,28.3" fill="#3cffd2" stroke="#3cffd2" stroke-width="0.5"/>
<polygon points="207.0,29.4 209.2,31.9 211.0,31.1 208.8,28.9" fill="#46ffc8" stroke="#46ffc8" stroke-width="0.5"/>
<polygon points="205.3,30.0 207.4,32.7 209.2,31.9 207.0,29.4" fill="#50ffbe" stroke="#50ffbe" stroke-width="0.5"/>
<polygon points="203.5,30.5 205.7,33.4 207.4,32.7 205.3,30.0" fill="#5affb4" stroke="#5affb4" stroke-width="0.5"/>
<polygon points="214.5,29.6 216.6,31.4 218.4,30.4 216.3,28.8" fill="#44ffca" stroke="#44ffca" stroke-width="0.5"/>
<polygon points="212.7,30.4 214.9,32.4 216.6,31.4 214.5,29.6" fill="#48ffc6" stroke="#48ffc6" stroke-width="0.5"/>
<polygon points="211.0,31.1 213.1,33.4 214.9,32.4 212.7,30.4" fill="#4dffc2" stroke="#4dffc2" stroke-width="0.5"/>
<polygon points="209.2,31.9 211.3,34.4 213.1,33.4 211.0,31.1" fill="#51ffbd" stroke="#51ffbd" stroke-width="0.5"/>
<polygon points="207.4,32.7 209.6,35.4 211.3,34.4 209.2,31.9" fill="#55ffb9" stroke="#55ffb9" stroke-width="0.5"/>
<polygon points="205.7,33.4 207.8,36.3 209.6,35.4 207.4,32.7" fill="#5affb4" stroke="#5affb4" stroke-width="0.5"/>
<polygon points="216.6,31.4 218.8,33.2 220.6,32.0 218.4,30.4" fill="#5fffaf" stroke="#5fffaf" stroke-width="0.5"/>
<polygon points="214.9,32.4 217.0,34.4 218.8,33.2 216.6,31.4" fill="#5effb0" stroke="#5effb0" stroke-width="0.5"/>
<polygon points="213.1,33.4 215.2,35.6 217.0,34.4 214.9,32.4" fill="#5dffb1" stroke="#5dffb1" stroke-width="0.5"/>
<polygon points="211.3,34.4 213.5,36.9 215.2,35.6 213.1,33.4" fill="#5cffb2" stroke="#5cffb2" stroke-width="0.5"/>
<polygon points="209.6,35.4 211.7,38.1 213.5,36.9 211.3,34.4" fill="#5bffb4" stroke="#5bffb4" stroke-width="0.5"/>
<polygon points="207.8,36.3 210.0,39.2 211.7,38.1 209.6,35.4" fill="#59ffb5" stroke="#59ffb5" stroke-width="0.5"/>
<polygon points="218.8,33.2 220.9,35.1 222.7,33.7 220.6,32.0" fill="#7bff93" stroke="#7bff93" stroke-width="0.5"/>
<polygon points="217.0,34.4 219.2,36.5 220.9,35.1 218.8,33.2" fill="#74ff9a" stroke="#74ff9a" stroke-width="0.5"/>
<polygon points="215.2,35.6 217.4,37.9 219.2,36.5 217.0,34.4" fill="#6dffa1" stroke="#6dffa1" stroke-width="0.5"/>
<polygon points="213.5,36.9 215.6,39.3 217.4,37.9 215.2,35.6" fill="#67ffa8" stroke="#67ffa8" stroke-width="0.5"/>
<polygon points="211.7,38.1 213.9,40.8 215.6,39.3 213.5,36.9" fill="#60ffaf" stroke="#60ffaf" stroke-width="0.5"/>
<polygon points="210.0,39.2 212.1,42.2 213.9,40.8 211.7,38.1" fill="#59ffb5" stroke="#59ffb5" stroke-width="0.5"/>
<polygon points="220.9,35.1 223.1,36.9 224.9,35.3 222.7,33.7" fill="#97ff78" stroke="#97ff78" stroke-width="0.5"/>
<polygon points="219.2,36.5 221.3,38.5 223.1,36.9 220.9,35.1" fill="#8aff84" stroke="#8aff84" stroke-width="0.5"/>
<polygon points="217.4,37.9 219.6,40.2 221.3,38.5 219.2,36.5" fill="#7eff91" stroke="#7eff91" stroke-width="0.5"/>
<polygon points="215.6,39.3 217.8,41.8 219.6,40.2 217.4,37.9" fill="#71ff9d" stroke="#71ff9d" stroke-width="0.5"/>
<polygon points="213.9,40.8 216.0,43.4 217.8,41.8 215.6,39.3" fill="#65ffa9" stroke="#65ffa9" stroke-width="0.5"/>
<polygon points="212.1,42.2 214.3,45.1 216.0,43.4 213.9,40.8" fill="#59ffb6" stroke="#59ffb6" stroke-width="0.5"/>
<polygon points="223.1,36.9 225.2,38.8 227.0,36.9 224.9,35.3" fill="#b2ff5c" stroke="#b2ff5c" stroke-width="0.5"/>
<polygon points="221.3,38.5 223.5,40.6 225.2,38.8 223.1,36.9" fill="#a0ff6e" stroke="#a0ff6e" stroke-width="0.5"/>
<polygon points="219.6,40.2 221.7,42.5 223.5,40.6 221.3,38.5" fill="#8eff80" stroke="#8eff80" stroke-width="0.5"/>
<polygon points="217.8,41.8 219.9,44.3 221.7,42.5 219.6,40.2" fill="#7cff92" stroke="#7cff92" stroke-width="0.5"/>
<polygon points="216.0,43.4 218.2,46.1 219.9,44.3 217.8,41.8" fill="#6affa4" stroke="#6affa4" stroke-width="0.5"/>
<polygon points="214.3,45.1 216.4,48.0 218.2,46.1 216.0,43.4" fill="#58ffb6" stroke="#58ffb6" stroke-width="0.5"/>
<polygon points="235.8,35.3 238.0,38.2 239.8,37.8 237.6,35.0" fill="#98ff76" stroke="#98ff76" stroke-width="0.5"/>
<polygon points="234.1,35.6 236.2,38.5 238.0,38.2 235.8,35.3" fill="#a2ff6c" stroke="#a2ff6c" stroke-width="0.5"/>
<polygon points="232.3,36.0 234.5,38.9 236.2,38.5 234.1,35.6" fill="#acff62" stroke="#acff62" stroke-width="0.5"/>
<polygon points="230.5,36.3 232.7,39.2 234.5,38.9 232.3,36.0" fill="#b6ff58" stroke="#b6ff58" stroke-width="0.5"/>
<polygon points="228.8,36.6 230.9,39.5 232.7,39.2 230.5,36.3" fill="#c0ff4e" stroke="#c0ff4e" stroke-width="0.5"/>
<polygon points="227.0,36.9 229.2,39.9 230.9,39.5 228.8,36.6" fill="#caff44" stroke="#caff44" stroke-width="0.5"/>
<polygon points="238.0,38.2 240.1,41.0 241.9,40.7 239.8,37.8" fill="#9dff71" stroke="#9dff71" stroke-width="0.5"/>
<polygon points="236.2,38.5 238.4,41.4 240.1,41.0 238.0,38.2" fill="#a8ff66" stroke="#a8ff66" stroke-width="0.5"/>
<polygon points="234.5,38.9 236.6,41.8 238.4,41.4 236.2,38.5" fill="#b3ff5b" stroke="#b3ff5b" stroke-width="0.5"/>
<polygon points="232.7,39.2 234.8,42.1 236.6,41.8 234.5,38.9" fill="#beff51" stroke="#beff51" stroke-width="0.5"/>
<polygon points="230.9,39.5 233.1,42.5 234.8,42.1 232.7,39.2" fill="#c8ff46" stroke="#c8ff46" stroke-width="0.5"/>
<polygon points="229.2,39.9 231.3,42.8 233.1,42.5 230.9,39.5" fill="#d3ff3b" stroke="#d3ff3b" stroke-width="0.5"/>
<polygon points="240.1,41.0 242.3,43.9 244.1,43.5 241.9,40.7" fill="#a3ff6c" stroke="#a3ff6c" stroke-width="0.5"/>
<polygon points="238.4,41.4 240.5,44.3 242.3,43.9 240.1,41.0" fill="#aeff60" stroke="#aeff60" stroke-width="0.5"/>
<polygon points="236.6,41.8 238.8,44.6 240.5,44.3 238.4,41.4" fill="#baff55" stroke="#baff55" stroke-width="0.5"/>
<polygon points="234.8,42.1 237.0,45.0 238.8,44.6 236.6,41.8" fill="#c5ff49" stroke="#c5ff49" stroke-width="0.5"/>
<polygon points="233.1,42.5 235.2,45.4 237.0,45.0 234.8,42.1" fill="#d1ff3d" stroke="#d1ff3d" stroke-width="0.5"/>
<polygon points="231.3,42.8 233.5,45.8 235.2,45.4 233.1,42.5" fill="#dcff32" stroke="#dcff32" stroke-width="0.5"/>
<polygon points="242.3,43.9 244.4,46.7 246.2,46.3 244.1,43.5" fill="#a8ff67" stroke="#a8ff67" stroke-width="0.5"/>
<polygon points="240.5,44.3 242.7,47.1 244.4,46.7 242.3,43.9" fill="#b4ff5a" stroke="#b4ff5a" stroke-width="0.5"/>
<polygon points="238.8,44.6 240.9,47.5 242.7,47.1 240.5,44.3" fill="#c0ff4e" stroke="#c0ff4e" stroke-width="0.5"/>
<polygon points="237.0,45.0 239.1,48.0 240.9,47.5 238.8,44.6" fill="#cdff41" stroke="#cdff41" stroke-width="0.5"/>
<polygon points="235.2,45.4 237.4,48.4 239.1,48.0 237.0,45.0" fill="#d9ff35" stroke="#d9ff35" stroke-width="0.5"/>
<polygon points="233.5,45.8 235.6,48.8 237.4,48.4 235.2,45.4" fill="#e6ff29" stroke="#e6ff29" stroke-width="0.5"/>
<polygon points="244.4,46.7 246.6,49.6 248.3,49.2 246.2,46.3" fill="#adff61" stroke="#adff61" stroke-width="0.5"/>
<polygon points="242.7,47.1 244.8,50.0 246.6,49.6 244.4,46.7" fill="#baff54" stroke="#baff54" stroke-width="0.5"/>
<polygon points="240.9,47.5 243.1,50.5 244.8,50.0 242.7,47.1" fill="#c7ff47" stroke="#c7ff47" stroke-width="0.5"/>
<polygon points="239.1,48.0 241.3,50.9 243.1,50.5 240.9,47.5" fill="#d4ff3a" stroke="#d4ff3a" stroke-width="0.5"/>
<polygon points="237.4,48.4 239.5,51.3 241.3,50.9 239.1,48.0" fill="#e2ff2d" stroke="#e2ff2d" stroke-width="0.5"/>
<polygon points="235.6,48.8 237.8,51.7 239.5,51.3 237.4,48.4" fill="#efff1f" stroke="#efff1f" stroke-width="0.5"/>
<polygon points="246.6,49.6 248.7,52.5 250.5,52.0 248.3,49.2" fill="#b2ff5c" stroke="#b2ff5c" stroke-width="0.5"/>
<polygon points="244.8,50.0 247.0,52.9 248.7,52.5 246.6,49.6" fill="#c0ff4e" stroke="#c0ff4e" stroke-width="0.5"/>
<polygon points="243.1,50.5 245.2,53.4 247.0,52.9 244.8,50.0" fill="#ceff40" stroke="#ceff40" stroke-width="0.5"/>
<polygon points="241.3,50.9 243.4,53.8 245.2,53.4 243.1,50.5" fill="#dcff32" stroke="#dcff32" stroke-width="0.5"/>
<polygon points="239.5,51.3 241.7,54.2 243.4,53.8 241.3,50.9" fill="#eaff24" stroke="#eaff24" stroke-width="0.5"/>
<polygon points="237.8,51.7 239.9,54.7 241.7,54.2 239.5,51.3" fill="#f8ff16" stroke="#f8ff16" stroke-width="0.5"/>
<polygon points="178.2,36.0 180.4,36.8 182.2,35.0 180.0,34.6" fill="#9cff73" stroke="#9cff73" stroke-width="0.5"/>
<polygon points="176.5,37.3 178.6,38.5 180.4,36.8 178.2,36.0" fill="#94ff7b" stroke="#94ff7b" stroke-width="0.5"/>
<polygon points="174.7,38.7 176.8,40.3 178.6,38.5 176.5,37.3" fill="#8bff83" stroke="#8bff83" stroke-width="0.5"/>
<polygon points="172.9,40.0 175.1,42.1 176.8,40.3 174.7,38.7" fill="#83ff8b" stroke="#83ff8b" stroke-width="0.5"/>
<polygon points="171.2,41.4 173.3,43.9 175.1,42.1 172.9,40.0" fill="#7bff94" stroke="#7bff94" stroke-width="0.5"/>
<polygon points="169.4,42.7 171.6,45.7 173.3,43.9 171.2,41.4" fill="#73ff9c" stroke="#73ff9c" stroke-width="0.5"/>
<polygon points="180.4,36.8 182.5,37.6 184.3,35.4 182.2,35.0" fill="#a2ff6c" stroke="#a2ff6c" stroke-width="0.5"/>
<polygon points="178.6,38.5 180.8,39.8 182.5,37.6 180.4,36.8" fill="#90ff7f" stroke="#90ff7f" stroke-width="0.5"/>
<polygon points="176.8,40.3 179.0,42.0 180.8,39.8 178.6,38.5" fill="#7dff91" stroke="#7dff91" stroke-width="0.5"/>
<polygon points="175.1,42.1 177.2,44.2 179.0,42.0 176.8,40.3" fill="#6bffa4" stroke="#6bffa4" stroke-width="0.5"/>
<polygon points="173.3,43.9 175.5,46.4 177.2,44.2 175.1,42.1" fill="#58ffb6" stroke="#58ffb6" stroke-width="0.5"/>
<polygon points="171.6,45.7 173.7,48.6 175.5,46.4 173.3,43.9" fill="#46ffc8" stroke="#46ffc8" stroke-width="0.5"/>
<polygon points="182.5,37.6 184.7,38.4 186.4,35.8 184.3,35.4" fill="#a8ff66" stroke="#a8ff66" stroke-width="0.5"/>
<polygon points="180.8,39.8 182.9,41.0 184.7,38.4 182.5,37.6" fill="#8cff83" stroke="#8cff83" stroke-width="0.5"/>
<polygon points="179.0,42.0 181.2,43.7 182.9,41.0 180.8,39.8" fill="#6fff9f" stroke="#6fff9f" stroke-width="0.5"/>
<polygon points="177.2,44.2 179.4,46.3 181.2,43.7 179.0,42.0" fill="#53ffbc" stroke="#53ffbc" stroke-width="0.5"/>
<polygon points="175.5,46.4 177.6,49.0 179.4,46.3 177.2,44.2" fill="#36ffd8" stroke="#36ffd8" stroke-width="0.5"/>
<polygon points="173.7,48.6 175.9,51.6 177.6,49.0 175.5,46.4" fill="#1afff5" stroke="#1afff5" stroke-width="0.5"/>
<polygon points="184.7,38.4 186.8,39.2 188.6,36.1 186.4,35.8" fill="#aeff60" stroke="#aeff60" stroke-width="0.5"/>
<polygon points="182.9,41.0 185.1,42.3 186.8,39.2 184.7,38.4" fill="#88ff87" stroke="#88ff87" stroke-width="0.5"/>
<polygon points="181.2,43.7 183.3,45.3 185.1,42.3 182.9,41.0" fill="#61ffad" stroke="#61ffad" stroke-width="0.5"/>
<polygon points="179.4,46.3 181.5,48.4 183.3,45.3 181.2,43.7" fill="#3affd4" stroke="#3affd4" stroke-width="0.5"/>
<polygon points="177.6,49.0 179.8,51.5 181.5,48.4 179.4,46.3" fill="#14fffb" stroke="#14fffb" stroke-width="0.5"/>
<polygon points="175.9,51.6 178.0,54.6 179.8,51.5 177.6,49.0" fill="#0fddff" stroke="#0fddff" stroke-width="0.5"/>
<polygon points="186.8,39.2 189.0,40.0 190.8,36.5 188.6,36.1" fill="#b4ff5a" stroke="#b4ff5a" stroke-width="0.5"/>
<polygon points="185.1,42.3 187.2,43.5 189.0,40.0 186.8,39.2" fill="#84ff8b" stroke="#84ff8b" stroke-width="0.5"/>
<polygon points="183.3,45.3 185.4,47.0 187.2,43.5 185.1,42.3" fill="#53ffbb" stroke="#53ffbb" stroke-width="0.5"/>
<polygon points="181.5,48.4 183.7,50.5 185.4,47.0 183.3,45.3" fill="#22ffec" stroke="#22ffec" stroke-width="0.5"/>
<polygon points="179.8,51.5 181.9,54.0 183.7,50.5 181.5,48.4" fill="#0fe1ff" stroke="#0fe1ff" stroke-width="0.5"/>
<polygon points="178.0,54.6 180.2,57.5 181.9,54.0 179.8,51.5" fill="#0fb0ff" stroke="#0fb0ff" stroke-width="0.5"/>
<polygon points="189.0,40.0 191.1,40.8 192.9,36.9 190.8,36.5" fill="#baff54" stroke="#baff54" stroke-width="0.5"/>
<polygon points="187.2,43.5 189.4,44.8 191.1,40.8 189.0,40.0" fill="#80ff8f" stroke="#80ff8f" stroke-width="0.5"/>
<polygon points="185.4,47.0 187.6,48.7 189.4,44.8 187.2,43.5" fill="#45ffca" stroke="#45ffca" stroke-width="0.5"/>
<polygon points="183.7,50.5 185.8,52.6 187.6,48.7 185.4,47.0" fill="#0ffaff" stroke="#0ffaff" stroke-width="0.5"/>
<polygon points="181.9,54.0 184.1,56.6 185.8,52.6 183.7,50.5" fill="#0fbfff" stroke="#0fbfff" stroke-width="0.5"/>
<polygon points="180.2,57.5 182.3,60.5 184.1,56.6 181.9,54.0" fill="#0f84ff" stroke="#0f84ff" stroke-width="0.5"/>
<polygon points="201.7,31.6 203.9,34.3 205.7,33.4 203.5,30.5" fill="#6affa5" stroke="#6affa5" stroke-width="0.5"/>
<polygon points="200.0,32.6 202.1,35.3 203.9,34.3 201.7,31.6" fill="#7fff8f" stroke="#7fff8f" stroke-width="0.5"/>
<polygon points="198.2,33.7 200.3,36.2 202.1,35.3 200.0,32.6" fill="#94ff7a" stroke="#94ff7a" stroke-width="0.5"/>
<polygon points="196.4,34.8 198.6,37.1 200.3,36.2 198.2,33.7" fill="#a9ff65" stroke="#a9ff65" stroke-width="0.5"/>
<polygon points="194.7,35.8 196.8,38.0 198.6,37.1 196.4,34.8" fill="#beff50" stroke="#beff50" stroke-width="0.5"/>
<polygon points="192.9,36.9 195.1,39.0 196.8,38.0 194.7,35.8" fill="#d4ff3b" stroke="#d4ff3b" stroke-width="0.5"/>
<polygon points="203.9,34.3 206.0,37.1 207.8,36.3 205.7,33.4" fill="#67ffa7" stroke="#67ffa7" stroke-width="0.5"/>
<polygon points="202.1,35.3 204.3,37.9 206.0,37.1 203.9,34.3" fill="#7dff91" stroke="#7dff91" stroke-width="0.5"/>
<polygon points="200.3,36.2 202.5,38.7 204.3,37.9 202.1,35.3" fill="#93ff7b" stroke="#93ff7b" stroke-width="0.5"/>
<polygon points="198.6,37.1 200.7,39.4 202.5,38.7 200.3,36.2" fill="#a9ff65" stroke="#a9ff65" stroke-width="0.5"/>
<polygon points="196.8,38.0 199.0,40.2 200.7,39.4 198.6,37.1" fill="#bfff4f" stroke="#bfff4f" stroke-width="0.5"/>
<polygon points="195.1,39.0 197.2,41.0 199.0,40.2 196.8,38.0" fill="#d5ff39" stroke="#d5ff39" stroke-width="0.5"/>
<polygon points="206.0,37.1 208.2,39.9 210.0,39.2 207.8,36.3" fill="#64ffaa" stroke="#64ffaa" stroke-width="0.5"/>
<polygon points="204.3,37.9 206.4,40.5 208.2,39.9 206.0,37.1" fill="#7bff93" stroke="#7bff93" stroke-width="0.5"/>
<polygon points="202.5,38.7 204.7,41.1 206.4,40.5 204.3,37.9" fill="#92ff7d" stroke="#92ff7d" stroke-width="0.5"/>
<polygon points="200.7,39.4 202.9,41.8 204.7,41.1 202.5,38.7" fill="#a9ff66" stroke="#a9ff66" stroke-width="0.5"/>
<polygon points="199.0,40.2 201.1,42.4 202.9,41.8 200.7,39.4" fill="#bfff4f" stroke="#bfff4f" stroke-width="0.5"/>
<polygon points="197.2,41.0 199.4,43.0 201.1,42.4 199.0,40.2" fill="#d6ff38" stroke="#d6ff38" stroke-width="0.5"/>
<polygon points="208.2,39.9 210.3,42.7 212.1,42.2 210.0,39.2" fill="#61ffad" stroke="#61ffad" stroke-width="0.5"/>
<polygon points="206.4,40.5 208.6,43.1 210.3,42.7 208.2,39.9" fill="#79ff95" stroke="#79ff95" stroke-width="0.5"/>
<polygon points="204.7,41.1 206.8,43.6 208.6,43.1 206.4,40.5" fill="#91ff7e" stroke="#91ff7e" stroke-width="0.5"/>
<polygon points="202.9,41.8 205.0,44.1 206.8,43.6 204.7,41.1" fill="#a8ff66" stroke="#a8ff66" stroke-width="0.5"/>
<polygon points="201.1,42.4 203.3,44.6 205.0,44.1 202.9,41.8" fill="#c0ff4f" stroke="#c0ff4f" stroke-width="0.5"/>
<polygon points="199.4,43.0 201.5,45.1 203.3,44.6 201.1,42.4" fill="#d7ff37" stroke="#d7ff37" stroke-width="0.5"/>
<polygon points="210.3,42.7 212.5,45.4 214.3,45.1 212.1,42.2" fill="#5fffb0" stroke="#5fffb0" stroke-width="0.5"/>
<polygon points="208.6,43.1 210.7,45.8 212.5,45.4 210.3,42.7" fill="#77ff97" stroke="#77ff97" stroke-width="0.5"/>
<polygon points="206.8,43.6 209.0,46.1 210.7,45.8 208.6,43.1" fill="#8fff7f" stroke="#8fff7f" stroke-width="0.5"/>
<polygon points="205.0,44.1 207.2,46.5 209.0,46.1 206.8,43.6" fill="#a8ff67" stroke="#a8ff67" stroke-width="0.5"/>
<polygon points="203.3,44.6 205.4,46.8 207.2,46.5 205.0,44.1" fill="#c0ff4e" stroke="#c0ff4e" stroke-width="0.5"/>
<polygon points="201.5,45.1 203.7,47.2 205.4,46.8 203.3,44.6" fill="#d8ff36" stroke="#d8ff36" stroke-width="0.5"/>
<polygon points="212.5,45.4 214.6,48.2 216.4,48.0 214.3,45.1" fill="#5cffb2" stroke="#5cffb2" stroke-width="0.5"/>
<polygon points="210.7,45.8 212.9,48.4 214.6,48.2 212.5,45.4" fill="#75ff99" stroke="#75ff99" stroke-width="0.5"/>
<polygon points="209.0,46.1 211.1,48.6 212.9,48.4 210.7,45.8" fill="#8eff80" stroke="#8eff80" stroke-width="0.5"/>
<polygon points="207.2,46.5 209.3,48.8 211.1,48.6 209.0,46.1" fill="#a7ff67" stroke="#a7ff67" stroke-width="0.5"/>
<polygon points="205.4,46.8 207.6,49.0 209.3,48.8 207.2,46.5" fill="#c0ff4e" stroke="#c0ff4e" stroke-width="0.5"/>
<polygon points="203.7,47.2 205.8,49.2 207.6,49.0 205.4,46.8" fill="#daff35" stroke="#daff35" stroke-width="0.5"/>
<polygon points="225.2,38.8 227.4,41.6 229.2,39.9 227.0,36.9" fill="#c5ff49" stroke="#c5ff49" stroke-width="0.5"/>
<polygon points="223.5,40.6 225.6,43.4 227.4,41.6 225.2,38.8" fill="#b2ff5c" stroke="#b2ff5c" stroke-width="0.5"/>
<polygon points="221.7,42.5 223.9,45.1 225.6,43.4 223.5,40.6" fill="#9fff70" stroke="#9fff70" stroke-width="0.5"/>
<polygon points="219.9,44.3 222.1,46.8 223.9,45.1 221.7,42.5" fill="#8bff83" stroke="#8bff83" stroke-width="0.5"/>
<polygon points="218.2,46.1 220.3,48.6 222.1,46.8 219.9,44.3" fill="#78ff96" stroke="#78ff96" stroke-width="0.5"/>
<polygon points="216.4,48.0 218.6,50.3 220.3,48.6 218.2,46.1" fill="#65ffa9" stroke="#65ffa9" stroke-width="0.5"/>
<polygon points="227.4,41.6 229.5,44.5 231.3,42.8 229.2,39.9" fill="#d0ff3e" stroke="#d0ff3e" stroke-width="0.5"/>
<polygon points="225.6,43.4 227.8,46.1 229.5,44.5 227.4,41.6" fill="#c0ff4e" stroke="#c0ff4e" stroke-width="0.5"/>
<polygon points="223.9,45.1 226.0,47.7 227.8,46.1 225.6,43.4" fill="#b0ff5f" stroke="#b0ff5f" stroke-width="0.5"/>
<polygon points="222.1,46.8 224.2,49.4 226.0,47.7 223.9,45.1" fill="#9fff6f" stroke="#9fff6f" stroke-width="0.5"/>
<polygon points="220.3,48.6 222.5,51.0 224.2,49.4 222.1,46.8" fill="#8fff7f" stroke="#8fff7f" stroke-width="0.5"/>
<polygon points="218.6,50.3 220.7,52.6 222.5,51.0 220.3,48.6" fill="#7fff90" stroke="#7fff90" stroke-width="0.5"/>
<polygon points="229.5,44.5 231.7,47.3 233.5,45.8 231.3,42.8" fill="#dcff33" stroke="#dcff33" stroke-width="0.5"/>
<polygon points="227.8,46.1 229.9,48.9 231.7,47.3 229.5,44.5" fill="#ceff40" stroke="#ceff40" stroke-width="0.5"/>
<polygon points="226.0,47.7 228.2,50.4 229.9,48.9 227.8,46.1" fill="#c1ff4e" stroke="#c1ff4e" stroke-width="0.5"/>
<polygon points="224.2,49.4 226.4,51.9 228.2,50.4 226.0,47.7" fill="#b3ff5b" stroke="#b3ff5b" stroke-width="0.5"/>
<polygon points="222.5,51.0 224.6,53.4 226.4,51.9 224.2,49.4" fill="#a6ff69" stroke="#a6ff69" stroke-width="0.5"/>
<polygon points="220.7,52.6 222.9,55.0 224.6,53.4 222.5,51.0" fill="#98ff76" stroke="#98ff76" stroke-width="0.5"/>
<polygon points="231.7,47.3 233.8,50.2 235.6,48.8 233.5,45.8" fill="#e7ff28" stroke="#e7ff28" stroke-width="0.5"/>
<polygon points="229.9,48.9 232.1,51.6 233.8,50.2 231.7,47.3" fill="#dcff32" stroke="#dcff32" stroke-width="0.5"/>
<polygon points="228.2,50.4 230.3,53.0 232.1,51.6 229.9,48.9" fill="#d2ff3d" stroke="#d2ff3d" stroke-width="0.5"/>
<polygon points="226.4,51.9 228.5,54.4 230.3,53.0 228.2,50.4" fill="#c7ff47" stroke="#c7ff47" stroke-width="0.5"/>
<polygon points="224.6,53.4 226.8,55.9 228.5,54.4 226.4,51.9" fill="#bcff52" stroke="#bcff52" stroke-width="0.5"/>
<polygon points="222.9,55.0 225.0,57.3 226.8,55.9 224.6,53.4" fill="#b2ff5c" stroke="#b2ff5c" stroke-width="0.5"/>
<polygon points="233.8,50.2 236.0,53.0 237.8,51.7 235.6,48.8" fill="#f2ff1d" stroke="#f2ff1d" stroke-width="0.5"/>
<polygon points="232.1,51.6 234.2,54.4 236.0,53.0 233.8,50.2" fill="#eaff24" stroke="#eaff24" stroke-width="0.5"/>
<polygon points="230.3,53.0 232.5,55.7 234.2,54.4 232.1,51.6" fill="#e2ff2c" stroke="#e2ff2c" stroke-width="0.5"/>
<polygon points="228.5,54.4 230.7,57.0 232.5,55.7 230.3,53.0" fill="#dbff33" stroke="#dbff33" stroke-width="0.5"/>
<polygon points="226.8,55.9 228.9,58.3 230.7,57.0 228.5,54.4" fill="#d3ff3b" stroke="#d3ff3b" stroke-width="0.5"/>
<polygon points="225.0,57.3 227.2,59.6 228.9,58.3 226.8,55.9" fill="#ccff43" stroke="#ccff43" stroke-width="0.5"/>
<polygon points="236.0,53.0 238.1,55.9 239.9,54.7 237.8,51.7" fill="#fdff12" stroke="#fdff12" stroke-width="0.5"/>
<polygon points="234.2,54.4 236.4,57.1 238.1,55.9 236.0,53.0" fill="#f8ff16" stroke="#f8ff16" stroke-width="0.5"/>
<polygon points="232.5,55.7 234.6,58.3 236.4,57.1 234.2,54.4" fill="#f3ff1b" stroke="#f3ff1b" stroke-width="0.5"/>
<polygon points="230.7,57.0 232.8,59.5 234.6,58.3 232.5,55.7" fill="#efff20" stroke="#efff20" stroke-width="0.5"/>
<polygon points="228.9,58.3 231.1,60.7 232.8,59.5 230.7,57.0" fill="#eaff24" stroke="#eaff24" stroke-width="0.5"/>
<polygon points="227.2,59.6 229.3,61.9 231.1,60.7 228.9,58.3" fill="#e5ff29" stroke="#e5ff29" stroke-width="0.5"/>
<polygon points="248.7,52.5 250.9,54.3 252.6,53.7 250.5,52.0" fill="#b1ff5d" stroke="#b1ff5d" stroke-width="0.5"/>
<polygon points="247.0,52.9 249.1,54.8 250.9,54.3 248.7,52.5" fill="#bfff50" stroke="#bfff50" stroke-width="0.5"/>
<polygon points="245.2,53.4 247.3,55.3 249.1,54.8 247.0,52.9" fill="#ccff42" stroke="#ccff42" stroke-width="0.5"/>
<polygon points="243.4,53.8 245.6,55.9 247.3,55.3 245.2,53.4" fill="#daff34" stroke="#daff34" stroke-width="0.5"/>
<polygon points="241.7,54.2 243.8,56.4 245.6,55.9 243.4,53.8" fill="#e7ff27" stroke="#e7ff27" stroke-width="0.5"/>
<polygon points="239.9,54.7 242.1,56.9 243.8,56.4 241.7,54.2" fill="#f5ff19" stroke="#f5ff19" stroke-width="0.5"/>
<polygon points="250.9,54.3 253.0,56.1 254.8,55.4 252.6,53.7" fill="#aaff64" stroke="#aaff64" stroke-width="0.5"/>
<polygon points="249.1,54.8 251.3,56.7 253.0,56.1 250.9,54.3" fill="#b6ff58" stroke="#b6ff58" stroke-width="0.5"/>
<polygon points="247.3,55.3 249.5,57.3 251.3,56.7 249.1,54.8" fill="#c2ff4c" stroke="#c2ff4c" stroke-width="0.5"/>
<polygon points="245.6,55.9 247.7,57.9 249.5,57.3 247.3,55.3" fill="#ceff40" stroke="#ceff40" stroke-width="0.5"/>
<polygon points="243.8,56.4 246.0,58.5 247.7,57.9 245.6,55.9" fill="#daff34" stroke="#daff34" stroke-width="0.5"/>
<polygon points="242.1,56.9 244.2,59.2 246.0,58.5 243.8,56.4" fill="#e6ff28" stroke="#e6ff28" stroke-width="0.5"/>
<polygon points="253.0,56.1 255.2,57.9 256.9,57.1 254.8,55.4" fill="#a3ff6c" stroke="#a3ff6c" stroke-width="0.5"/>
<polygon points="251.3,56.7 253.4,58.6 255.2,57.9 253.0,56.1" fill="#adff61" stroke="#adff61" stroke-width="0.5"/>
<polygon points="249.5,57.3 251.7,59.3 253.4,58.6 251.3,56.7" fill="#b7ff57" stroke="#b7ff57" stroke-width="0.5"/>
<polygon points="247.7,57.9 249.9,60.0 251.7,59.3 249.5,57.3" fill="#c2ff4c" stroke="#c2ff4c" stroke-width="0.5"/>
<polygon points="246.0,58.5 248.1,60.7 249.9,60.0 247.7,57.9" fill="#ccff42" stroke="#ccff42" stroke-width="0.5"/>
<polygon points="244.2,59.2 246.4,61.4 248.1,60.7 246.0,58.5" fill="#d7ff38" stroke="#d7ff38" stroke-width="0.5"/>
<polygon points="255.2,57.9 257.3,59.7 259.1,58.9 256.9,57.1" fill="#9cff73" stroke="#9cff73" stroke-width="0.5"/>
<polygon points="253.4,58.6 255.6,60.5 257.3,59.7 255.2,57.9" fill="#a4ff6a" stroke="#a4ff6a" stroke-width="0.5"/>
<polygon points="251.7,59.3 253.8,61.2 255.6,60.5 253.4,58.6" fill="#adff61" stroke="#adff61" stroke-width="0.5"/>
<polygon points="249.9,60.0 252.0,62.0 253.8,61.2 251.7,59.3" fill="#b6ff58" stroke="#b6ff58" stroke-width="0.5"/>
<polygon points="248.1,60.7 250.3,62.8 252.0,62.0 249.9,60.0" fill="#bfff50" stroke="#bfff50" stroke-width="0.5"/>
<polygon points="246.4,61.4 248.5,63.6 250.3,62.8 248.1,60.7" fill="#c7ff47" stroke="#c7ff47" stroke-width="0.5"/>
<polygon points="257.3,59.7 259.5,61.5 261.2,60.6 259.1,58.9" fill="#94ff7a" stroke="#94ff7a" stroke-width="0.5"/>
<polygon points="255.6,60.5 257.7,62.3 259.5,61.5 257.3,59.7" fill="#9cff73" stroke="#9cff73" stroke-width="0.5"/>
<polygon points="253.8,61.2 255.9,63.2 257.7,62.3 255.6,60.5" fill="#a3ff6c" stroke="#a3ff6c" stroke-width="0.5"/>
<polygon points="252.0,62.0 254.2,64.1 255.9,63.2 253.8,61.2" fill="#aaff64" stroke="#aaff64" stroke-width="0.5"/>
<polygon points="250.3,62.8 252.4,65.0 254.2,64.1 252.0,62.0" fill="#b1ff5d" stroke="#b1ff5d" stroke-width="0.5"/>
<polygon points="248.5,63.6 250.7,65.9 252.4,65.0 250.3,62.8" fill="#b8ff56" stroke="#b8ff56" stroke-width="0.5"/>
<polygon points="259.5,61.5 261.6,63.3 263.4,62.3 261.2,60.6" fill="#8dff81" stroke="#8dff81" stroke-width="0.5"/>
<polygon points="257.7,62.3 259.9,64.2 261.6,63.3 259.5,61.5" fill="#93ff7c" stroke="#93ff7c" stroke-width="0.5"/>
<polygon points="255.9,63.2 258.1,65.2 259.9,64.2 257.7,62.3" fill="#98ff76" stroke="#98ff76" stroke-width="0.5"/>
<polygon points="254.2,64.1 256.3,66.2 258.1,65.2 255.9,63.2" fill="#9eff70" stroke="#9eff70" stroke-width="0.5"/>
<polygon points="252.4,65.0 254.6,67.1 256.3,66.2 254.2,64.1" fill="#a4ff6b" stroke="#a4ff6b" stroke-width="0.5"/>
<polygon points="250.7,65.9 252.8,68.1 254.6,67.1 252.4,65.0" fill="#a9ff65" stroke="#a9ff65" stroke-width="0.5"/>
<polygon points="167.6,44.6 169.8,47.3 171.6,45.7 169.4,42.7" fill="#6affa5" stroke="#6affa5" stroke-width="0.5"/>
<polygon points="165.9,46.5 168.0,48.9 169.8,47.3 167.6,44.6" fill="#60ffae" stroke="#60ffae" stroke-width="0.5"/>
<polygon points="164.1,48.5 166.2,50.6 168.0,48.9 165.9,46.5" fill="#57ffb8" stroke="#57ffb8" stroke-width="0.5"/>
<polygon points="162.3,50.4 164.5,52.2 166.2,50.6 164.1,48.5" fill="#4dffc1" stroke="#4dffc1" stroke-width="0.5"/>
<polygon points="160.6,52.3 162.7,53.8 164.5,52.2 162.3,50.4" fill="#44ffca" stroke="#44ffca" stroke-width="0.5"/>
<polygon points="158.8,54.2 161.0,55.5 162.7,53.8 160.6,52.3" fill="#3affd4" stroke="#3affd4" stroke-width="0.5"/>
<polygon points="169.8,47.3 171.9,50.0 173.7,48.6 171.6,45.7" fill="#3bffd3" stroke="#3bffd3" stroke-width="0.5"/>
<polygon points="168.0,48.9 170.2,51.3 171.9,50.0 169.8,47.3" fill="#39ffd6" stroke="#39ffd6" stroke-width="0.5"/>
<polygon points="166.2,50.6 168.4,52.7 170.2,51.3 168.0,48.9" fill="#36ffd8" stroke="#36ffd8" stroke-width="0.5"/>
<polygon points="164.5,52.2 166.6,54.0 168.4,52.7 166.2,50.6" fill="#33ffdb" stroke="#33ffdb" stroke-width="0.5"/>
<polygon points="162.7,53.8 164.9,55.4 166.6,54.0 164.5,52.2" fill="#30ffde" stroke="#30ffde" stroke-width="0.5"/>
<polygon points="161.0,55.5 163.1,56.7 164.9,55.4 162.7,53.8" fill="#2dffe1" stroke="#2dffe1" stroke-width="0.5"/>
<polygon points="171.9,50.0 174.1,52.7 175.9,51.6 173.7,48.6" fill="#0ffdff" stroke="#0ffdff" stroke-width="0.5"/>
<polygon points="170.2,51.3 172.3,53.7 174.1,52.7 171.9,50.0" fill="#11fffd" stroke="#11fffd" stroke-width="0.5"/>
<polygon points="168.4,52.7 170.6,54.8 172.3,53.7 170.2,51.3" fill="#15fff9" stroke="#15fff9" stroke-width="0.5"/>
<polygon points="166.6,54.0 168.8,55.9 170.6,54.8 168.4,52.7" fill="#19fff5" stroke="#19fff5" stroke-width="0.5"/>
<polygon points="164.9,55.4 167.0,56.9 168.8,55.9 166.6,54.0" fill="#1dfff2" stroke="#1dfff2" stroke-width="0.5"/>
<polygon points="163.1,56.7 165.2,58.0 167.0,56.9 164.9,55.4" fill="#21ffee" stroke="#21ffee" stroke-width="0.5"/>
<polygon points="174.1,52.7 176.2,55.3 178.0,54.6 175.9,51.6" fill="#0fcfff" stroke="#0fcfff" stroke-width="0.5"/>
<polygon points="172.3,53.7 174.5,56.1 176.2,55.3 174.1,52.7" fill="#0fd9ff" stroke="#0fd9ff" stroke-width="0.5"/>
<polygon points="170.6,54.8 172.7,56.9 174.5,56.1 172.3,53.7" fill="#0fe4ff" stroke="#0fe4ff" stroke-width="0.5"/>
<polygon points="168.8,55.9 170.9,57.7 172.7,56.9 170.6,54.8" fill="#0feeff" stroke="#0feeff" stroke-width="0.5"/>
<polygon points="167.0,56.9 169.2,58.5 170.9,57.7 168.8,55.9" fill="#0ff9ff" stroke="#0ff9ff" stroke-width="0.5"/>
<polygon points="165.2,58.0 167.4,59.3 169.2,58.5 167.0,56.9" fill="#14fffb" stroke="#14fffb" stroke-width="0.5"/>
<polygon points="176.2,55.3 178.4,58.0 180.2,57.5 178.0,54.6" fill="#0fa1ff" stroke="#0fa1ff" stroke-width="0.5"/>
<polygon points="174.5,56.1 176.6,58.5 178.4,58.0 176.2,55.3" fill="#0fb2ff" stroke="#0fb2ff" stroke-width="0.5"/>
<polygon points="172.7,56.9 174.9,59.0 176.6,58.5 174.5,56.1" fill="#0fc3ff" stroke="#0fc3ff" stroke-width="0.5"/>
<polygon points="170.9,57.7 173.1,59.5 174.9,59.0 172.7,56.9" fill="#0fd4ff" stroke="#0fd4ff" stroke-width="0.5"/>
<polygon points="169.2,58.5 171.3,60.0 173.1,59.5 170.9,57.7" fill="#0fe5ff" stroke="#0fe5ff" stroke-width="0.5"/>
<polygon points="167.4,59.3 169.6,60.5 171.3,60.0 169.2,58.5" fill="#0ff6ff" stroke="#0ff6ff" stroke-width="0.5"/>
<polygon points="178.4,58.0 180.5,60.7 182.3,60.5 180.2,57.5" fill="#0f72ff" stroke="#0f72ff" stroke-width="0.5"/>
<polygon points="176.6,58.5 178.8,60.9 180.5,60.7 178.4,58.0" fill="#0f8aff" stroke="#0f8aff" stroke-width="0.5"/>
<polygon points="174.9,59.0 177.0,61.1 178.8,60.9 176.6,58.5" fill="#0fa2ff" stroke="#0fa2ff" stroke-width="0.5"/>
<polygon points="173.1,59.5 175.2,61.4 177.0,61.1 174.9,59.0" fill="#0fbaff" stroke="#0fbaff" stroke-width="0.5"/>
<polygon points="171.3,60.0 173.5,61.6 175.2,61.4 173.1,59.5" fill="#0fd2ff" stroke="#0fd2ff" stroke-width="0.5"/>
<polygon points="169.6,60.5 171.7,61.8 173.5,61.6 171.3,60.0" fill="#0fe9ff" stroke="#0fe9ff" stroke-width="0.5"/>
<polygon points="191.1,40.8 193.3,43.1 195.1,39.0 192.9,36.9" fill="#bdff51" stroke="#bdff51" stroke-width="0.5"/>
<polygon points="189.4,44.8 191.5,47.3 193.3,43.1 191.1,40.8" fill="#7aff94" stroke="#7aff94" stroke-width="0.5"/>
<polygon points="187.6,48.7 189.8,51.5 191.5,47.3 189.4,44.8" fill="#38ffd7" stroke="#38ffd7" stroke-width="0.5"/>
<polygon points="185.8,52.6 188.0,55.6 189.8,51.5 187.6,48.7" fill="#0fe5ff" stroke="#0fe5ff" stroke-width="0.5"/>
<polygon points="184.1,56.6 186.2,59.8 188.0,55.6 185.8,52.6" fill="#0fa2ff" stroke="#0fa2ff" stroke-width="0.5"/>
<polygon points="182.3,60.5 184.5,64.0 186.2,59.8 184.1,56.6" fill="#0f60ff" stroke="#0f60ff" stroke-width="0.5"/>
<polygon points="193.3,43.1 195.4,45.4 197.2,41.0 195.1,39.0" fill="#bcff52" stroke="#bcff52" stroke-width="0.5"/>
<polygon points="191.5,47.3 193.7,49.8 195.4,45.4 193.3,43.1" fill="#74ff9a" stroke="#74ff9a" stroke-width="0.5"/>
<polygon points="189.8,51.5 191.9,54.2 193.7,49.8 191.5,47.3" fill="#2cffe2" stroke="#2cffe2" stroke-width="0.5"/>
<polygon points="188.0,55.6 190.1,58.6 191.9,54.2 189.8,51.5" fill="#0fd4ff" stroke="#0fd4ff" stroke-width="0.5"/>
<polygon points="186.2,59.8 188.4,63.0 190.1,58.6 188.0,55.6" fill="#0f8cff" stroke="#0f8cff" stroke-width="0.5"/>
<polygon points="184.5,64.0 186.6,67.4 188.4,63.0 186.2,59.8" fill="#0f44ff" stroke="#0f44ff" stroke-width="0.5"/>
<polygon points="195.4,45.4 197.6,47.7 199.4,43.0 197.2,41.0" fill="#bbff53" stroke="#bbff53" stroke-width="0.5"/>
<polygon points="193.7,49.8 195.8,52.3 197.6,47.7 195.4,45.4" fill="#6effa1" stroke="#6effa1" stroke-width="0.5"/>
<polygon points="191.9,54.2 194.1,57.0 195.8,52.3 193.7,49.8" fill="#20ffee" stroke="#20ffee" stroke-width="0.5"/>
<polygon points="190.1,58.6 192.3,61.6 194.1,57.0 191.9,54.2" fill="#0fc3ff" stroke="#0fc3ff" stroke-width="0.5"/>
<polygon points="188.4,63.0 190.5,66.2 192.3,61.6 190.1,58.6" fill="#0f76ff" stroke="#0f76ff" stroke-width="0.5"/>
<polygon points="186.6,67.4 188.8,70.8 190.5,66.2 188.4,63.0" fill="#0f28ff" stroke="#0f28ff" stroke-width="0.5"/>
<polygon points="197.6,47.7 199.7,50.0 201.5,45.1 199.4,43.0" fill="#baff55" stroke="#baff55" stroke-width="0.5"/>
<polygon points="195.8,52.3 198.0,54.8 199.7,50.0 197.6,47.7" fill="#67ffa7" stroke="#67ffa7" stroke-width="0.5"/>
<polygon points="194.1,57.0 196.2,59.7 198.0,54.8 195.8,52.3" fill="#15fffa" stroke="#15fffa" stroke-width="0.5"/>
<polygon points="192.3,61.6 194.4,64.6 196.2,59.7 194.1,57.0" fill="#0fb2ff" stroke="#0fb2ff" stroke-width="0.5"/>
<polygon points="190.5,66.2 192.7,69.4 194.4,64.6 192.3,61.6" fill="#0f5fff" stroke="#0f5fff" stroke-width="0.5"/>
<polygon points="188.8,70.8 190.9,74.3 192.7,69.4 190.5,66.2" fill="#0f0ffc" stroke="#0f0ffc" stroke-width="0.5"/>
<polygon points="199.7,50.0 201.9,52.2 203.7,47.2 201.5,45.1" fill="#b9ff56" stroke="#b9ff56" stroke-width="0.5"/>
<polygon points="198.0,54.8 200.1,57.4 201.9,52.2 199.7,50.0" fill="#61ffae" stroke="#61ffae" stroke-width="0.5"/>
<polygon points="196.2,59.7 198.4,62.5 200.1,57.4 198.0,54.8" fill="#0ff9ff" stroke="#0ff9ff" stroke-width="0.5"/>
<polygon points="194.4,64.6 196.6,67.6 198.4,62.5 196.2,59.7" fill="#0fa1ff" stroke="#0fa1ff" stroke-width="0.5"/>
<polygon points="192.7,69.4 194.8,72.7 196.6,67.6 194.4,64.6" fill="#0f49ff" stroke="#0f49ff" stroke-width="0.5"/>
<polygon points="190.9,74.3 193.1,77.8 194.8,72.7 192.7,69.4" fill="#0f0fe1" stroke="#0f0fe1" stroke-width="0.5"/>
<polygon points="201.9,52.2 204.0,54.5 205.8,49.2 203.7,47.2" fill="#b8ff57" stroke="#b8ff57" stroke-width="0.5"/>
<polygon points="200.1,57.4 202.3,59.9 204.0,54.5 201.9,52.2" fill="#5affb4" stroke="#5affb4" stroke-width="0.5"/>
<polygon points="198.4,62.5 200.5,65.2 202.3,59.9 200.1,57.4" fill="#0fedff" stroke="#0fedff" stroke-width="0.5"/>
<polygon points="196.6,67.6 198.7,70.5 200.5,65.2 198.4,62.5" fill="#0f90ff" stroke="#0f90ff" stroke-width="0.5"/>
<polygon points="194.8,72.7 197.0,75.9 198.7,70.5 196.6,67.6" fill="#0f32ff" stroke="#0f32ff" stroke-width="0.5"/>
<polygon points="193.1,77.8 195.2,81.2 197.0,75.9 194.8,72.7" fill="#0f0fc5" stroke="#0f0fc5" stroke-width="0.5"/>
<polygon points="214.6,48.2 216.8,50.6 218.6,50.3 216.4,48.0" fill="#67ffa7" stroke="#67ffa7" stroke-width="0.5"/>
<polygon points="212.9,48.4 215.0,50.9 216.8,50.6 214.6,48.2" fill="#7fff8f" stroke="#7fff8f" stroke-width="0.5"/>
<polygon points="211.1,48.6 213.3,51.2 215.0,50.9 212.9,48.4" fill="#97ff78" stroke="#97ff78" stroke-width="0.5"/>
<polygon points="209.3,48.8 211.5,51.5 213.3,51.2 211.1,48.6" fill="#afff60" stroke="#afff60" stroke-width="0.5"/>
<polygon points="207.6,49.0 209.7,51.7 211.5,51.5 209.3,48.8" fill="#c6ff48" stroke="#c6ff48" stroke-width="0.5"/>
<polygon points="205.8,49.2 208.0,52.0 209.7,51.7 207.6,49.0" fill="#deff30" stroke="#deff30" stroke-width="0.5"/>
<polygon points="216.8,50.6 218.9,53.0 220.7,52.6 218.6,50.3" fill="#81ff8e" stroke="#81ff8e" stroke-width="0.5"/>
<polygon points="215.0,50.9 217.2,53.4 218.9,53.0 216.8,50.6" fill="#95ff79" stroke="#95ff79" stroke-width="0.5"/>
<polygon points="213.3,51.2 215.4,53.8 217.2,53.4 215.0,50.9" fill="#a9ff65" stroke="#a9ff65" stroke-width="0.5"/>
<polygon points="211.5,51.5 213.6,54.1 215.4,53.8 213.3,51.2" fill="#beff51" stroke="#beff51" stroke-width="0.5"/>
<polygon points="209.7,51.7 211.9,54.5 213.6,54.1 211.5,51.5" fill="#d2ff3c" stroke="#d2ff3c" stroke-width="0.5"/>
<polygon points="208.0,52.0 210.1,54.9 211.9,54.5 209.7,51.7" fill="#e6ff28" stroke="#e6ff28" stroke-width="0.5"/>
<polygon points="218.9,53.0 221.1,55.4 222.9,55.0 220.7,52.6" fill="#9aff74" stroke="#9aff74" stroke-width="0.5"/>
<polygon points="217.2,53.4 219.3,55.9 221.1,55.4 218.9,53.0" fill="#abff63" stroke="#abff63" stroke-width="0.5"/>
<polygon points="215.4,53.8 217.6,56.3 219.3,55.9 217.2,53.4" fill="#bcff52" stroke="#bcff52" stroke-width="0.5"/>
<polygon points="213.6,54.1 215.8,56.8 217.6,56.3 215.4,53.8" fill="#cdff42" stroke="#cdff42" stroke-width="0.5"/>
<polygon points="211.9,54.5 214.0,57.2 215.8,56.8 213.6,54.1" fill="#deff31" stroke="#deff31" stroke-width="0.5"/>
<polygon points="210.1,54.9 212.2,57.7 214.0,57.2 211.9,54.5" fill="#efff20" stroke="#efff20" stroke-width="0.5"/>
<polygon points="221.1,55.4 223.2,57.8 225.0,57.3 222.9,55.0" fill="#b3ff5b" stroke="#b3ff5b" stroke-width="0.5"/>
<polygon points="219.3,55.9 221.5,58.4 223.2,57.8 221.1,55.4" fill="#c1ff4d" stroke="#c1ff4d" stroke-width="0.5"/>
<polygon points="217.6,56.3 219.7,58.9 221.5,58.4 219.3,55.9" fill="#ceff40" stroke="#ceff40" stroke-width="0.5"/>
<polygon points="215.8,56.8 217.9,59.4 219.7,58.9 217.6,56.3" fill="#dcff33" stroke="#dcff33" stroke-width="0.5"/>
<polygon points="214.0,57.2 216.2,60.0 217.9,59.4 215.8,56.8" fill="#e9ff25" stroke="#e9ff25" stroke-width="0.5"/>
<polygon points="212.2,57.7 214.4,60.5 216.2,60.0 214.0,57.2" fill="#f7ff18" stroke="#f7ff18" stroke-width="0.5"/>
<polygon points="223.2,57.8 225.4,60.2 227.2,59.6 225.0,57.3" fill="#cdff41" stroke="#cdff41" stroke-width="0.5"/>
<polygon points="221.5,58.4 223.6,60.8 225.4,60.2 223.2,57.8" fill="#d7ff37" stroke="#d7ff37" stroke-width="0.5"/>
<polygon points="219.7,58.9 221.9,61.5 223.6,60.8 221.5,58.4" fill="#e1ff2d" stroke="#e1ff2d" stroke-width="0.5"/>
<polygon points="217.9,59.4 220.1,62.1 221.9,61.5 219.7,58.9" fill="#ebff23" stroke="#ebff23" stroke-width="0.5"/>
<polygon points="216.2,60.0 218.3,62.7 220.1,62.1 217.9,59.4" fill="#f5ff19" stroke="#f5ff19" stroke-width="0.5"/>
<polygon points="214.4,60.5 216.6,63.4 218.3,62.7 216.2,60.0" fill="#ffff0f" stroke="#ffff0f" stroke-width="0.5"/>
<polygon points="225.4,60.2 227.5,62.6 229.3,61.9 227.2,59.6" fill="#e6ff28" stroke="#e6ff28" stroke-width="0.5"/>
<polygon points="223.6,60.8 225.8,63.3 227.5,62.6 225.4,60.2" fill="#edff21" stroke="#edff21" stroke-width="0.5"/>
<polygon points="221.9,61.5 224.0,64.0 225.8,63.3 223.6,60.8" fill="#f3ff1b" stroke="#f3ff1b" stroke-width="0.5"/>
<polygon points="220.1,62.1 222.2,64.8 224.0,64.0 221.9,61.5" fill="#faff14" stroke="#faff14" stroke-width="0.5"/>
<polygon points="218.3,62.7 220.5,65.5 222.2,64.8 220.1,62.1" fill="#fffe0f" stroke="#fffe0f" stroke-width="0.5"/>
<polygon points="216.6,63.4 218.7,66.2 220.5,65.5 218.3,62.7" fill="#fff70f" stroke="#fff70f" stroke-width="0.5"/>
<polygon points="238.1,55.9 240.3,58.0 242.1,56.9 239.9,54.7" fill="#faff14" stroke="#faff14" stroke-width="0.5"/>
<polygon points="236.4,57.1 238.5,59.1 240.3,58.0 238.1,55.9" fill="#f7ff17" stroke="#f7ff17" stroke-width="0.5"/>
<polygon points="234.6,58.3 236.8,60.2 238.5,59.1 236.4,57.1" fill="#f4ff1a" stroke="#f4ff1a" stroke-width="0.5"/>
<polygon points="232.8,59.5 235.0,61.3 236.8,60.2 234.6,58.3" fill="#f1ff1d" stroke="#f1ff1d" stroke-width="0.5"/>
<polygon points="231.1,60.7 233.2,62.4 235.0,61.3 232.8,59.5" fill="#eeff20" stroke="#eeff20" stroke-width="0.5"/>
<polygon points="229.3,61.9 231.4,63.5 233.2,62.4 231.1,60.7" fill="#ebff23" stroke="#ebff23" stroke-width="0.5"/>
<polygon points="240.3,58.0 242.4,60.2 244.2,59.2 242.1,56.9" fill="#eaff24" stroke="#eaff24" stroke-width="0.5"/>
<polygon points="238.5,59.1 240.7,61.1 242.4,60.2 240.3,58.0" fill="#e8ff27" stroke="#e8ff27" stroke-width="0.5"/>
<polygon points="236.8,60.2 238.9,62.1 240.7,61.1 238.5,59.1" fill="#e5ff29" stroke="#e5ff29" stroke-width="0.5"/>
<polygon points="235.0,61.3 237.1,63.1 238.9,62.1 236.8,60.2" fill="#e2ff2c" stroke="#e2ff2c" stroke-width="0.5"/>
<polygon points="233.2,62.4 235.4,64.1 237.1,63.1 235.0,61.3" fill="#dfff2f" stroke="#dfff2f" stroke-width="0.5"/>
<polygon points="231.4,63.5 233.6,65.1 235.4,64.1 233.2,62.4" fill="#dcff32" stroke="#dcff32" stroke-width="0.5"/>
<polygon points="242.4,60.2 244.6,62.3 246.4,61.4 244.2,59.2" fill="#dbff34" stroke="#dbff34" stroke-width="0.5"/>
<polygon points="240.7,61.1 242.8,63.2 244.6,62.3 242.4,60.2" fill="#d8ff36" stroke="#d8ff36" stroke-width="0.5"/>
<polygon points="238.9,62.1 241.1,64.1 242.8,63.2 240.7,61.1" fill="#d6ff39" stroke="#d6ff39" stroke-width="0.5"/>
<polygon points="237.1,63.1 239.3,64.9 241.1,64.1 238.9,62.1" fill="#d3ff3b" stroke="#d3ff3b" stroke-width="0.5"/>
<polygon points="235.4,64.1 237.5,65.8 239.3,64.9 237.1,63.1" fill="#d0ff3e" stroke="#d0ff3e" stroke-width="0.5"/>
<polygon points="233.6,65.1 235.8,66.7 237.5,65.8 235.4,64.1" fill="#ceff40" stroke="#ceff40" stroke-width="0.5"/>
<polygon points="244.6,62.3 246.7,64.4 248.5,63.6 246.4,61.4" fill="#cbff44" stroke="#cbff44" stroke-width="0.5"/>
<polygon points="242.8,63.2 245.0,65.2 246.7,64.4 244.6,62.3" fill="#c8ff46" stroke="#c8ff46" stroke-width="0.5"/>
<polygon points="241.1,64.1 243.2,66.0 245.0,65.2 242.8,63.2" fill="#c6ff48" stroke="#c6ff48" stroke-width="0.5"/>
<polygon points="239.3,64.9 241.4,66.7 243.2,66.0 241.1,64.1" fill="#c4ff4a" stroke="#c4ff4a" stroke-width="0.5"/>
<polygon points="237.5,65.8 239.7,67.5 241.4,66.7 239.3,64.9" fill="#c2ff4d" stroke="#c2ff4d" stroke-width="0.5"/>
<polygon points="235.8,66.7 237.9,68.3 239.7,67.5 237.5,65.8" fill="#bfff4f" stroke="#bfff4f" stroke-width="0.5"/>
<polygon points="246.7,64.4 248.9,66.5 250.7,65.9 248.5,63.6" fill="#bbff53" stroke="#bbff53" stroke-width="0.5"/>
<polygon points="245.0,65.2 247.1,67.2 248.9,66.5 246.7,64.4" fill="#b9ff55" stroke="#b9ff55" stroke-width="0.5"/>
<polygon points="243.2,66.0 245.4,67.9 247.1,67.2 245.0,65.2" fill="#b7ff57" stroke="#b7ff57" stroke-width="0.5"/>
<polygon points="241.4,66.7 243.6,68.6 245.4,67.9 243.2,66.0" fill="#b5ff59" stroke="#b5ff59" stroke-width="0.5"/>
<polygon points="239.7,67.5 241.8,69.2 243.6,68.6 241.4,66.7" fill="#b3ff5b" stroke="#b3ff5b" stroke-width="0.5"/>
<polygon points="237.9,68.3 240.1,69.9 241.8,69.2 239.7,67.5" fill="#b1ff5d" stroke="#b1ff5d" stroke-width="0.5"/>
<polygon points="248.9,66.5 251.0,68.7 252.8,68.1 250.7,65.9" fill="#abff63" stroke="#abff63" stroke-width="0.5"/>
<polygon points="247.1,67.2 249.3,69.2 251.0,68.7 248.9,66.5" fill="#a9ff65" stroke="#a9ff65" stroke-width="0.5"/>
<polygon points="245.4,67.9 247.5,69.8 249.3,69.2 247.1,67.2" fill="#a8ff67" stroke="#a8ff67" stroke-width="0.5"/>
<polygon points="243.6,68.6 245.7,70.4 247.5,69.8 245.4,67.9" fill="#a6ff68" stroke="#a6ff68" stroke-width="0.5"/>
<polygon points="241.8,69.2 244.0,70.9 245.7,70.4 243.6,68.6" fill="#a4ff6a" stroke="#a4ff6a" stroke-width="0.5"/>
<polygon points="240.1,69.9 242.2,71.5 244.0,70.9 241.8,69.2" fill="#a2ff6c" stroke="#a2ff6c" stroke-width="0.5"/>
<polygon points="180.5,60.7 182.7,64.3 184.5,64.0 182.3,60.5" fill="#0f4bff" stroke="#0f4bff" stroke-width="0.5"/>
<polygon points="178.8,60.9 180.9,64.7 182.7,64.3 180.5,60.7" fill="#0f64ff" stroke="#0f64ff" stroke-width="0.5"/>
<polygon points="177.0,61.1 179.2,65.1 180.9,64.7 178.8,60.9" fill="#0f7dff" stroke="#0f7dff" stroke-width="0.5"/>
<polygon points="175.2,61.4 177.4,65.5 179.2,65.1 177.0,61.1" fill="#0f96ff" stroke="#0f96ff" stroke-width="0.5"/>
<polygon points="173.5,61.6 175.6,65.9 177.4,65.5 175.2,61.4" fill="#0fafff" stroke="#0fafff" stroke-width="0.5"/>
<polygon points="171.7,61.8 173.9,66.2 175.6,65.9 173.5,61.6" fill="#0fc7ff" stroke="#0fc7ff" stroke-width="0.5"/>
<polygon points="182.7,64.3 184.8,67.9 186.6,67.4 184.5,64.0" fill="#0f2aff" stroke="#0f2aff" stroke-width="0.5"/>
<polygon points="180.9,64.7 183.1,68.5 184.8,67.9 182.7,64.3" fill="#0f3fff" stroke="#0f3fff" stroke-width="0.5"/>
<polygon points="179.2,65.1 181.3,69.0 183.1,68.5 180.9,64.7" fill="#0f53ff" stroke="#0f53ff" stroke-width="0.5"/>
<polygon points="177.4,65.5 179.5,69.6 181.3,69.0 179.2,65.1" fill="#0f67ff" stroke="#0f67ff" stroke-width="0.5"/>
<polygon points="175.6,65.9 177.8,70.1 179.5,69.6 177.4,65.5" fill="#0f7cff" stroke="#0f7cff" stroke-width="0.5"/>
<polygon points="173.9,66.2 176.0,70.7 177.8,70.1 175.6,65.9" fill="#0f90ff" stroke="#0f90ff" stroke-width="0.5"/>
<polygon points="184.8,67.9 187.0,71.6 188.8,70.8 186.6,67.4" fill="#0f0ff9" stroke="#0f0ff9" stroke-width="0.5"/>
<polygon points="183.1,68.5 185.2,72.3 187.0,71.6 184.8,67.9" fill="#0f19ff" stroke="#0f19ff" stroke-width="0.5"/>
<polygon points="181.3,69.0 183.5,73.0 185.2,72.3 183.1,68.5" fill="#0f29ff" stroke="#0f29ff" stroke-width="0.5"/>
<polygon points="179.5,69.6 181.7,73.7 183.5,73.0 181.3,69.0" fill="#0f39ff" stroke="#0f39ff" stroke-width="0.5"/>
<polygon points="177.8,70.1 179.9,74.4 181.7,73.7 179.5,69.6" fill="#0f49ff" stroke="#0f49ff" stroke-width="0.5"/>
<polygon points="176.0,70.7 178.2,75.1 179.9,74.4 177.8,70.1" fill="#0f59ff" stroke="#0f59ff" stroke-width="0.5"/>
<polygon points="187.0,71.6 189.1,75.2 190.9,74.3 188.8,70.8" fill="#0f0fd9" stroke="#0f0fd9" stroke-width="0.5"/>
<polygon points="185.2,72.3 187.4,76.0 189.1,75.2 187.0,71.6" fill="#0f0fe4" stroke="#0f0fe4" stroke-width="0.5"/>
<polygon points="183.5,73.0 185.6,76.9 187.4,76.0 185.2,72.3" fill="#0f0fef" stroke="#0f0fef" stroke-width="0.5"/>
<polygon points="181.7,73.7 183.8,77.8 185.6,76.9 183.5,73.0" fill="#0f0ffb" stroke="#0f0ffb" stroke-width="0.5"/>
<polygon points="179.9,74.4 182.1,78.7 183.8,77.8 181.7,73.7" fill="#0f16ff" stroke="#0f16ff" stroke-width="0.5"/>
<polygon points="178.2,75.1 180.3,79.5 182.1,78.7 179.9,74.4" fill="#0f22ff" stroke="#0f22ff" stroke-width="0.5"/>
<polygon points="189.1,75.2 191.3,78.8 193.1,77.8 190.9,74.3" fill="#0f0fb8" stroke="#0f0fb8" stroke-width="0.5"/>
<polygon points="187.4,76.0 189.5,79.8 191.3,78.8 189.1,75.2" fill="#0f0fbf" stroke="#0f0fbf" stroke-width="0.5"/>
<polygon points="185.6,76.9 187.8,80.9 189.5,79.8 187.4,76.0" fill="#0f0fc6" stroke="#0f0fc6" stroke-width="0.5"/>
<polygon points="183.8,77.8 186.0,81.9 187.8,80.9 185.6,76.9" fill="#0f0fcc" stroke="#0f0fcc" stroke-width="0.5"/>
<polygon points="182.1,78.7 184.2,82.9 186.0,81.9 183.8,77.8" fill="#0f0fd3" stroke="#0f0fd3" stroke-width="0.5"/>
<polygon points="180.3,79.5 182.5,84.0 184.2,82.9 182.1,78.7" fill="#0f0fda" stroke="#0f0fda" stroke-width="0.5"/>
<polygon points="191.3,78.8 193.4,82.4 195.2,81.2 193.1,77.8" fill="#0f0f97" stroke="#0f0f97" stroke-width="0.5"/>
<polygon points="189.5,79.8 191.7,83.6 193.4,82.4 191.3,78.8" fill="#0f0f9a" stroke="#0f0f9a" stroke-width="0.5"/>
<polygon points="187.8,80.9 189.9,84.8 191.7,83.6 189.5,79.8" fill="#0f0f9c" stroke="#0f0f9c" stroke-width="0.5"/>
<polygon points="186.0,81.9 188.1,86.0 189.9,84.8 187.8,80.9" fill="#0f0f9e" stroke="#0f0f9e" stroke-width="0.5"/>
<polygon points="184.2,82.9 186.4,87.2 188.1,86.0 186.0,81.9" fill="#0f0fa1" stroke="#0f0fa1" stroke-width="0.5"/>
<polygon points="182.5,84.0 184.6,88.4 186.4,87.2 184.2,82.9" fill="#0f0fa3" stroke="#0f0fa3" stroke-width="0.5"/>
<polygon points="204.0,54.5 206.2,57.0 208.0,52.0 205.8,49.2" fill="#baff54" stroke="#baff54" stroke-width="0.5"/>
<polygon points="202.3,59.9 204.4,61.9 206.2,57.0 204.0,54.5" fill="#5affb4" stroke="#5affb4" stroke-width="0.5"/>
<polygon points="200.5,65.2 202.7,66.9 204.4,61.9 202.3,59.9" fill="#0feaff" stroke="#0feaff" stroke-width="0.5"/>
<polygon points="198.7,70.5 200.9,71.9 202.7,66.9 200.5,65.2" fill="#0f8aff" stroke="#0f8aff" stroke-width="0.5"/>
<polygon points="197.0,75.9 199.1,76.8 200.9,71.9 198.7,70.5" fill="#0f2aff" stroke="#0f2aff" stroke-width="0.5"/>
<polygon points="195.2,81.2 197.4,81.8 199.1,76.8 197.0,75.9" fill="#0f0fba" stroke="#0f0fba" stroke-width="0.5"/>
<polygon points="206.2,57.0 208.3,59.4 210.1,54.9 208.0,52.0" fill="#c1ff4e" stroke="#c1ff4e" stroke-width="0.5"/>
<polygon points="204.4,61.9 206.6,64.0 208.3,59.4 206.2,57.0" fill="#61ffae" stroke="#61ffae" stroke-width="0.5"/>
<polygon points="202.7,66.9 204.8,68.6 206.6,64.0 204.4,61.9" fill="#0ff1ff" stroke="#0ff1ff" stroke-width="0.5"/>
<polygon points="200.9,71.9 203.0,73.2 204.8,68.6 202.7,66.9" fill="#0f91ff" stroke="#0f91ff" stroke-width="0.5"/>
<polygon points="199.1,76.8 201.3,77.8 203.0,73.2 200.9,71.9" fill="#0f31ff" stroke="#0f31ff" stroke-width="0.5"/>
<polygon points="197.4,81.8 199.5,82.3 201.3,77.8 199.1,76.8" fill="#0f0fc1" stroke="#0f0fc1" stroke-width="0.5"/>
<polygon points="208.3,59.4 210.5,61.9 212.2,57.7 210.1,54.9" fill="#c7ff47" stroke="#c7ff47" stroke-width="0.5"/>
<polygon points="206.6,64.0 208.7,66.1 210.5,61.9 208.3,59.4" fill="#67ffa7" stroke="#67ffa7" stroke-width="0.5"/>
<polygon points="204.8,68.6 206.9,70.3 208.7,66.1 206.6,64.0" fill="#0ff7ff" stroke="#0ff7ff" stroke-width="0.5"/>
<polygon points="203.0,73.2 205.2,74.5 206.9,70.3 204.8,68.6" fill="#0f97ff" stroke="#0f97ff" stroke-width="0.5"/>
<polygon points="201.3,77.8 203.4,78.7 205.2,74.5 203.0,73.2" fill="#0f37ff" stroke="#0f37ff" stroke-width="0.5"/>
<polygon points="199.5,82.3 201.7,82.9 203.4,78.7 201.3,77.8" fill="#0f0fc7" stroke="#0f0fc7" stroke-width="0.5"/>
<polygon points="210.5,61.9 212.6,64.4 214.4,60.5 212.2,57.7" fill="#cdff41" stroke="#cdff41" stroke-width="0.5"/>
<polygon points="208.7,66.1 210.9,68.2 212.6,64.4 210.5,61.9" fill="#6effa1" stroke="#6effa1" stroke-width="0.5"/>
<polygon points="206.9,70.3 209.1,72.0 210.9,68.2 208.7,66.1" fill="#0ffdff" stroke="#0ffdff" stroke-width="0.5"/>
<polygon points="205.2,74.5 207.3,75.8 209.1,72.0 206.9,70.3" fill="#0f9eff" stroke="#0f9eff" stroke-width="0.5"/>
<polygon points="203.4,78.7 205.6,79.6 207.3,75.8 205.2,74.5" fill="#0f3eff" stroke="#0f3eff" stroke-width="0.5"/>
<polygon points="201.7,82.9 203.8,83.5 205.6,79.6 203.4,78.7" fill="#0f0fcd" stroke="#0f0fcd" stroke-width="0.5"/>
<polygon points="212.6,64.4 214.8,66.8 216.6,63.4 214.4,60.5" fill="#d4ff3a" stroke="#d4ff3a" stroke-width="0.5"/>
<polygon points="210.9,68.2 213.0,70.3 214.8,66.8 212.6,64.4" fill="#74ff9a" stroke="#74ff9a" stroke-width="0.5"/>
<polygon points="209.1,72.0 211.2,73.7 213.0,70.3 210.9,68.2" fill="#14fffa" stroke="#14fffa" stroke-width="0.5"/>
<polygon points="207.3,75.8 209.5,77.1 211.2,73.7 209.1,72.0" fill="#0fa4ff" stroke="#0fa4ff" stroke-width="0.5"/>
<polygon points="205.6,79.6 207.7,80.6 209.5,77.1 207.3,75.8" fill="#0f44ff" stroke="#0f44ff" stroke-width="0.5"/>
<polygon points="203.8,83.5 205.9,84.0 207.7,80.6 205.6,79.6" fill="#0f0fd4" stroke="#0f0fd4" stroke-width="0.5"/>
<polygon points="214.8,66.8 216.9,69.3 218.7,66.2 216.6,63.4" fill="#daff34" stroke="#daff34" stroke-width="0.5"/>
<polygon points="213.0,70.3 215.2,72.3 216.9,69.3 214.8,66.8" fill="#7aff94" stroke="#7aff94" stroke-width="0.5"/>
<polygon points="211.2,73.7 213.4,75.4 215.2,72.3 213.0,70.3" fill="#1afff4" stroke="#1afff4" stroke-width="0.5"/>
<polygon points="209.5,77.1 211.6,78.5 213.4,75.4 211.2,73.7" fill="#0faaff" stroke="#0faaff" stroke-width="0.5"/>
<polygon points="207.7,80.6 209.9,81.5 211.6,78.5 209.5,77.1" fill="#0f4aff" stroke="#0f4aff" stroke-width="0.5"/>
<polygon points="205.9,84.0 208.1,84.6 209.9,81.5 207.7,80.6" fill="#0f0fda" stroke="#0f0fda" stroke-width="0.5"/>
<polygon points="227.5,62.6 229.7,64.3 231.4,63.5 229.3,61.9" fill="#ebff24" stroke="#ebff24" stroke-width="0.5"/>
<polygon points="225.8,63.3 227.9,65.1 229.7,64.3 227.5,62.6" fill="#edff21" stroke="#edff21" stroke-width="0.5"/>
<polygon points="224.0,64.0 226.2,65.9 227.9,65.1 225.8,63.3" fill="#efff1f" stroke="#efff1f" stroke-width="0.5"/>
<polygon points="222.2,64.8 224.4,66.7 226.2,65.9 224.0,64.0" fill="#f1ff1d" stroke="#f1ff1d" stroke-width="0.5"/>
<polygon points="220.5,65.5 222.6,67.5 224.4,66.7 222.2,64.8" fill="#f4ff1b" stroke="#f4ff1b" stroke-width="0.5"/>
<polygon points="218.7,66.2 220.8,68.2 222.6,67.5 220.5,65.5" fill="#f6ff18" stroke="#f6ff18" stroke-width="0.5"/>
<polygon points="229.7,64.3 231.8,66.0 233.6,65.1 231.4,63.5" fill="#daff35" stroke="#daff35" stroke-width="0.5"/>
<polygon points="227.9,65.1 230.1,66.8 231.8,66.0 229.7,64.3" fill="#d7ff37" stroke="#d7ff37" stroke-width="0.5"/>
<polygon points="226.2,65.9 228.3,67.7 230.1,66.8 227.9,65.1" fill="#d4ff3a" stroke="#d4ff3a" stroke-width="0.5"/>
<polygon points="224.4,66.7 226.5,68.6 228.3,67.7 226.2,65.9" fill="#d1ff3d" stroke="#d1ff3d" stroke-width="0.5"/>
<polygon points="222.6,67.5 224.8,69.4 226.5,68.6 224.4,66.7" fill="#ceff40" stroke="#ceff40" stroke-width="0.5"/>
<polygon points="220.8,68.2 223.0,70.3 224.8,69.4 222.6,67.5" fill="#ccff43" stroke="#ccff43" stroke-width="0.5"/>
<polygon points="231.8,66.0 234.0,67.6 235.8,66.7 233.6,65.1" fill="#c9ff46" stroke="#c9ff46" stroke-width="0.5"/>
<polygon points="230.1,66.8 232.2,68.6 234.0,67.6 231.8,66.0" fill="#c1ff4d" stroke="#c1ff4d" stroke-width="0.5"/>
<polygon points="228.3,67.7 230.4,69.5 232.2,68.6 230.1,66.8" fill="#b9ff55" stroke="#b9ff55" stroke-width="0.5"/>
<polygon points="226.5,68.6 228.7,70.5 230.4,69.5 228.3,67.7" fill="#b1ff5d" stroke="#b1ff5d" stroke-width="0.5"/>
<polygon points="224.8,69.4 226.9,71.4 228.7,70.5 226.5,68.6" fill="#a9ff65" stroke="#a9ff65" stroke-width="0.5"/>
<polygon points="223.0,70.3 225.1,72.3 226.9,71.4 224.8,69.4" fill="#a1ff6d" stroke="#a1ff6d" stroke-width="0.5"/>
<polygon points="234.0,67.6 236.1,69.3 237.9,68.3 235.8,66.7" fill="#b8ff56" stroke="#b8ff56" stroke-width="0.5"/>
<polygon points="232.2,68.6 234.4,70.3 236.1,69.3 234.0,67.6" fill="#abff63" stroke="#abff63" stroke-width="0.5"/>
<polygon points="230.4,69.5 232.6,71.4 234.4,70.3 232.2,68.6" fill="#9eff70" stroke="#9eff70" stroke-width="0.5"/>
<polygon points="228.7,70.5 230.8,72.4 232.6,71.4 230.4,69.5" fill="#91ff7d" stroke="#91ff7d" stroke-width="0.5"/>
<polygon points="226.9,71.4 229.1,73.4 230.8,72.4 228.7,70.5" fill="#84ff8a" stroke="#84ff8a" stroke-width="0.5"/>
<polygon points="225.1,72.3 227.3,74.4 229.1,73.4 226.9,71.4" fill="#77ff97" stroke="#77ff97" stroke-width="0.5"/>
<polygon points="236.1,69.3 238.3,71.0 240.1,69.9 237.9,68.3" fill="#a7ff67" stroke="#a7ff67" stroke-width="0.5"/>
<polygon points="234.4,70.3 236.5,72.1 238.3,71.0 236.1,69.3" fill="#95ff79" stroke="#95ff79" stroke-width="0.5"/>
<polygon points="232.6,71.4 234.8,73.2 236.5,72.1 234.4,70.3" fill="#83ff8b" stroke="#83ff8b" stroke-width="0.5"/>
<polygon points="230.8,72.4 233.0,74.3 234.8,73.2 232.6,71.4" fill="#71ff9d" stroke="#71ff9d" stroke-width="0.5"/>
<polygon points="229.1,73.4 231.2,75.4 233.0,74.3 230.8,72.4" fill="#5fffaf" stroke="#5fffaf" stroke-width="0.5"/>
<polygon points="227.3,74.4 229.4,76.5 231.2,75.4 229.1,73.4" fill="#4dffc1" stroke="#4dffc1" stroke-width="0.5"/>
<polygon points="238.3,71.0 240.4,72.7 242.2,71.5 240.1,69.9" fill="#96ff78" stroke="#96ff78" stroke-width="0.5"/>
<polygon points="236.5,72.1 238.7,73.8 240.4,72.7 238.3,71.0" fill="#7fff8f" stroke="#7fff8f" stroke-width="0.5"/>
<polygon points="234.8,73.2 236.9,75.0 238.7,73.8 236.5,72.1" fill="#68ffa6" stroke="#68ffa6" stroke-width="0.5"/>
<polygon points="233.0,74.3 235.1,76.2 236.9,75.0 234.8,73.2" fill="#51ffbd" stroke="#51ffbd" stroke-width="0.5"/>
<polygon points="231.2,75.4 233.4,77.3 235.1,76.2 233.0,74.3" fill="#3affd4" stroke="#3affd4" stroke-width="0.5"/>
<polygon points="229.4,76.5 231.6,78.5 233.4,77.3 231.2,75.4" fill="#23ffeb" stroke="#23ffeb" stroke-width="0.5"/>
<polygon points="193.4,82.4 195.6,82.9 197.4,81.8 195.2,81.2" fill="#0f0f8c" stroke="#0f0f8c" stroke-width="0.5"/>
<polygon points="191.7,83.6 193.8,84.0 195.6,82.9 193.4,82.4" fill="#0f0f91" stroke="#0f0f91" stroke-width="0.5"/>
<polygon points="189.9,84.8 192.1,85.1 193.8,84.0 191.7,83.6" fill="#0f0f95" stroke="#0f0f95" stroke-width="0.5"/>
<polygon points="188.1,86.0 190.3,86.3 192.1,85.1 189.9,84.8" fill="#0f0f99" stroke="#0f0f99" stroke-width="0.5"/>
<polygon points="186.4,87.2 188.5,87.4 190.3,86.3 188.1,86.0" fill="#0f0f9e" stroke="#0f0f9e" stroke-width="0.5"/>
<polygon points="184.6,88.4 186.8,88.5 188.5,87.4 186.4,87.2" fill="#0f0fa2" stroke="#0f0fa2" stroke-width="0.5"/>
<polygon points="195.6,82.9 197.7,83.4 199.5,82.3 197.4,81.8" fill="#0f0f97" stroke="#0f0f97" stroke-width="0.5"/>
<polygon points="193.8,84.0 196.0,84.4 197.7,83.4 195.6,82.9" fill="#0f0fa4" stroke="#0f0fa4" stroke-width="0.5"/>
<polygon points="192.1,85.1 194.2,85.5 196.0,84.4 193.8,84.0" fill="#0f0fb1" stroke="#0f0fb1" stroke-width="0.5"/>
<polygon points="190.3,86.3 192.4,86.6 194.2,85.5 192.1,85.1" fill="#0f0fbd" stroke="#0f0fbd" stroke-width="0.5"/>
<polygon points="188.5,87.4 190.7,87.6 192.4,86.6 190.3,86.3" fill="#0f0fca" stroke="#0f0fca" stroke-width="0.5"/>
<polygon points="186.8,88.5 188.9,88.7 190.7,87.6 188.5,87.4" fill="#0f0fd7" stroke="#0f0fd7" stroke-width="0.5"/>
<polygon points="197.7,83.4 199.9,83.9 201.7,82.9 199.5,82.3" fill="#0f0fa2" stroke="#0f0fa2" stroke-width="0.5"/>
<polygon points="196.0,84.4 198.1,84.9 199.9,83.9 197.7,83.4" fill="#0f0fb7" stroke="#0f0fb7" stroke-width="0.5"/>
<polygon points="194.2,85.5 196.4,85.8 198.1,84.9 196.0,84.4" fill="#0f0fcc" stroke="#0f0fcc" stroke-width="0.5"/>
<polygon points="192.4,86.6 194.6,86.8 196.4,85.8 194.2,85.5" fill="#0f0fe2" stroke="#0f0fe2" stroke-width="0.5"/>
<polygon points="190.7,87.6 192.8,87.8 194.6,86.8 192.4,86.6" fill="#0f0ff7" stroke="#0f0ff7" stroke-width="0.5"/>
<polygon points="188.9,88.7 191.1,88.8 192.8,87.8 190.7,87.6" fill="#0f1dff" stroke="#0f1dff" stroke-width="0.5"/>
<polygon points="199.9,83.9 202.0,84.4 203.8,83.5 201.7,82.9" fill="#0f0fac" stroke="#0f0fac" stroke-width="0.5"/>
<polygon points="198.1,84.9 200.3,85.3 202.0,84.4 199.9,83.9" fill="#0f0fca" stroke="#0f0fca" stroke-width="0.5"/>
<polygon points="196.4,85.8 198.5,86.2 200.3,85.3 198.1,84.9" fill="#0f0fe8" stroke="#0f0fe8" stroke-width="0.5"/>
<polygon points="194.6,86.8 196.7,87.1 198.5,86.2 196.4,85.8" fill="#0f16ff" stroke="#0f16ff" stroke-width="0.5"/>
<polygon points="192.8,87.8 195.0,88.0 196.7,87.1 194.6,86.8" fill="#0f34ff" stroke="#0f34ff" stroke-width="0.5"/>
<polygon points="191.1,88.8 193.2,88.9 195.0,88.0 192.8,87.8" fill="#0f52ff" stroke="#0f52ff" stroke-width="0.5"/>
<polygon points="202.0,84.4 204.2,84.9 205.9,84.0 203.8,83.5" fill="#0f0fb7" stroke="#0f0fb7" stroke-width="0.5"/>
<polygon points="200.3,85.3 202.4,85.7 204.2,84.9 202.0,84.4" fill="#0f0fdd" stroke="#0f0fdd" stroke-width="0.5"/>
<polygon points="198.5,86.2 200.6,86.6 202.4,85.7 200.3,85.3" fill="#0f14ff" stroke="#0f14ff" stroke-width="0.5"/>
<polygon points="196.7,87.1 198.9,87.4 200.6,86.6 198.5,86.2" fill="#0f3aff" stroke="#0f3aff" stroke-width="0.5"/>
<polygon points="195.0,88.0 197.1,88.2 198.9,87.4 196.7,87.1" fill="#0f61ff" stroke="#0f61ff" stroke-width="0.5"/>
<polygon points="193.2,88.9 195.3,89.1 197.1,88.2 195.0,88.0" fill="#0f87ff" stroke="#0f87ff" stroke-width="0.5"/>
<polygon points="204.2,84.9 206.3,85.4 208.1,84.6 205.9,84.0" fill="#0f0fc2" stroke="#0f0fc2" stroke-width="0.5"/>
<polygon points="202.4,85.7 204.6,86.1 206.3,85.4 204.2,84.9" fill="#0f0ff1" stroke="#0f0ff1" stroke-width="0.5"/>
<polygon points="200.6,86.6 202.8,86.9 204.6,86.1 202.4,85.7" fill="#0f30ff" stroke="#0f30ff" stroke-width="0.5"/>
<polygon points="198.9,87.4 201.0,87.7 202.8,86.9 200.6,86.6" fill="#0f5fff" stroke="#0f5fff" stroke-width="0.5"/>
<polygon points="197.1,88.2 199.3,88.4 201.0,87.7 198.9,87.4" fill="#0f8eff" stroke="#0f8eff" stroke-width="0.5"/>
<polygon points="195.3,89.1 197.5,89.2 199.3,88.4 197.1,88.2" fill="#0fbcff" stroke="#0fbcff" stroke-width="0.5"/>
<polygon points="216.9,69.3 219.1,71.3 220.8,68.2 218.7,66.2" fill="#c9ff45" stroke="#c9ff45" stroke-width="0.5"/>
<polygon points="215.2,72.3 217.3,74.4 219.1,71.3 216.9,69.3" fill="#6dffa2" stroke="#6dffa2" stroke-width="0.5"/>
<polygon points="213.4,75.4 215.6,77.4 217.3,74.4 215.2,72.3" fill="#11fffe" stroke="#11fffe" stroke-width="0.5"/>
<polygon points="211.6,78.5 213.8,80.5 215.6,77.4 213.4,75.4" fill="#0fa4ff" stroke="#0fa4ff" stroke-width="0.5"/>
<polygon points="209.9,81.5 212.0,83.5 213.8,80.5 211.6,78.5" fill="#0f48ff" stroke="#0f48ff" stroke-width="0.5"/>
<polygon points="208.1,84.6 210.2,86.6 212.0,83.5 209.9,81.5" fill="#0f0fdc" stroke="#0f0fdc" stroke-width="0.5"/>
<polygon points="219.1,71.3 221.2,73.3 223.0,70.3 220.8,68.2" fill="#a0ff6e" stroke="#a0ff6e" stroke-width="0.5"/>
<polygon points="217.3,74.4 219.5,76.4 221.2,73.3 219.1,71.3" fill="#4bffc3" stroke="#4bffc3" stroke-width="0.5"/>
<polygon points="215.6,77.4 217.7,79.4 219.5,76.4 217.3,74.4" fill="#0fe6ff" stroke="#0fe6ff" stroke-width="0.5"/>
<polygon points="213.8,80.5 215.9,82.5 217.7,79.4 215.6,77.4" fill="#0f92ff" stroke="#0f92ff" stroke-width="0.5"/>
<polygon points="212.0,83.5 214.2,85.5 215.9,82.5 213.8,80.5" fill="#0f3dff" stroke="#0f3dff" stroke-width="0.5"/>
<polygon points="210.2,86.6 212.4,88.6 214.2,85.5 212.0,83.5" fill="#0f0fd8" stroke="#0f0fd8" stroke-width="0.5"/>
<polygon points="221.2,73.3 223.4,75.4 225.1,72.3 223.0,70.3" fill="#77ff97" stroke="#77ff97" stroke-width="0.5"/>
<polygon points="219.5,76.4 221.6,78.4 223.4,75.4 221.2,73.3" fill="#2affe5" stroke="#2affe5" stroke-width="0.5"/>
<polygon points="217.7,79.4 219.8,81.5 221.6,78.4 219.5,76.4" fill="#0fccff" stroke="#0fccff" stroke-width="0.5"/>
<polygon points="215.9,82.5 218.1,84.5 219.8,81.5 217.7,79.4" fill="#0f7fff" stroke="#0f7fff" stroke-width="0.5"/>
<polygon points="214.2,85.5 216.3,87.5 218.1,84.5 215.9,82.5" fill="#0f32ff" stroke="#0f32ff" stroke-width="0.5"/>
<polygon points="212.4,88.6 214.6,90.5 216.3,87.5 214.2,85.5" fill="#0f0fd4" stroke="#0f0fd4" stroke-width="0.5"/>
<polygon points="223.4,75.4 225.5,77.4 227.3,74.4 225.1,72.3" fill="#4effc0" stroke="#4effc0" stroke-width="0.5"/>
<polygon points="221.6,78.4 223.8,80.4 225.5,77.4 223.4,75.4" fill="#0ff8ff" stroke="#0ff8ff" stroke-width="0.5"/>
<polygon points="219.8,81.5 222.0,83.5 223.8,80.4 221.6,78.4" fill="#0fb2ff" stroke="#0fb2ff" stroke-width="0.5"/>
<polygon points="218.1,84.5 220.2,86.5 222.0,83.5 219.8,81.5" fill="#0f6cff" stroke="#0f6cff" stroke-width="0.5"/>
<polygon points="216.3,87.5 218.5,89.5 220.2,86.5 218.1,84.5" fill="#0f26ff" stroke="#0f26ff" stroke-width="0.5"/>
<polygon points="214.6,90.5 216.7,92.5 218.5,89.5 216.3,87.5" fill="#0f0fd0" stroke="#0f0fd0" stroke-width="0.5"/>
<polygon points="225.5,77.4 227.7,79.5 229.4,76.5 227.3,74.4" fill="#25ffe9" stroke="#25ffe9" stroke-width="0.5"/>
<polygon points="223.8,80.4 225.9,82.5 227.7,79.5 225.5,77.4" fill="#0fd6ff" stroke="#0fd6ff" stroke-width="0.5"/>
<polygon points="222.0,83.5 224.2,85.5 225.9,82.5 223.8,80.4" fill="#0f98ff" stroke="#0f98ff" stroke-width="0.5"/>
<polygon points="220.2,86.5 222.4,88.5 224.2,85.5 222.0,83.5" fill="#0f5aff" stroke="#0f5aff" stroke-width="0.5"/>
<polygon points="218.5,89.5 220.6,91.5 222.4,88.5 220.2,86.5" fill="#0f1bff" stroke="#0f1bff" stroke-width="0.5"/>
<polygon points="216.7,92.5 218.9,94.5 220.6,91.5 218.5,89.5" fill="#0f0fcd" stroke="#0f0fcd" stroke-width="0.5"/>
<polygon points="227.7,79.5 229.8,81.5 231.6,78.5 229.4,76.5" fill="#0fecff" stroke="#0fecff" stroke-width="0.5"/>
<polygon points="225.9,82.5 228.1,84.5 229.8,81.5 227.7,79.5" fill="#0fb5ff" stroke="#0fb5ff" stroke-width="0.5"/>
<polygon points="224.2,85.5 226.3,87.5 228.1,84.5 225.9,82.5" fill="#0f7eff" stroke="#0f7eff" stroke-width="0.5"/>
<polygon points="222.4,88.5 224.5,90.5 226.3,87.5 224.2,85.5" fill="#0f47ff" stroke="#0f47ff" stroke-width="0.5"/>
<polygon points="220.6,91.5 222.8,93.5 224.5,90.5 222.4,88.5" fill="#0f10ff" stroke="#0f10ff" stroke-width="0.5"/>
<polygon points="218.9,94.5 221.0,96.5 222.8,93.5 220.6,91.5" fill="#0f0fc9" stroke="#0f0fc9" stroke-width="0.5"/>
<polygon points="206.3,85.4 208.5,87.1 210.2,86.6 208.1,84.6" fill="#0f0fc5" stroke="#0f0fc5" stroke-width="0.5"/>
<polygon points="204.6,86.1 206.7,87.5 208.5,87.1 206.3,85.4" fill="#0f0ff5" stroke="#0f0ff5" stroke-width="0.5"/>
<polygon points="202.8,86.9 204.9,88.0 206.7,87.5 204.6,86.1" fill="#0f35ff" stroke="#0f35ff" stroke-width="0.5"/>
<polygon points="201.0,87.7 203.2,88.5 204.9,88.0 202.8,86.9" fill="#0f65ff" stroke="#0f65ff" stroke-width="0.5"/>
<polygon points="199.3,88.4 201.4,88.9 203.2,88.5 201.0,87.7" fill="#0f94ff" stroke="#0f94ff" stroke-width="0.5"/>
<polygon points="197.5,89.2 199.7,89.4 201.4,88.9 199.3,88.4" fill="#0fc4ff" stroke="#0fc4ff" stroke-width="0.5"/>
<polygon points="208.5,87.1 210.6,88.7 212.4,88.6 210.2,86.6" fill="#0f0fc2" stroke="#0f0fc2" stroke-width="0.5"/>
<polygon points="206.7,87.5 208.9,88.9 210.6,88.7 208.5,87.1" fill="#0f0feb" stroke="#0f0feb" stroke-width="0.5"/>
<polygon points="204.9,88.0 207.1,89.1 208.9,88.9 206.7,87.5" fill="#0f24ff" stroke="#0f24ff" stroke-width="0.5"/>
<polygon points="203.2,88.5 205.3,89.3 207.1,89.1 204.9,88.0" fill="#0f4cff" stroke="#0f4cff" stroke-width="0.5"/>
<polygon points="201.4,88.9 203.6,89.5 205.3,89.3 203.2,88.5" fill="#0f75ff" stroke="#0f75ff" stroke-width="0.5"/>
<polygon points="199.7,89.4 201.8,89.6 203.6,89.5 201.4,88.9" fill="#0f9eff" stroke="#0f9eff" stroke-width="0.5"/>
<polygon points="210.6,88.7 212.8,90.4 214.6,90.5 212.4,88.6" fill="#0f0fbe" stroke="#0f0fbe" stroke-width="0.5"/>
<polygon points="208.9,88.9 211.0,90.3 212.8,90.4 210.6,88.7" fill="#0f0fe0" stroke="#0f0fe0" stroke-width="0.5"/>
<polygon points="207.1,89.1 209.2,90.2 211.0,90.3 208.9,88.9" fill="#0f12ff" stroke="#0f12ff" stroke-width="0.5"/>
<polygon points="205.3,89.3 207.5,90.1 209.2,90.2 207.1,89.1" fill="#0f34ff" stroke="#0f34ff" stroke-width="0.5"/>
<polygon points="203.6,89.5 205.7,90.0 207.5,90.1 205.3,89.3" fill="#0f56ff" stroke="#0f56ff" stroke-width="0.5"/>
<polygon points="201.8,89.6 203.9,89.8 205.7,90.0 203.6,89.5" fill="#0f78ff" stroke="#0f78ff" stroke-width="0.5"/>
<polygon points="212.8,90.4 214.9,92.1 216.7,92.5 214.6,90.5" fill="#0f0fbb" stroke="#0f0fbb" stroke-width="0.5"/>
<polygon points="211.0,90.3 213.2,91.7 214.9,92.1 212.8,90.4" fill="#0f0fd6" stroke="#0f0fd6" stroke-width="0.5"/>
<polygon points="209.2,90.2 211.4,91.3 213.2,91.7 211.0,90.3" fill="#0f0ff1" stroke="#0f0ff1" stroke-width="0.5"/>
<polygon points="207.5,90.1 209.6,90.9 211.4,91.3 209.2,90.2" fill="#0f1cff" stroke="#0f1cff" stroke-width="0.5"/>
<polygon points="205.7,90.0 207.9,90.5 209.6,90.9 207.5,90.1" fill="#0f37ff" stroke="#0f37ff" stroke-width="0.5"/>
<polygon points="203.9,89.8 206.1,90.1 207.9,90.5 205.7,90.0" fill="#0f52ff" stroke="#0f52ff" stroke-width="0.5"/>
<polygon points="214.9,92.1 217.1,93.8 218.9,94.5 216.7,92.5" fill="#0f0fb7" stroke="#0f0fb7" stroke-width="0.5"/>
<polygon points="213.2,91.7 215.3,93.1 217.1,93.8 214.9,92.1" fill="#0f0fcb" stroke="#0f0fcb" stroke-width="0.5"/>
<polygon points="211.4,91.3 213.6,92.4 215.3,93.1 213.2,91.7" fill="#0f0fdf" stroke="#0f0fdf" stroke-width="0.5"/>
<polygon points="209.6,90.9 211.8,91.7 213.6,92.4 211.4,91.3" fill="#0f0ff3" stroke="#0f0ff3" stroke-width="0.5"/>
<polygon points="207.9,90.5 210.0,91.0 211.8,91.7 209.6,90.9" fill="#0f18ff" stroke="#0f18ff" stroke-width="0.5"/>
<polygon points="206.1,90.1 208.2,90.3 210.0,91.0 207.9,90.5" fill="#0f2cff" stroke="#0f2cff" stroke-width="0.5"/>
<polygon points="217.1,93.8 219.2,95.5 221.0,96.5 218.9,94.5" fill="#0f0fb4" stroke="#0f0fb4" stroke-width="0.5"/>
<polygon points="215.3,93.1 217.5,94.5 219.2,95.5 217.1,93.8" fill="#0f0fc1" stroke="#0f0fc1" stroke-width="0.5"/>
<polygon points="213.6,92.4 215.7,93.5 217.5,94.5 215.3,93.1" fill="#0f0fce" stroke="#0f0fce" stroke-width="0.5"/>
<polygon points="211.8,91.7 213.9,92.5 215.7,93.5 213.6,92.4" fill="#0f0fdb" stroke="#0f0fdb" stroke-width="0.5"/>
<polygon points="210.0,91.0 212.2,91.5 213.9,92.5 211.8,91.7" fill="#0f0fe8" stroke="#0f0fe8" stroke-width="0.5"/>
<polygon points="208.2,90.3 210.4,90.5 212.2,91.5 210.0,91.0" fill="#0f0ff5" stroke="#0f0ff5" stroke-width="0.5"/>
</g></g>
<polyline points="158.8,54.2 169.4,42.7 180.0,34.6 190.6,22.6 201.2,16.6 211.8,10.4" fill="none" stroke="#ffffff" stroke-opacity="0.5" stroke-width="0.5"/>
<polyline points="171.7,61.8 182.3,60.5 192.9,36.9 203.5,30.5 214.1,27.2 224.7,14.3" fill="none" stroke="#ffffff" stroke-opacity="0.5" stroke-width="0.5"/>
<polyline points="184.6,88.4 195.2,81.2 205.8,49.2 216.4,48.0 227.0,36.9 237.6,35.0" fill="none" stroke="#ffffff" stroke-opacity="0.5" stroke-width="0.5"/>
<polyline points="197.5,89.2 208.1,84.6 218.7,66.2 229.3,61.9 239.9,54.7 250.5,52.0" fill="none" stroke="#ffffff" stroke-opacity="0.5" stroke-width="0.5"/>
<polyline points="210.4,90.5 221.0,96.5 231.6,78.5 242.2,71.5 252.8,68.1 263.4,62.3" fill="none" stroke="#ffffff" stroke-opacity="0.5" stroke-width="0.5"/>
<polyline points="158.8,54.2 171.7,61.8 184.6,88.4 197.5,89.2 210.4,90.5" fill="none" stroke="#ffffff" stroke-opacity="0.5" stroke-width="0.5"/>
<polyline points="169.4,42.7 182.3,60.5 195.2,81.2 208.1,84.6 221.0,96.5" fill="none" stroke="#ffffff" stroke-opacity="0.5" stroke-width="0.5"/>
<polyline points="180.0,34.6 192.9,36.9 205.8,49.2 218.7,66.2 231.6,78.5" fill="none" stroke="#ffffff" stroke-opacity="0.5" stroke-width="0.5"/>
<polyline points="190.6,22.6 203.5,30.5 216.4,48.0 229.3,61.9 242.2,71.5" fill="none" stroke="#ffffff" stroke-opacity="0.5" stroke-width="0.5"/>
<polyline points="201.2,16.6 214.1,27.2 227.0,36.9 239.9,54.7 252.8,68.1" fill="none" stroke="#ffffff" stroke-opacity="0.5" stroke-width="0.5"/>
<polyline points="211.8,10.4 224.7,14.3 237.6,35.0 250.5,52.0 263.4,62.3" fill="none" stroke="#ffffff" stroke-opacity="0.5" stroke-width="0.5"/>
<circle cx="158.8" cy="54.2" r="0.7" fill="#14301c" fill-opacity="0.9"/>
<circle cx="169.4" cy="42.7" r="0.7" fill="#14301c" fill-opacity="0.9"/>
<circle cx="180.0" cy="34.6" r="0.7" fill="#14301c" fill-opacity="0.9"/>
<circle cx="190.6" cy="22.6" r="0.7" fill="#14301c" fill-opacity="0.9"/>
<circle cx="201.2" cy="16.6" r="0.7" fill="#14301c" fill-opacity="0.9"/>
<circle cx="211.8" cy="10.4" r="0.7" fill="#14301c" fill-opacity="0.9"/>
<circle cx="171.7" cy="61.8" r="0.7" fill="#14301c" fill-opacity="0.9"/>
<circle cx="182.3" cy="60.5" r="0.7" fill="#14301c" fill-opacity="0.9"/>
<circle cx="192.9" cy="36.9" r="0.7" fill="#14301c" fill-opacity="0.9"/>
<circle cx="203.5" cy="30.5" r="0.7" fill="#14301c" fill-opacity="0.9"/>
<circle cx="214.1" cy="27.2" r="0.7" fill="#14301c" fill-opacity="0.9"/>
<circle cx="224.7" cy="14.3" r="0.7" fill="#14301c" fill-opacity="0.9"/>
<circle cx="184.6" cy="88.4" r="0.7" fill="#14301c" fill-opacity="0.9"/>
<circle cx="195.2" cy="81.2" r="0.7" fill="#14301c" fill-opacity="0.9"/>
<circle cx="205.8" cy="49.2" r="0.7" fill="#14301c" fill-opacity="0.9"/>
<circle cx="216.4" cy="48.0" r="0.7" fill="#14301c" fill-opacity="0.9"/>
<circle cx="227.0" cy="36.9" r="0.7" fill="#14301c" fill-opacity="0.9"/>
<circle cx="237.6" cy="35.0" r="0.7" fill="#14301c" fill-opacity="0.9"/>
<circle cx="197.5" cy="89.2" r="0.7" fill="#14301c" fill-opacity="0.9"/>
<circle cx="208.1" cy="84.6" r="0.7" fill="#14301c" fill-opacity="0.9"/>
<circle cx="218.7" cy="66.2" r="0.7" fill="#14301c" fill-opacity="0.9"/>
<circle cx="229.3" cy="61.9" r="0.7" fill="#14301c" fill-opacity="0.9"/>
<circle cx="239.9" cy="54.7" r="0.7" fill="#14301c" fill-opacity="0.9"/>
<circle cx="250.5" cy="52.0" r="0.7" fill="#14301c" fill-opacity="0.9"/>
<circle cx="210.4" cy="90.5" r="0.7" fill="#14301c" fill-opacity="0.9"/>
<circle cx="221.0" cy="96.5" r="0.7" fill="#14301c" fill-opacity="0.9"/>
<circle cx="231.6" cy="78.5" r="0.7" fill="#14301c" fill-opacity="0.9"/>
<circle cx="242.2" cy="71.5" r="0.7" fill="#14301c" fill-opacity="0.9"/>
<circle cx="252.8" cy="68.1" r="0.7" fill="#14301c" fill-opacity="0.9"/>
<circle cx="263.4" cy="62.3" r="0.7" fill="#14301c" fill-opacity="0.9"/>
<text x="155.50" y="39.32" font-size="5.6" font-weight="normal" font-style="normal" text-anchor="end" fill="#222" stroke="#222" stroke-width="0.18">100</text>
<text x="155.50" y="57.32" font-size="5.6" font-weight="normal" font-style="normal" text-anchor="end" fill="#222" stroke="#222" stroke-width="0.18">50</text>
<text x="155.50" y="75.82" font-size="5.6" font-weight="normal" font-style="normal" text-anchor="end" fill="#222" stroke="#222" stroke-width="0.18">0</text>
<text x="151.00" y="81.62" font-size="5.6" font-weight="normal" font-style="normal" text-anchor="middle" fill="#222" stroke="#222" stroke-width="0.18">0</text>
<text x="165.00" y="88.52" font-size="5.6" font-weight="normal" font-style="normal" text-anchor="middle" fill="#222" stroke="#222" stroke-width="0.18">1</text>
<text x="178.80" y="95.52" font-size="5.6" font-weight="normal" font-style="normal" text-anchor="middle" fill="#222" stroke="#222" stroke-width="0.18">2</text>
<text x="191.50" y="102.82" font-size="5.6" font-weight="normal" font-style="normal" text-anchor="middle" fill="#222" stroke="#222" stroke-width="0.18">5</text>
<text x="205.00" y="109.32" font-size="5.6" font-weight="normal" font-style="normal" text-anchor="middle" fill="#222" stroke="#222" stroke-width="0.18">10</text>
<text x="217.60" y="109.32" font-size="5.6" font-weight="normal" font-style="normal" text-anchor="middle" fill="#222" stroke="#222" stroke-width="0.18">200</text>
<text x="228.50" y="103.52" font-size="5.6" font-weight="normal" font-style="normal" text-anchor="middle" fill="#222" stroke="#222" stroke-width="0.18">175</text>
<text x="239.80" y="97.82" font-size="5.6" font-weight="normal" font-style="normal" text-anchor="middle" fill="#222" stroke="#222" stroke-width="0.18">150</text>
<text x="249.70" y="92.02" font-size="5.6" font-weight="normal" font-style="normal" text-anchor="middle" fill="#222" stroke="#222" stroke-width="0.18">125</text>
<text x="260.80" y="87.02" font-size="5.6" font-weight="normal" font-style="normal" text-anchor="middle" fill="#222" stroke="#222" stroke-width="0.18">100</text>
<text x="267.70" y="81.62" font-size="5.6" font-weight="normal" font-style="normal" text-anchor="middle" fill="#222" stroke="#222" stroke-width="0.18">0</text>
<text x="140.60" y="50.77" font-size="6.3" font-weight="normal" font-style="normal" text-anchor="middle" fill="#222" transform="rotate(-90 140.60 48.50)" stroke="#222" stroke-width="0.18">% Control</text>
<text x="160.80" y="112.88" font-size="6.05" font-weight="bold" font-style="normal" text-anchor="start" fill="#222">5-FU (µmol/L)</text>
<text x="232.20" y="112.88" font-size="6.05" font-weight="bold" font-style="normal" text-anchor="start" fill="#222">Devimistat (µmol/L)</text>
<rect x="275.40" y="7.60" width="8.20" height="94.40" fill="url(#jetbar)" stroke="#444" stroke-width="0.4"/>
<text x="288.70" y="32.25" font-size="5.7" font-weight="bold" font-style="normal" text-anchor="middle" fill="#222" transform="rotate(-90 288.70 30.20)">Synergy</text>
<text x="288.70" y="76.65" font-size="5.7" font-weight="bold" font-style="normal" text-anchor="middle" fill="#222" transform="rotate(-90 288.70 74.60)">Antagonism</text>
<text x="319.6" y="10.6" font-size="14" font-weight="bold">B</text>
<rect x="369.25" y="91.00" width="9.75" height="3.70" fill="#7f7f7f" stroke="#000" stroke-width="1.05"/>
<rect x="369.25" y="94.70" width="9.75" height="2.30" fill="#d8d8d8" stroke="#000" stroke-width="1.05"/>
<line x1="374.12" y1="91.00" x2="374.12" y2="89.60" stroke="#000" stroke-width="1.05"/>
<line x1="371.93" y1="89.60" x2="376.32" y2="89.60" stroke="#000" stroke-width="1.05"/>
<line x1="374.12" y1="94.70" x2="374.12" y2="93.80" stroke="#000" stroke-width="1.05"/>
<line x1="371.93" y1="93.80" x2="376.32" y2="93.80" stroke="#000" stroke-width="1.05"/>
<rect x="386.00" y="84.50" width="9.75" height="8.00" fill="#7f7f7f" stroke="#000" stroke-width="1.05"/>
<rect x="386.00" y="92.50" width="9.75" height="4.50" fill="#d8d8d8" stroke="#000" stroke-width="1.05"/>
<line x1="390.88" y1="84.50" x2="390.88" y2="82.20" stroke="#000" stroke-width="1.05"/>
<line x1="388.68" y1="82.20" x2="393.07" y2="82.20" stroke="#000" stroke-width="1.05"/>
<line x1="390.88" y1="92.50" x2="390.88" y2="91.30" stroke="#000" stroke-width="1.05"/>
<line x1="388.68" y1="91.30" x2="393.07" y2="91.30" stroke="#000" stroke-width="1.05"/>
<rect x="403.00" y="65.50" width="9.75" height="14.50" fill="#7f7f7f" stroke="#000" stroke-width="1.05"/>
<rect x="403.00" y="80.00" width="9.75" height="17.00" fill="#d8d8d8" stroke="#000" stroke-width="1.05"/>
<line x1="407.88" y1="65.50" x2="407.88" y2="62.30" stroke="#000" stroke-width="1.05"/>
<line x1="405.68" y1="62.30" x2="410.07" y2="62.30" stroke="#000" stroke-width="1.05"/>
<line x1="407.88" y1="80.00" x2="407.88" y2="76.30" stroke="#000" stroke-width="1.05"/>
<line x1="405.68" y1="76.30" x2="410.07" y2="76.30" stroke="#000" stroke-width="1.05"/>
<rect x="419.75" y="40.00" width="9.75" height="28.00" fill="#7f7f7f" stroke="#000" stroke-width="1.05"/>
<rect x="419.75" y="68.00" width="9.75" height="29.00" fill="#d8d8d8" stroke="#000" stroke-width="1.05"/>
<line x1="424.62" y1="40.00" x2="424.62" y2="35.70" stroke="#000" stroke-width="1.05"/>
<line x1="422.43" y1="35.70" x2="426.82" y2="35.70" stroke="#000" stroke-width="1.05"/>
<line x1="424.62" y1="68.00" x2="424.62" y2="65.50" stroke="#000" stroke-width="1.05"/>
<line x1="422.43" y1="65.50" x2="426.82" y2="65.50" stroke="#000" stroke-width="1.05"/>
<rect x="436.75" y="73.75" width="9.75" height="12.50" fill="#7f7f7f" stroke="#000" stroke-width="1.05"/>
<rect x="436.75" y="86.25" width="9.75" height="10.75" fill="#d8d8d8" stroke="#000" stroke-width="1.05"/>
<line x1="441.62" y1="73.75" x2="441.62" y2="70.00" stroke="#000" stroke-width="1.05"/>
<line x1="439.43" y1="70.00" x2="443.82" y2="70.00" stroke="#000" stroke-width="1.05"/>
<line x1="441.62" y1="86.25" x2="441.62" y2="83.60" stroke="#000" stroke-width="1.05"/>
<line x1="439.43" y1="83.60" x2="443.82" y2="83.60" stroke="#000" stroke-width="1.05"/>
<rect x="453.50" y="18.25" width="9.75" height="37.50" fill="#7f7f7f" stroke="#000" stroke-width="1.05"/>
<rect x="453.50" y="55.75" width="9.75" height="41.25" fill="#d8d8d8" stroke="#000" stroke-width="1.05"/>
<line x1="458.38" y1="18.25" x2="458.38" y2="15.00" stroke="#000" stroke-width="1.05"/>
<line x1="456.18" y1="15.00" x2="460.57" y2="15.00" stroke="#000" stroke-width="1.05"/>
<line x1="458.38" y1="55.75" x2="458.38" y2="47.50" stroke="#000" stroke-width="1.05"/>
<line x1="456.18" y1="47.50" x2="460.57" y2="47.50" stroke="#000" stroke-width="1.05"/>
<line x1="366.05" y1="8.65" x2="366.05" y2="97.60" stroke="#000" stroke-width="1.4"/>
<line x1="365.45" y1="97.00" x2="467.80" y2="97.00" stroke="#000" stroke-width="1.4"/>
<line x1="363.05" y1="97.00" x2="366.25" y2="97.00" stroke="#000" stroke-width="1.3"/>
<text x="361.00" y="99.99" font-size="8.3" font-weight="bold" font-style="normal" text-anchor="end" fill="#000">0</text>
<line x1="363.05" y1="82.38" x2="366.25" y2="82.38" stroke="#000" stroke-width="1.3"/>
<text x="361.00" y="85.36" font-size="8.3" font-weight="bold" font-style="normal" text-anchor="end" fill="#000">10</text>
<line x1="363.05" y1="67.75" x2="366.25" y2="67.75" stroke="#000" stroke-width="1.3"/>
<text x="361.00" y="70.74" font-size="8.3" font-weight="bold" font-style="normal" text-anchor="end" fill="#000">20</text>
<line x1="363.05" y1="53.12" x2="366.25" y2="53.12" stroke="#000" stroke-width="1.3"/>
<text x="361.00" y="56.11" font-size="8.3" font-weight="bold" font-style="normal" text-anchor="end" fill="#000">30</text>
<line x1="363.05" y1="38.50" x2="366.25" y2="38.50" stroke="#000" stroke-width="1.3"/>
<text x="361.00" y="41.49" font-size="8.3" font-weight="bold" font-style="normal" text-anchor="end" fill="#000">40</text>
<line x1="363.05" y1="23.88" x2="366.25" y2="23.88" stroke="#000" stroke-width="1.3"/>
<text x="361.00" y="26.86" font-size="8.3" font-weight="bold" font-style="normal" text-anchor="end" fill="#000">50</text>
<line x1="363.05" y1="9.25" x2="366.25" y2="9.25" stroke="#000" stroke-width="1.3"/>
<text x="361.00" y="12.24" font-size="8.3" font-weight="bold" font-style="normal" text-anchor="end" fill="#000">60</text>
<text x="339.20" y="54.70" font-size="8.9" font-weight="bold" font-style="normal" text-anchor="middle" fill="#000" transform="rotate(-90 339.20 51.50)">Cell death (%)</text>
<text x="374.12" y="104.82" font-size="8.4" font-weight="bold" font-style="normal" text-anchor="middle" fill="#000" stroke="#000" stroke-width="0.3">–</text>
<text x="390.88" y="104.82" font-size="8.4" font-weight="bold" font-style="normal" text-anchor="middle" fill="#000" stroke="#000" stroke-width="0.3">+</text>
<text x="407.88" y="104.82" font-size="8.4" font-weight="bold" font-style="normal" text-anchor="middle" fill="#000" stroke="#000" stroke-width="0.3">–</text>
<text x="424.62" y="104.82" font-size="8.4" font-weight="bold" font-style="normal" text-anchor="middle" fill="#000" stroke="#000" stroke-width="0.3">+</text>
<text x="441.62" y="104.82" font-size="8.4" font-weight="bold" font-style="normal" text-anchor="middle" fill="#000" stroke="#000" stroke-width="0.3">–</text>
<text x="458.38" y="104.82" font-size="8.4" font-weight="bold" font-style="normal" text-anchor="middle" fill="#000" stroke="#000" stroke-width="0.3">+</text>
<text x="470.00" y="105.17" font-size="8.8" font-weight="bold" font-style="normal" text-anchor="start" fill="#000">DS</text>
<line x1="368.30" y1="108.40" x2="396.00" y2="108.40" stroke="#000" stroke-width="1.4"/>
<text x="384.20" y="119.37" font-size="8.8" font-weight="bold" font-style="normal" text-anchor="middle" fill="#000">Con</text>
<line x1="403.50" y1="108.40" x2="430.00" y2="108.40" stroke="#000" stroke-width="1.4"/>
<text x="418.60" y="119.37" font-size="8.8" font-weight="bold" font-style="normal" text-anchor="middle" fill="#000" letter-spacing="0.5">5-FU</text>
<line x1="436.00" y1="108.40" x2="462.80" y2="108.40" stroke="#000" stroke-width="1.4"/>
<text x="453.50" y="119.37" font-size="8.8" font-weight="bold" font-style="normal" text-anchor="middle" fill="#000">IT</text>
<text x="381.60" y="77.48" font-size="8" font-weight="normal" font-style="normal" text-anchor="middle" fill="#000" stroke="#000" stroke-width="0.25">ns</text>
<line x1="370.30" y1="79.90" x2="391.50" y2="79.90" stroke="#000" stroke-width="1.4"/>
<text x="400.80" y="61.22" font-size="9.5" font-weight="bold" font-style="normal" text-anchor="start" fill="#000" letter-spacing="0.6">***</text>
<text x="417.60" y="28.22" font-size="9.5" font-weight="bold" font-style="normal" text-anchor="start" fill="#000" letter-spacing="0.6">**</text>
<line x1="406.80" y1="29.80" x2="425.80" y2="29.80" stroke="#000" stroke-width="1.4"/>
<text x="441.30" y="67.72" font-size="9.5" font-weight="bold" font-style="normal" text-anchor="middle" fill="#000">*</text>
<text x="442.50" y="12.12" font-size="9.5" font-weight="bold" font-style="normal" text-anchor="start" fill="#000" letter-spacing="0.6">****</text>
<line x1="438.80" y1="11.90" x2="460.00" y2="11.90" stroke="#000" stroke-width="1.4"/>
<text x="0.4" y="136.1" font-size="14" font-weight="bold">C</text>
<line x1="60.40" y1="198.10" x2="60.40" y2="193.10" stroke="#111" stroke-width="1.3"/>
<line x1="58.20" y1="193.10" x2="62.60" y2="193.10" stroke="#111" stroke-width="1.3"/>
<rect x="57.40" y="198.10" width="6.00" height="36.90" fill="#a6a6a6" stroke="#111" stroke-width="1.1"/>
<line x1="60.40" y1="235.00" x2="60.40" y2="238.20" stroke="#000" stroke-width="1.2"/>
<text x="0" y="0" font-size="7.6" font-weight="bold" text-anchor="end" transform="translate(63.00 245.00) rotate(-45)">DS</text>
<line x1="71.70" y1="211.90" x2="71.70" y2="208.75" stroke="#111" stroke-width="1.3"/>
<line x1="69.50" y1="208.75" x2="73.90" y2="208.75" stroke="#111" stroke-width="1.3"/>
<rect x="68.70" y="211.90" width="6.00" height="23.10" fill="#a6a6a6" stroke="#111" stroke-width="1.1"/>
<line x1="71.70" y1="235.00" x2="71.70" y2="238.20" stroke="#000" stroke-width="1.2"/>
<text x="0" y="0" font-size="7.6" font-weight="bold" text-anchor="end" transform="translate(74.30 245.00) rotate(-45)">5FU</text>
<line x1="82.90" y1="211.60" x2="82.90" y2="209.75" stroke="#111" stroke-width="1.3"/>
<line x1="80.70" y1="209.75" x2="85.10" y2="209.75" stroke="#111" stroke-width="1.3"/>
<rect x="79.90" y="211.60" width="6.00" height="23.40" fill="#a6a6a6" stroke="#111" stroke-width="1.1"/>
<line x1="82.90" y1="235.00" x2="82.90" y2="238.20" stroke="#000" stroke-width="1.2"/>
<text x="0" y="0" font-size="7.6" font-weight="bold" text-anchor="end" transform="translate(85.50 245.00) rotate(-45)">5FU + DS</text>
<line x1="94.00" y1="205.40" x2="94.00" y2="203.50" stroke="#111" stroke-width="1.3"/>
<line x1="91.80" y1="203.50" x2="96.20" y2="203.50" stroke="#111" stroke-width="1.3"/>
<rect x="91.00" y="205.40" width="6.00" height="29.60" fill="#a6a6a6" stroke="#111" stroke-width="1.1"/>
<line x1="94.00" y1="235.00" x2="94.00" y2="238.20" stroke="#000" stroke-width="1.2"/>
<text x="0" y="0" font-size="7.6" font-weight="bold" text-anchor="end" transform="translate(96.60 245.00) rotate(-45)">IT</text>
<line x1="105.40" y1="206.50" x2="105.40" y2="202.75" stroke="#111" stroke-width="1.3"/>
<line x1="103.20" y1="202.75" x2="107.60" y2="202.75" stroke="#111" stroke-width="1.3"/>
<rect x="102.40" y="206.50" width="6.00" height="28.50" fill="#a6a6a6" stroke="#111" stroke-width="1.1"/>
<line x1="105.40" y1="235.00" x2="105.40" y2="238.20" stroke="#000" stroke-width="1.2"/>
<text x="0" y="0" font-size="7.6" font-weight="bold" text-anchor="end" transform="translate(108.00 245.00) rotate(-45)">IT + DS</text>
<line x1="123.80" y1="200.00" x2="123.80" y2="191.10" stroke="#111" stroke-width="1.3"/>
<line x1="121.60" y1="191.10" x2="126.00" y2="191.10" stroke="#111" stroke-width="1.3"/>
<rect x="120.80" y="200.00" width="6.00" height="35.00" fill="#7d7d7d" stroke="#111" stroke-width="1.1"/>
<line x1="123.80" y1="235.00" x2="123.80" y2="238.20" stroke="#000" stroke-width="1.2"/>
<text x="0" y="0" font-size="7.6" font-weight="bold" text-anchor="end" transform="translate(126.40 245.00) rotate(-45)">DS</text>
<line x1="135.10" y1="170.60" x2="135.10" y2="162.10" stroke="#111" stroke-width="1.3"/>
<line x1="132.90" y1="162.10" x2="137.30" y2="162.10" stroke="#111" stroke-width="1.3"/>
<rect x="132.10" y="170.60" width="6.00" height="64.40" fill="#7d7d7d" stroke="#111" stroke-width="1.1"/>
<line x1="135.10" y1="235.00" x2="135.10" y2="238.20" stroke="#000" stroke-width="1.2"/>
<text x="0" y="0" font-size="7.6" font-weight="bold" text-anchor="end" transform="translate(137.70 245.00) rotate(-45)">5FU</text>
<line x1="146.40" y1="200.40" x2="146.40" y2="192.20" stroke="#111" stroke-width="1.3"/>
<line x1="144.20" y1="192.20" x2="148.60" y2="192.20" stroke="#111" stroke-width="1.3"/>
<rect x="143.40" y="200.40" width="6.00" height="34.60" fill="#7d7d7d" stroke="#111" stroke-width="1.1"/>
<line x1="146.40" y1="235.00" x2="146.40" y2="238.20" stroke="#000" stroke-width="1.2"/>
<text x="0" y="0" font-size="7.6" font-weight="bold" text-anchor="end" transform="translate(149.00 245.00) rotate(-45)">5FU + DS</text>
<line x1="157.60" y1="199.30" x2="157.60" y2="197.30" stroke="#111" stroke-width="1.3"/>
<line x1="155.40" y1="197.30" x2="159.80" y2="197.30" stroke="#111" stroke-width="1.3"/>
<rect x="154.60" y="199.30" width="6.00" height="35.70" fill="#7d7d7d" stroke="#111" stroke-width="1.1"/>
<line x1="157.60" y1="235.00" x2="157.60" y2="238.20" stroke="#000" stroke-width="1.2"/>
<text x="0" y="0" font-size="7.6" font-weight="bold" text-anchor="end" transform="translate(160.20 245.00) rotate(-45)">IT</text>
<line x1="168.90" y1="210.20" x2="168.90" y2="200.70" stroke="#111" stroke-width="1.3"/>
<line x1="166.70" y1="200.70" x2="171.10" y2="200.70" stroke="#111" stroke-width="1.3"/>
<rect x="165.90" y="210.20" width="6.00" height="24.80" fill="#7d7d7d" stroke="#111" stroke-width="1.1"/>
<line x1="168.90" y1="235.00" x2="168.90" y2="238.20" stroke="#000" stroke-width="1.2"/>
<text x="0" y="0" font-size="7.6" font-weight="bold" text-anchor="end" transform="translate(171.50 245.00) rotate(-45)">IT + DS</text>
<line x1="187.60" y1="210.20" x2="187.60" y2="208.70" stroke="#111" stroke-width="1.3"/>
<line x1="185.40" y1="208.70" x2="189.80" y2="208.70" stroke="#111" stroke-width="1.3"/>
<rect x="184.60" y="210.20" width="6.00" height="24.80" fill="#2e2e2e" stroke="#111" stroke-width="1.1"/>
<line x1="187.60" y1="235.00" x2="187.60" y2="238.20" stroke="#000" stroke-width="1.2"/>
<text x="0" y="0" font-size="7.6" font-weight="bold" text-anchor="end" transform="translate(190.20 245.00) rotate(-45)">DS</text>
<line x1="198.90" y1="199.70" x2="198.90" y2="193.80" stroke="#111" stroke-width="1.3"/>
<line x1="196.70" y1="193.80" x2="201.10" y2="193.80" stroke="#111" stroke-width="1.3"/>
<rect x="195.90" y="199.70" width="6.00" height="35.30" fill="#2e2e2e" stroke="#111" stroke-width="1.1"/>
<line x1="198.90" y1="235.00" x2="198.90" y2="238.20" stroke="#000" stroke-width="1.2"/>
<text x="0" y="0" font-size="7.6" font-weight="bold" text-anchor="end" transform="translate(201.50 245.00) rotate(-45)">5FU</text>
<line x1="210.20" y1="209.00" x2="210.20" y2="201.20" stroke="#111" stroke-width="1.3"/>
<line x1="208.00" y1="201.20" x2="212.40" y2="201.20" stroke="#111" stroke-width="1.3"/>
<rect x="207.20" y="209.00" width="6.00" height="26.00" fill="#2e2e2e" stroke="#111" stroke-width="1.1"/>
<line x1="210.20" y1="235.00" x2="210.20" y2="238.20" stroke="#000" stroke-width="1.2"/>
<text x="0" y="0" font-size="7.6" font-weight="bold" text-anchor="end" transform="translate(212.80 245.00) rotate(-45)">5FU + DS</text>
<line x1="221.50" y1="188.30" x2="221.50" y2="180.60" stroke="#111" stroke-width="1.3"/>
<line x1="219.30" y1="180.60" x2="223.70" y2="180.60" stroke="#111" stroke-width="1.3"/>
<rect x="218.50" y="188.30" width="6.00" height="46.70" fill="#2e2e2e" stroke="#111" stroke-width="1.1"/>
<line x1="221.50" y1="235.00" x2="221.50" y2="238.20" stroke="#000" stroke-width="1.2"/>
<text x="0" y="0" font-size="7.6" font-weight="bold" text-anchor="end" transform="translate(224.10 245.00) rotate(-45)">IT</text>
<line x1="232.70" y1="204.00" x2="232.70" y2="195.80" stroke="#111" stroke-width="1.3"/>
<line x1="230.50" y1="195.80" x2="234.90" y2="195.80" stroke="#111" stroke-width="1.3"/>
<rect x="229.70" y="204.00" width="6.00" height="31.00" fill="#2e2e2e" stroke="#111" stroke-width="1.1"/>
<line x1="232.70" y1="235.00" x2="232.70" y2="238.20" stroke="#000" stroke-width="1.2"/>
<text x="0" y="0" font-size="7.6" font-weight="bold" text-anchor="end" transform="translate(235.30 245.00) rotate(-45)">IT + DS</text>
<line x1="51.00" y1="139.40" x2="51.00" y2="235.60" stroke="#000" stroke-width="1.5"/>
<line x1="50.30" y1="235.00" x2="242.00" y2="235.00" stroke="#000" stroke-width="1.4"/>
<line x1="47.80" y1="235.00" x2="51.00" y2="235.00" stroke="#000" stroke-width="1.3"/>
<text x="46.80" y="237.74" font-size="7.6" font-weight="bold" font-style="normal" text-anchor="end" fill="#000">0.0</text>
<line x1="47.80" y1="216.00" x2="51.00" y2="216.00" stroke="#000" stroke-width="1.3"/>
<text x="46.80" y="218.74" font-size="7.6" font-weight="bold" font-style="normal" text-anchor="end" fill="#000">0.5</text>
<line x1="47.80" y1="197.00" x2="51.00" y2="197.00" stroke="#000" stroke-width="1.3"/>
<text x="46.80" y="199.74" font-size="7.6" font-weight="bold" font-style="normal" text-anchor="end" fill="#000">1.0</text>
<line x1="47.80" y1="178.00" x2="51.00" y2="178.00" stroke="#000" stroke-width="1.3"/>
<text x="46.80" y="180.74" font-size="7.6" font-weight="bold" font-style="normal" text-anchor="end" fill="#000">1.5</text>
<line x1="47.80" y1="159.00" x2="51.00" y2="159.00" stroke="#000" stroke-width="1.3"/>
<text x="46.80" y="161.74" font-size="7.6" font-weight="bold" font-style="normal" text-anchor="end" fill="#000">2.0</text>
<line x1="47.80" y1="140.00" x2="51.00" y2="140.00" stroke="#000" stroke-width="1.3"/>
<text x="46.80" y="142.74" font-size="7.6" font-weight="bold" font-style="normal" text-anchor="end" fill="#000">2.5</text>
<text x="15.50" y="190.67" font-size="8.8" font-weight="bold" font-style="normal" text-anchor="middle" fill="#000" transform="rotate(-90 15.50 187.50)">Gene expression</text>
<text x="26.80" y="190.49" font-size="8.3" font-weight="bold" font-style="normal" text-anchor="middle" fill="#000" transform="rotate(-90 26.80 187.50)">(x-fold of control)</text>
<line x1="57.80" y1="151.30" x2="110.00" y2="151.30" stroke="#000" stroke-width="1.3"/>
<text x="87.00" y="148.22" font-size="8.1" font-weight="bold" font-style="italic" text-anchor="middle" fill="#000">BCL2</text>
<line x1="120.50" y1="151.30" x2="172.80" y2="151.30" stroke="#000" stroke-width="1.3"/>
<text x="154.50" y="148.22" font-size="8.1" font-weight="bold" font-style="italic" text-anchor="middle" fill="#000">BCL-XL</text>
<line x1="185.00" y1="151.30" x2="237.20" y2="151.30" stroke="#000" stroke-width="1.3"/>
<text x="210.80" y="148.22" font-size="8.1" font-weight="bold" font-style="italic" text-anchor="middle" fill="#000">Survivin</text>
<polyline points="59.4,189.4 59.4,183.1 84,183.1 84,203.8" fill="none" stroke="#000" stroke-width="1.2"/>
<text x="73.75" y="183.26" font-size="8.5" font-weight="bold" font-style="normal" text-anchor="middle" fill="#000">*</text>
<text x="287" y="143" font-size="14" font-weight="bold">D</text>
<rect x="325.50" y="155.75" width="136.50" height="18.75" fill="#fafafa" stroke="#151515" stroke-width="1.4"/>
<rect x="325.50" y="179.50" width="136.50" height="43.75" fill="#fafafa" stroke="#151515" stroke-width="1.4"/>
<rect x="327.90" y="163.95" width="18.80" height="2.30" rx="1.15" fill="#000" fill-opacity="0.82" filter="url(#b3)" transform="rotate(1 337.3 165.1)"/>
<rect x="349.60" y="164.25" width="18.80" height="2.30" rx="1.15" fill="#000" fill-opacity="0.82" filter="url(#b3)"/>
<rect x="370.80" y="163.95" width="18.80" height="2.30" rx="1.15" fill="#000" fill-opacity="0.82" filter="url(#b3)" transform="rotate(-1.5 380.2 165.1)"/>
<rect x="393.10" y="164.25" width="18.80" height="2.30" rx="1.15" fill="#000" fill-opacity="0.82" filter="url(#b3)"/>
<rect x="415.60" y="163.95" width="18.80" height="2.30" rx="1.15" fill="#000" fill-opacity="0.82" filter="url(#b3)" transform="rotate(-1.5 425.0 165.1)"/>
<rect x="437.95" y="164.25" width="20.50" height="2.30" rx="1.15" fill="#000" fill-opacity="0.82" filter="url(#b3)"/>
<rect x="329.05" y="194.40" width="16.50" height="3.80" rx="1.90" fill="#000" fill-opacity="0.58" filter="url(#b2)"/>
<rect x="350.75" y="194.40" width="16.50" height="3.80" rx="1.90" fill="#000" fill-opacity="0.66" filter="url(#b2)"/>
<rect x="371.95" y="194.50" width="16.50" height="3.60" rx="1.80" fill="#000" fill-opacity="0.56" filter="url(#b2)"/>
<rect x="394.25" y="194.10" width="16.50" height="4.40" rx="2.20" fill="#000" fill-opacity="0.92" filter="url(#b2)"/>
<rect x="416.75" y="194.20" width="16.50" height="4.20" rx="2.10" fill="#000" fill-opacity="0.82" filter="url(#b2)"/>
<rect x="438.70" y="193.90" width="19.00" height="4.80" rx="2.40" fill="#000" fill-opacity="1.0" filter="url(#b2)"/>
<rect x="329.80" y="212.60" width="15.00" height="2.40" rx="1.20" fill="#000" fill-opacity="0.1" filter="url(#b1)"/>
<rect x="351.50" y="212.60" width="15.00" height="2.40" rx="1.20" fill="#000" fill-opacity="0.14" filter="url(#b1)"/>
<rect x="372.70" y="212.60" width="15.00" height="2.40" rx="1.20" fill="#000" fill-opacity="0.08" filter="url(#b1)"/>
<rect x="395.00" y="212.60" width="15.00" height="2.40" rx="1.20" fill="#000" fill-opacity="0.34" filter="url(#b1)" transform="rotate(-3 402.5 213.8)"/>
<rect x="417.50" y="212.60" width="15.00" height="2.40" rx="1.20" fill="#000" fill-opacity="0.14" filter="url(#b1)"/>
<rect x="439.20" y="212.60" width="18.00" height="2.40" rx="1.20" fill="#000" fill-opacity="0.34" filter="url(#b1)" transform="rotate(-3 448.2 213.8)"/>
<text x="320.00" y="171.44" font-size="9" font-weight="bold" font-style="normal" text-anchor="end" fill="#000">Hsp90</text>
<text x="318.80" y="207.04" font-size="9" font-weight="bold" font-style="normal" text-anchor="end" fill="#000">Bim</text>
<text x="461.00" y="152.04" font-size="9" font-weight="bold" font-style="normal" text-anchor="start" fill="#000">kDa</text>
<text x="465.80" y="167.99" font-size="8.3" font-weight="bold" font-style="normal" text-anchor="start" fill="#000">90</text>
<text x="465.80" y="198.49" font-size="8.3" font-weight="bold" font-style="normal" text-anchor="start" fill="#000">23</text>
<text x="465.80" y="215.99" font-size="8.3" font-weight="bold" font-style="normal" text-anchor="start" fill="#000">15</text>
<text x="337.80" y="235.62" font-size="8.4" font-weight="bold" font-style="normal" text-anchor="middle" fill="#000" stroke="#000" stroke-width="0.25">–</text>
<text x="361.30" y="235.62" font-size="8.4" font-weight="bold" font-style="normal" text-anchor="middle" fill="#000" stroke="#000" stroke-width="0.25">+</text>
<text x="382.00" y="235.62" font-size="8.4" font-weight="bold" font-style="normal" text-anchor="middle" fill="#000" stroke="#000" stroke-width="0.25">–</text>
<text x="404.00" y="235.62" font-size="8.4" font-weight="bold" font-style="normal" text-anchor="middle" fill="#000" stroke="#000" stroke-width="0.25">+</text>
<text x="426.00" y="235.62" font-size="8.4" font-weight="bold" font-style="normal" text-anchor="middle" fill="#000" stroke="#000" stroke-width="0.25">–</text>
<text x="449.60" y="235.62" font-size="8.4" font-weight="bold" font-style="normal" text-anchor="middle" fill="#000" stroke="#000" stroke-width="0.25">+</text>
<text x="462.00" y="235.49" font-size="8.3" font-weight="bold" font-style="normal" text-anchor="start" fill="#000">DS</text>
<line x1="332.00" y1="239.10" x2="366.00" y2="239.10" stroke="#000" stroke-width="1.5"/>
<text x="350.90" y="250.95" font-size="8.2" font-weight="bold" font-style="normal" text-anchor="middle" fill="#000">Con</text>
<line x1="376.60" y1="239.10" x2="411.00" y2="239.10" stroke="#000" stroke-width="1.5"/>
<text x="394.00" y="250.95" font-size="8.2" font-weight="bold" font-style="normal" text-anchor="middle" fill="#000">5-FU</text>
<line x1="421.00" y1="239.10" x2="455.00" y2="239.10" stroke="#000" stroke-width="1.5"/>
<text x="437.80" y="250.95" font-size="8.2" font-weight="bold" font-style="normal" text-anchor="middle" fill="#000">IT</text>
<text x="0" y="284.9" font-size="14" font-weight="bold">E</text>
<rect x="40.60" y="290.30" width="176.40" height="25.10" fill="#fafafa" stroke="#151515" stroke-width="1.4"/>
<rect x="40.60" y="321.80" width="176.40" height="25.40" fill="#fafafa" stroke="#151515" stroke-width="1.4"/>
<rect x="40.60" y="353.50" width="176.40" height="32.60" fill="#fafafa" stroke="#151515" stroke-width="1.4"/>
<rect x="47.10" y="300.70" width="17.00" height="2.60" rx="1.30" fill="#000" fill-opacity="0.85" filter="url(#b3)"/>
<rect x="67.10" y="301.10" width="17.00" height="2.60" rx="1.30" fill="#000" fill-opacity="0.85" filter="url(#b3)"/>
<rect x="87.50" y="301.10" width="17.00" height="2.60" rx="1.30" fill="#000" fill-opacity="0.85" filter="url(#b3)"/>
<rect x="107.50" y="300.70" width="17.00" height="2.60" rx="1.30" fill="#000" fill-opacity="0.85" filter="url(#b3)"/>
<rect x="128.50" y="300.70" width="17.00" height="2.60" rx="1.30" fill="#000" fill-opacity="0.68" filter="url(#b3)" transform="rotate(-1.2 137.0 302.0)"/>
<rect x="148.50" y="301.10" width="17.00" height="2.60" rx="1.30" fill="#000" fill-opacity="0.68" filter="url(#b3)" transform="rotate(-1.2 157.0 302.4)"/>
<rect x="168.50" y="300.70" width="17.00" height="2.60" rx="1.30" fill="#000" fill-opacity="0.68" filter="url(#b3)" transform="rotate(-1.2 177.0 302.0)"/>
<rect x="189.50" y="300.40" width="19.00" height="3.20" rx="1.60" fill="#000" fill-opacity="1.0" filter="url(#b3)" transform="rotate(-1.2 199.0 302.0)"/>
<rect x="47.85" y="334.50" width="15.50" height="2.20" rx="1.10" fill="#000" fill-opacity="0.2" filter="url(#b3)"/>
<rect x="67.85" y="334.60" width="15.50" height="2.00" rx="1.00" fill="#000" fill-opacity="0.07" filter="url(#b3)"/>
<rect x="88.25" y="333.90" width="15.50" height="3.40" rx="1.70" fill="#000" fill-opacity="1.0" filter="url(#b3)"/>
<rect x="108.25" y="334.50" width="15.50" height="2.20" rx="1.10" fill="#000" fill-opacity="0.26" filter="url(#b3)"/>
<rect x="50.35" y="364.30" width="10.50" height="4.60" rx="2.30" fill="#000" fill-opacity="0.44" filter="url(#b2)"/>
<rect x="68.60" y="364.00" width="14.00" height="5.20" rx="2.60" fill="#000" fill-opacity="0.56" filter="url(#b2)"/>
<rect x="90.00" y="364.20" width="12.00" height="4.80" rx="2.40" fill="#000" fill-opacity="0.52" filter="url(#b2)"/>
<rect x="108.00" y="363.70" width="16.00" height="5.80" rx="2.90" fill="#000" fill-opacity="0.74" filter="url(#b2)"/>
<rect x="132.00" y="363.50" width="10.00" height="4.20" rx="2.10" fill="#000" fill-opacity="0.32" filter="url(#b2)"/>
<rect x="150.25" y="363.10" width="13.50" height="5.00" rx="2.50" fill="#000" fill-opacity="0.6" filter="url(#b2)"/>
<rect x="169.00" y="362.70" width="16.00" height="5.80" rx="2.90" fill="#000" fill-opacity="0.95" filter="url(#b2)"/>
<rect x="190.50" y="362.60" width="17.00" height="6.00" rx="3.00" fill="#000" fill-opacity="0.98" filter="url(#b2)"/>
<rect x="51.60" y="377.35" width="8.00" height="2.10" rx="1.05" fill="#000" fill-opacity="0.06" filter="url(#b3)" transform="rotate(2 55.6 378.4)"/>
<rect x="68.60" y="377.35" width="14.00" height="2.10" rx="1.05" fill="#000" fill-opacity="0.5" filter="url(#b3)" transform="rotate(2 75.6 378.4)"/>
<rect x="90.50" y="377.35" width="11.00" height="2.10" rx="1.05" fill="#000" fill-opacity="0.32" filter="url(#b3)" transform="rotate(2 96.0 378.4)"/>
<rect x="108.00" y="377.35" width="16.00" height="2.10" rx="1.05" fill="#000" fill-opacity="0.72" filter="url(#b3)" transform="rotate(2 116.0 378.4)"/>
<rect x="151.00" y="376.55" width="12.00" height="2.10" rx="1.05" fill="#000" fill-opacity="0.4" filter="url(#b3)" transform="rotate(-1.5 157.0 377.6)"/>
<rect x="170.00" y="376.55" width="14.00" height="2.10" rx="1.05" fill="#000" fill-opacity="0.5" filter="url(#b3)" transform="rotate(-1.5 177.0 377.6)"/>
<rect x="190.50" y="376.55" width="17.00" height="2.10" rx="1.05" fill="#000" fill-opacity="0.75" filter="url(#b3)" transform="rotate(-1.5 199.0 377.6)"/>
<text x="37.10" y="306.09" font-size="9.7" font-weight="bold" font-style="normal" text-anchor="end" fill="#000">Hsp90</text>
<text x="34.80" y="338.09" font-size="9.7" font-weight="bold" font-style="normal" text-anchor="end" fill="#000">p53</text>
<text x="34.80" y="371.99" font-size="9.7" font-weight="bold" font-style="normal" text-anchor="end" fill="#000">Bim</text>
<text x="220.20" y="287.67" font-size="8.8" font-weight="bold" font-style="normal" text-anchor="start" fill="#000">kDa</text>
<text x="221.30" y="305.15" font-size="8.2" font-weight="bold" font-style="normal" text-anchor="start" fill="#000">90</text>
<text x="221.30" y="337.65" font-size="8.2" font-weight="bold" font-style="normal" text-anchor="start" fill="#000">53</text>
<text x="221.30" y="366.55" font-size="8.2" font-weight="bold" font-style="normal" text-anchor="start" fill="#000">23</text>
<text x="221.30" y="384.75" font-size="8.2" font-weight="bold" font-style="normal" text-anchor="start" fill="#000">15</text>
<text x="51.30" y="401.35" font-size="8.2" font-weight="bold" font-style="normal" text-anchor="middle" fill="#000">Con</text>
<text x="75.20" y="401.35" font-size="8.2" font-weight="bold" font-style="normal" text-anchor="middle" fill="#000">DS</text>
<text x="93.70" y="401.35" font-size="8.2" font-weight="bold" font-style="normal" text-anchor="middle" fill="#000">IT</text>
<text x="114.30" y="401.35" font-size="8.2" font-weight="bold" font-style="normal" text-anchor="middle" fill="#000">++</text>
<text x="136.60" y="401.35" font-size="8.2" font-weight="bold" font-style="normal" text-anchor="middle" fill="#000">Con</text>
<text x="160.20" y="401.35" font-size="8.2" font-weight="bold" font-style="normal" text-anchor="middle" fill="#000">DS</text>
<text x="181.60" y="401.35" font-size="8.2" font-weight="bold" font-style="normal" text-anchor="middle" fill="#000">IT</text>
<text x="202.60" y="401.35" font-size="8.2" font-weight="bold" font-style="normal" text-anchor="middle" fill="#000">++</text>
<line x1="50.20" y1="407.50" x2="119.70" y2="407.50" stroke="#000" stroke-width="1.4"/>
<line x1="133.00" y1="407.50" x2="202.90" y2="407.50" stroke="#000" stroke-width="1.4"/>
<text x="83" y="420.9" font-size="9" font-weight="bold" font-style="italic" text-anchor="middle">p53<tspan font-size="6.2" dy="-3.4">+/+</tspan></text>
<text x="167.3" y="420.9" font-size="9" font-weight="bold" font-style="italic" text-anchor="middle">p53<tspan font-size="6.2" dy="-3.4"> −/−</tspan></text>
<text x="285.9" y="282" font-size="13.6" font-weight="bold">F</text>
<rect x="336.25" y="370.75" width="9.50" height="8.85" fill="#d9d9d9" stroke="#000" stroke-width="1.15"/>
<line x1="357.75" y1="365.00" x2="357.75" y2="361.75" stroke="#000" stroke-width="1.2"/>
<line x1="355.35" y1="361.75" x2="360.15" y2="361.75" stroke="#000" stroke-width="1.2"/>
<rect x="353.00" y="365.00" width="9.50" height="14.60" fill="#d9d9d9" stroke="#000" stroke-width="1.15"/>
<line x1="374.62" y1="359.50" x2="374.62" y2="356.75" stroke="#000" stroke-width="1.2"/>
<line x1="372.23" y1="356.75" x2="377.02" y2="356.75" stroke="#000" stroke-width="1.2"/>
<rect x="369.75" y="359.50" width="9.75" height="20.10" fill="#d9d9d9" stroke="#000" stroke-width="1.15"/>
<line x1="391.00" y1="352.00" x2="391.00" y2="345.00" stroke="#000" stroke-width="1.2"/>
<line x1="388.60" y1="345.00" x2="393.40" y2="345.00" stroke="#000" stroke-width="1.2"/>
<rect x="386.25" y="352.00" width="9.50" height="27.60" fill="#d9d9d9" stroke="#000" stroke-width="1.15"/>
<rect x="414.25" y="370.75" width="9.00" height="8.85" fill="#d9d9d9" stroke="#000" stroke-width="1.15"/>
<line x1="435.50" y1="365.00" x2="435.50" y2="358.75" stroke="#000" stroke-width="1.2"/>
<line x1="433.10" y1="358.75" x2="437.90" y2="358.75" stroke="#000" stroke-width="1.2"/>
<rect x="431.00" y="365.00" width="9.00" height="14.60" fill="#d9d9d9" stroke="#000" stroke-width="1.15"/>
<line x1="452.25" y1="334.50" x2="452.25" y2="312.50" stroke="#000" stroke-width="1.2"/>
<line x1="449.85" y1="312.50" x2="454.65" y2="312.50" stroke="#000" stroke-width="1.2"/>
<rect x="447.50" y="334.50" width="9.50" height="45.10" fill="#d9d9d9" stroke="#000" stroke-width="1.15"/>
<line x1="469.00" y1="315.75" x2="469.00" y2="295.50" stroke="#000" stroke-width="1.2"/>
<line x1="466.60" y1="295.50" x2="471.40" y2="295.50" stroke="#000" stroke-width="1.2"/>
<rect x="464.25" y="315.75" width="9.50" height="63.85" fill="#d9d9d9" stroke="#000" stroke-width="1.15"/>
<line x1="332.70" y1="279.00" x2="332.70" y2="380.20" stroke="#000" stroke-width="1.5"/>
<line x1="332.00" y1="379.60" x2="477.50" y2="379.60" stroke="#000" stroke-width="1.4"/>
<line x1="329.30" y1="379.60" x2="332.70" y2="379.60" stroke="#000" stroke-width="1.3"/>
<line x1="330.90" y1="369.60" x2="332.70" y2="369.60" stroke="#000" stroke-width="1.0"/>
<text x="327.60" y="382.74" font-size="7.9" font-weight="bold" font-style="normal" text-anchor="end" fill="#000">0</text>
<line x1="329.30" y1="359.60" x2="332.70" y2="359.60" stroke="#000" stroke-width="1.3"/>
<line x1="330.90" y1="349.60" x2="332.70" y2="349.60" stroke="#000" stroke-width="1.0"/>
<text x="327.60" y="362.74" font-size="7.9" font-weight="bold" font-style="normal" text-anchor="end" fill="#000">2</text>
<line x1="329.30" y1="339.60" x2="332.70" y2="339.60" stroke="#000" stroke-width="1.3"/>
<line x1="330.90" y1="329.60" x2="332.70" y2="329.60" stroke="#000" stroke-width="1.0"/>
<text x="327.60" y="342.74" font-size="7.9" font-weight="bold" font-style="normal" text-anchor="end" fill="#000">4</text>
<line x1="329.30" y1="319.60" x2="332.70" y2="319.60" stroke="#000" stroke-width="1.3"/>
<line x1="330.90" y1="309.60" x2="332.70" y2="309.60" stroke="#000" stroke-width="1.0"/>
<text x="327.60" y="322.74" font-size="7.9" font-weight="bold" font-style="normal" text-anchor="end" fill="#000">6</text>
<line x1="329.30" y1="299.60" x2="332.70" y2="299.60" stroke="#000" stroke-width="1.3"/>
<line x1="330.90" y1="289.60" x2="332.70" y2="289.60" stroke="#000" stroke-width="1.0"/>
<text x="327.60" y="302.74" font-size="7.9" font-weight="bold" font-style="normal" text-anchor="end" fill="#000">8</text>
<line x1="329.30" y1="279.60" x2="332.70" y2="279.60" stroke="#000" stroke-width="1.3"/>
<text x="327.60" y="282.74" font-size="7.9" font-weight="bold" font-style="normal" text-anchor="end" fill="#000">10</text>
<text x="298.10" y="333.28" font-size="9.1" font-weight="bold" font-style="normal" text-anchor="middle" fill="#000" transform="rotate(-90 298.10 330.00)">Bim level</text>
<text x="309.50" y="333.13" font-size="8.7" font-weight="bold" font-style="normal" text-anchor="middle" fill="#000" transform="rotate(-90 309.50 330.00)">(x-fold of control)</text>
<text x="375.20" y="353.84" font-size="9" font-weight="bold" font-style="normal" text-anchor="middle" fill="#000" letter-spacing="0.6">**</text>
<text x="391.30" y="342.84" font-size="9" font-weight="bold" font-style="normal" text-anchor="middle" fill="#000">*</text>
<text x="468.90" y="293.04" font-size="9" font-weight="bold" font-style="normal" text-anchor="middle" fill="#000">*</text>
<text x="341.50" y="392.35" font-size="8.2" font-weight="bold" font-style="normal" text-anchor="middle" fill="#000" stroke="#000" stroke-width="0.25">–</text>
<text x="341.50" y="401.95" font-size="8.2" font-weight="bold" font-style="normal" text-anchor="middle" fill="#000" stroke="#000" stroke-width="0.25">–</text>
<text x="358.00" y="392.35" font-size="8.2" font-weight="bold" font-style="normal" text-anchor="middle" fill="#000" stroke="#000" stroke-width="0.25">+</text>
<text x="358.00" y="401.95" font-size="8.2" font-weight="bold" font-style="normal" text-anchor="middle" fill="#000" stroke="#000" stroke-width="0.25">–</text>
<text x="374.30" y="392.35" font-size="8.2" font-weight="bold" font-style="normal" text-anchor="middle" fill="#000" stroke="#000" stroke-width="0.25">–</text>
<text x="374.30" y="401.95" font-size="8.2" font-weight="bold" font-style="normal" text-anchor="middle" fill="#000" stroke="#000" stroke-width="0.25">+</text>
<text x="391.00" y="392.35" font-size="8.2" font-weight="bold" font-style="normal" text-anchor="middle" fill="#000" stroke="#000" stroke-width="0.25">+</text>
<text x="391.00" y="401.95" font-size="8.2" font-weight="bold" font-style="normal" text-anchor="middle" fill="#000" stroke="#000" stroke-width="0.25">+</text>
<text x="419.30" y="392.35" font-size="8.2" font-weight="bold" font-style="normal" text-anchor="middle" fill="#000" stroke="#000" stroke-width="0.25">–</text>
<text x="419.30" y="401.95" font-size="8.2" font-weight="bold" font-style="normal" text-anchor="middle" fill="#000" stroke="#000" stroke-width="0.25">–</text>
<text x="436.00" y="392.35" font-size="8.2" font-weight="bold" font-style="normal" text-anchor="middle" fill="#000" stroke="#000" stroke-width="0.25">+</text>
<text x="436.00" y="401.95" font-size="8.2" font-weight="bold" font-style="normal" text-anchor="middle" fill="#000" stroke="#000" stroke-width="0.25">–</text>
<text x="452.20" y="392.35" font-size="8.2" font-weight="bold" font-style="normal" text-anchor="middle" fill="#000" stroke="#000" stroke-width="0.25">–</text>
<text x="452.20" y="401.95" font-size="8.2" font-weight="bold" font-style="normal" text-anchor="middle" fill="#000" stroke="#000" stroke-width="0.25">+</text>
<text x="468.80" y="392.35" font-size="8.2" font-weight="bold" font-style="normal" text-anchor="middle" fill="#000" stroke="#000" stroke-width="0.25">+</text>
<text x="468.80" y="401.95" font-size="8.2" font-weight="bold" font-style="normal" text-anchor="middle" fill="#000" stroke="#000" stroke-width="0.25">+</text>
<text x="477.30" y="392.59" font-size="8.3" font-weight="bold" font-style="normal" text-anchor="start" fill="#000">DS</text>
<text x="477.30" y="401.99" font-size="8.3" font-weight="bold" font-style="normal" text-anchor="start" fill="#000">IT</text>
<line x1="337.00" y1="408.30" x2="395.00" y2="408.30" stroke="#000" stroke-width="1.4"/>
<line x1="416.00" y1="408.30" x2="473.60" y2="408.30" stroke="#000" stroke-width="1.4"/>
<text x="365" y="418.8" font-size="7.8" font-weight="bold" text-anchor="middle">p53<tspan font-size="5" dy="-3">+/+</tspan></text>
<text x="447.4" y="418.0" font-size="7.8" font-weight="bold" text-anchor="middle">p53<tspan font-size="5" dy="-3"> −/−</tspan></text>
<text x="0.3" y="432.3" font-size="13.8" font-weight="bold">G</text>
<rect x="40.40" y="441.90" width="175.90" height="21.30" fill="#fafafa" stroke="#151515" stroke-width="1.4"/>
<rect x="40.40" y="471.10" width="175.90" height="50.20" fill="#fafafa" stroke="#151515" stroke-width="1.4"/>
<rect x="50.25" y="450.95" width="15.00" height="2.50" rx="1.25" fill="#000" fill-opacity="0.6" filter="url(#b3)"/>
<rect x="70.00" y="450.95" width="15.00" height="2.50" rx="1.25" fill="#000" fill-opacity="0.62" filter="url(#b3)"/>
<rect x="89.50" y="450.95" width="15.50" height="2.50" rx="1.25" fill="#000" fill-opacity="0.75" filter="url(#b3)"/>
<rect x="109.50" y="450.95" width="16.50" height="2.50" rx="1.25" fill="#000" fill-opacity="0.8" filter="url(#b3)"/>
<rect x="131.25" y="450.95" width="16.00" height="2.50" rx="1.25" fill="#000" fill-opacity="0.85" filter="url(#b3)"/>
<rect x="151.00" y="450.95" width="16.00" height="2.50" rx="1.25" fill="#000" fill-opacity="1.0" filter="url(#b3)"/>
<rect x="171.00" y="450.95" width="14.00" height="2.50" rx="1.25" fill="#000" fill-opacity="0.7" filter="url(#b3)"/>
<rect x="188.50" y="450.95" width="18.50" height="2.50" rx="1.25" fill="#000" fill-opacity="0.8" filter="url(#b3)"/>
<rect x="52.75" y="484.30" width="10.00" height="2.60" rx="1.30" fill="#000" fill-opacity="0.42" filter="url(#b1)"/>
<rect x="72.25" y="484.20" width="10.50" height="2.80" rx="1.40" fill="#000" fill-opacity="0.58" filter="url(#b1)"/>
<rect x="91.00" y="483.90" width="12.50" height="3.40" rx="1.70" fill="#000" fill-opacity="0.9" filter="url(#b1)"/>
<rect x="110.75" y="483.60" width="14.00" height="4.00" rx="2.00" fill="#000" fill-opacity="1.0" filter="url(#b1)"/>
<rect x="194.75" y="484.00" width="10.00" height="2.40" rx="1.20" fill="#000" fill-opacity="0.13" filter="url(#b1)"/>
<rect x="95.25" y="507.30" width="6.00" height="2.40" rx="1.20" fill="#000" fill-opacity="0.05" filter="url(#b1)"/>
<rect x="118.75" y="506.30" width="6.00" height="2.40" rx="1.20" fill="#000" fill-opacity="0.06" filter="url(#b1)"/>
<rect x="121.25" y="511.30" width="5.00" height="2.40" rx="1.20" fill="#000" fill-opacity="0.05" filter="url(#b1)"/>
<text x="33.50" y="456.26" font-size="9.9" font-weight="bold" font-style="normal" text-anchor="end" fill="#000">Hsp90</text>
<text x="33.30" y="490.56" font-size="9.9" font-weight="bold" font-style="normal" text-anchor="end" fill="#000">Bim</text>
<text x="217.00" y="441.10" font-size="8.6" font-weight="bold" font-style="normal" text-anchor="start" fill="#000">kDa</text>
<text x="221.00" y="457.95" font-size="8.2" font-weight="bold" font-style="normal" text-anchor="start" fill="#000">90</text>
<text x="221.00" y="487.95" font-size="8.2" font-weight="bold" font-style="normal" text-anchor="start" fill="#000">23</text>
<text x="221.00" y="515.95" font-size="8.2" font-weight="bold" font-style="normal" text-anchor="start" fill="#000">15</text>
<text x="55.00" y="534.65" font-size="8.2" font-weight="bold" font-style="normal" text-anchor="middle" fill="#000">Con</text>
<text x="80.50" y="534.65" font-size="8.2" font-weight="bold" font-style="normal" text-anchor="middle" fill="#000">DS</text>
<text x="99.50" y="534.65" font-size="8.2" font-weight="bold" font-style="normal" text-anchor="middle" fill="#000">IT</text>
<text x="119.70" y="534.65" font-size="8.2" font-weight="bold" font-style="normal" text-anchor="middle" fill="#000">++</text>
<text x="145.30" y="534.65" font-size="8.2" font-weight="bold" font-style="normal" text-anchor="middle" fill="#000">Con</text>
<text x="164.10" y="534.65" font-size="8.2" font-weight="bold" font-style="normal" text-anchor="middle" fill="#000">DS</text>
<text x="180.30" y="534.65" font-size="8.2" font-weight="bold" font-style="normal" text-anchor="middle" fill="#000">IT</text>
<text x="198.30" y="534.65" font-size="8.2" font-weight="bold" font-style="normal" text-anchor="middle" fill="#000">++</text>
<line x1="49.00" y1="541.10" x2="120.90" y2="541.10" stroke="#000" stroke-width="1.4"/>
<line x1="131.20" y1="541.10" x2="203.00" y2="541.10" stroke="#000" stroke-width="1.4"/>
<text x="84.50" y="553.81" font-size="9.2" font-weight="bold" font-style="italic" text-anchor="middle" fill="#000">scrRNA</text>
<text x="169.50" y="553.79" font-size="9.15" font-weight="bold" font-style="italic" text-anchor="middle" fill="#000">Bim siRNA</text>
<text x="282.8" y="432.5" font-size="13.8" font-weight="bold">H</text>
<line x1="325.95" y1="541.50" x2="325.95" y2="540.00" stroke="#000" stroke-width="0.9"/>
<line x1="323.75" y1="540.00" x2="328.15" y2="540.00" stroke="#000" stroke-width="0.9"/>
<rect x="322.00" y="541.50" width="7.90" height="11.75" fill="#333333" stroke="#111" stroke-width="0.9"/>
<line x1="340.50" y1="527.00" x2="340.50" y2="525.80" stroke="#000" stroke-width="0.9"/>
<line x1="338.30" y1="525.80" x2="342.70" y2="525.80" stroke="#000" stroke-width="0.9"/>
<rect x="336.50" y="527.00" width="8.00" height="1.60" fill="#d9d9d9" stroke="#000" stroke-width="0.9"/>
<rect x="336.50" y="528.60" width="8.00" height="24.65" fill="#333333" stroke="#111" stroke-width="0.9"/>
<line x1="355.00" y1="503.75" x2="355.00" y2="502.00" stroke="#000" stroke-width="0.9"/>
<line x1="352.80" y1="502.00" x2="357.20" y2="502.00" stroke="#000" stroke-width="0.9"/>
<rect x="350.90" y="503.75" width="8.20" height="4.25" fill="#d9d9d9" stroke="#000" stroke-width="0.9"/>
<rect x="350.90" y="508.00" width="8.20" height="45.25" fill="#333333" stroke="#111" stroke-width="0.9"/>
<line x1="355.00" y1="508.00" x2="355.00" y2="506.00" stroke="#fff" stroke-width="0.9"/>
<line x1="353.00" y1="506.00" x2="357.00" y2="506.00" stroke="#fff" stroke-width="0.9"/>
<line x1="369.40" y1="463.75" x2="369.40" y2="454.60" stroke="#000" stroke-width="0.9"/>
<line x1="367.20" y1="454.60" x2="371.60" y2="454.60" stroke="#000" stroke-width="0.9"/>
<rect x="365.10" y="463.75" width="8.60" height="24.25" fill="#d9d9d9" stroke="#000" stroke-width="0.9"/>
<rect x="365.10" y="488.00" width="8.60" height="65.25" fill="#333333" stroke="#111" stroke-width="0.9"/>
<line x1="369.40" y1="488.00" x2="369.40" y2="482.50" stroke="#111" stroke-width="0.9"/>
<line x1="367.40" y1="482.50" x2="371.40" y2="482.50" stroke="#111" stroke-width="0.9"/>
<line x1="383.25" y1="539.00" x2="383.25" y2="538.00" stroke="#000" stroke-width="0.9"/>
<line x1="381.05" y1="538.00" x2="385.45" y2="538.00" stroke="#000" stroke-width="0.9"/>
<rect x="379.30" y="539.00" width="7.90" height="1.40" fill="#d9d9d9" stroke="#000" stroke-width="0.9"/>
<rect x="379.30" y="540.40" width="7.90" height="12.85" fill="#333333" stroke="#111" stroke-width="0.9"/>
<line x1="397.90" y1="531.80" x2="397.90" y2="531.00" stroke="#000" stroke-width="0.9"/>
<line x1="395.70" y1="531.00" x2="400.10" y2="531.00" stroke="#000" stroke-width="0.9"/>
<rect x="394.00" y="531.80" width="7.80" height="3.40" fill="#d9d9d9" stroke="#000" stroke-width="0.9"/>
<rect x="394.00" y="535.20" width="7.80" height="18.05" fill="#333333" stroke="#111" stroke-width="0.9"/>
<line x1="412.35" y1="505.00" x2="412.35" y2="502.50" stroke="#000" stroke-width="0.9"/>
<line x1="410.15" y1="502.50" x2="414.55" y2="502.50" stroke="#000" stroke-width="0.9"/>
<rect x="408.20" y="505.00" width="8.30" height="7.50" fill="#d9d9d9" stroke="#000" stroke-width="0.9"/>
<rect x="408.20" y="512.50" width="8.30" height="40.75" fill="#333333" stroke="#111" stroke-width="0.9"/>
<line x1="412.35" y1="512.50" x2="412.35" y2="510.00" stroke="#111" stroke-width="0.9"/>
<line x1="410.35" y1="510.00" x2="414.35" y2="510.00" stroke="#111" stroke-width="0.9"/>
<line x1="426.75" y1="485.75" x2="426.75" y2="476.25" stroke="#000" stroke-width="0.9"/>
<line x1="424.55" y1="476.25" x2="428.95" y2="476.25" stroke="#000" stroke-width="0.9"/>
<rect x="422.80" y="485.75" width="7.90" height="23.00" fill="#d9d9d9" stroke="#000" stroke-width="0.9"/>
<rect x="422.80" y="508.75" width="7.90" height="44.50" fill="#333333" stroke="#111" stroke-width="0.9"/>
<line x1="426.75" y1="508.75" x2="426.75" y2="507.20" stroke="#111" stroke-width="0.9"/>
<line x1="424.75" y1="507.20" x2="428.75" y2="507.20" stroke="#111" stroke-width="0.9"/>
<line x1="316.25" y1="433.90" x2="316.25" y2="553.85" stroke="#000" stroke-width="1.4"/>
<line x1="315.55" y1="553.25" x2="436.30" y2="553.25" stroke="#000" stroke-width="1.4"/>
<line x1="312.85" y1="553.25" x2="316.25" y2="553.25" stroke="#000" stroke-width="1.3"/>
<text x="311.30" y="555.95" font-size="7.5" font-weight="bold" font-style="normal" text-anchor="end" fill="#000">0</text>
<line x1="314.25" y1="541.38" x2="316.25" y2="541.38" stroke="#000" stroke-width="1.0"/>
<line x1="312.85" y1="529.50" x2="316.25" y2="529.50" stroke="#000" stroke-width="1.3"/>
<text x="311.30" y="532.20" font-size="7.5" font-weight="bold" font-style="normal" text-anchor="end" fill="#000">10</text>
<line x1="314.25" y1="517.62" x2="316.25" y2="517.62" stroke="#000" stroke-width="1.0"/>
<line x1="312.85" y1="505.75" x2="316.25" y2="505.75" stroke="#000" stroke-width="1.3"/>
<text x="311.30" y="508.45" font-size="7.5" font-weight="bold" font-style="normal" text-anchor="end" fill="#000">20</text>
<line x1="314.25" y1="493.88" x2="316.25" y2="493.88" stroke="#000" stroke-width="1.0"/>
<line x1="312.85" y1="482.00" x2="316.25" y2="482.00" stroke="#000" stroke-width="1.3"/>
<text x="311.30" y="484.70" font-size="7.5" font-weight="bold" font-style="normal" text-anchor="end" fill="#000">30</text>
<line x1="314.25" y1="470.12" x2="316.25" y2="470.12" stroke="#000" stroke-width="1.0"/>
<line x1="312.85" y1="458.25" x2="316.25" y2="458.25" stroke="#000" stroke-width="1.3"/>
<text x="311.30" y="460.95" font-size="7.5" font-weight="bold" font-style="normal" text-anchor="end" fill="#000">40</text>
<line x1="314.25" y1="446.38" x2="316.25" y2="446.38" stroke="#000" stroke-width="1.0"/>
<line x1="312.85" y1="434.50" x2="316.25" y2="434.50" stroke="#000" stroke-width="1.3"/>
<text x="311.30" y="437.20" font-size="7.5" font-weight="bold" font-style="normal" text-anchor="end" fill="#000">50</text>
<text x="291.00" y="496.95" font-size="8.9" font-weight="bold" font-style="normal" text-anchor="middle" fill="#000" transform="rotate(-90 291.00 493.75)">Cell death (%)</text>
<text x="326.00" y="563.31" font-size="7.8" font-weight="bold" font-style="normal" text-anchor="middle" fill="#000" stroke="#000" stroke-width="0.3">–</text>
<text x="339.90" y="563.31" font-size="7.8" font-weight="bold" font-style="normal" text-anchor="middle" fill="#000" stroke="#000" stroke-width="0.3">+</text>
<text x="353.20" y="563.31" font-size="7.8" font-weight="bold" font-style="normal" text-anchor="middle" fill="#000" stroke="#000" stroke-width="0.3">–</text>
<text x="369.50" y="563.31" font-size="7.8" font-weight="bold" font-style="normal" text-anchor="middle" fill="#000" stroke="#000" stroke-width="0.3">+</text>
<text x="382.70" y="563.31" font-size="7.8" font-weight="bold" font-style="normal" text-anchor="middle" fill="#000" stroke="#000" stroke-width="0.3">–</text>
<text x="397.20" y="563.31" font-size="7.8" font-weight="bold" font-style="normal" text-anchor="middle" fill="#000" stroke="#000" stroke-width="0.3">+</text>
<text x="412.40" y="563.31" font-size="7.8" font-weight="bold" font-style="normal" text-anchor="middle" fill="#000" stroke="#000" stroke-width="0.3">–</text>
<text x="428.60" y="563.31" font-size="7.8" font-weight="bold" font-style="normal" text-anchor="middle" fill="#000" stroke="#000" stroke-width="0.3">+</text>
<text x="438.80" y="563.34" font-size="7.9" font-weight="bold" font-style="normal" text-anchor="start" fill="#000">DS</text>
<line x1="321.50" y1="568.90" x2="343.50" y2="568.90" stroke="#000" stroke-width="1.4"/>
<text x="332.90" y="579.08" font-size="8.0" font-weight="bold" font-style="normal" text-anchor="middle" fill="#000">Con</text>
<line x1="349.30" y1="568.90" x2="370.90" y2="568.90" stroke="#000" stroke-width="1.4"/>
<text x="359.60" y="579.08" font-size="8.0" font-weight="bold" font-style="normal" text-anchor="middle" fill="#000">IT</text>
<line x1="380.40" y1="568.90" x2="401.20" y2="568.90" stroke="#000" stroke-width="1.4"/>
<text x="388.90" y="579.08" font-size="8.0" font-weight="bold" font-style="normal" text-anchor="middle" fill="#000">Con</text>
<line x1="410.00" y1="568.90" x2="430.40" y2="568.90" stroke="#000" stroke-width="1.4"/>
<text x="420.60" y="579.08" font-size="8.0" font-weight="bold" font-style="normal" text-anchor="middle" fill="#000">IT</text>
<line x1="325.00" y1="437.00" x2="369.25" y2="437.00" stroke="#000" stroke-width="1.3"/>
<text x="343.00" y="433.79" font-size="7.75" font-weight="bold" font-style="italic" text-anchor="middle" fill="#000">scr-RNA</text>
<line x1="382.50" y1="437.00" x2="425.60" y2="437.00" stroke="#000" stroke-width="1.3"/>
<text x="402.50" y="433.81" font-size="7.8" font-weight="bold" font-style="italic" text-anchor="middle" fill="#000">Bim siRNA</text>
<polyline points="369.25,452.6 369.25,449.4 425.6,449.4 425.6,473.6" fill="none" stroke="#000" stroke-width="1.1"/>
<text x="391.00" y="449.06" font-size="7.4" font-weight="bold" font-style="normal" text-anchor="middle" fill="#000" stroke="#000" stroke-width="0.3">****</text>
<rect x="441.80" y="436.30" width="12.20" height="2.40" fill="#d9d9d9" stroke="#000" stroke-width="1.2"/>
<rect x="441.80" y="456.40" width="12.20" height="2.40" fill="#333333" stroke="#111" stroke-width="1.2"/>
<text x="459.50" y="436.04" font-size="7.9" font-weight="bold" font-style="normal" text-anchor="start" fill="#000">Late apoptosis/</text>
<text x="461.75" y="445.44" font-size="7.9" font-weight="bold" font-style="normal" text-anchor="start" fill="#000">necrosis</text>
<text x="459.5" y="460.2" font-size="7.85" font-weight="bold" style="white-space:pre">Early  apoptosis</text>
</g>
</svg>
</body>
</html>
